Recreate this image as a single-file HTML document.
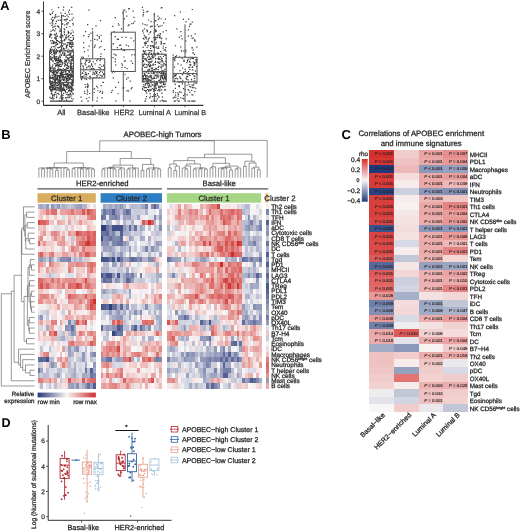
<!DOCTYPE html>
<html><head><meta charset="utf-8"><title>APOBEC figure</title>
<style>html,body{margin:0;padding:0;background:#fff;width:520px;height:532px;overflow:hidden}svg{display:block}</style>
</head><body><svg width="520" height="532" viewBox="0 0 520 532" font-family="Liberation Sans, Arial, sans-serif" text-rendering="geometricPrecision"><text x="0.3" y="9.6" font-size="12.8" font-weight="bold" fill="#000">A</text><path d="M52.52 79.23h1.2M50.64 58.74h1.2M57.68 67.95h1.2M61.08 94.71h1.2M59.31 98.09h1.2M51.08 92.75h1.2M68.74 74.43h1.2M54.26 88.93h1.2M71.65 60.62h1.2M58.42 64.65h1.2M50.02 14.71h1.2M55.85 38.43h1.2M51.73 87.93h1.2M68.49 79.96h1.2M62.86 86.14h1.2M57.84 59.7h1.2M50.41 67h1.2M53.84 94.44h1.2M59.16 56.37h1.2M62.95 79.69h1.2M56.09 73.06h1.2M65.68 45.74h1.2M62.69 83.04h1.2M69.9 68.81h1.2M55.81 52.45h1.2M51.73 13.39h1.2M67.07 74.73h1.2M60.64 87.55h1.2M64.94 97.81h1.2M62.65 49.14h1.2M56.43 36.5h1.2M63.16 55.18h1.2M59.85 64.43h1.2M71.57 40.54h1.2M64.84 72.06h1.2M65.74 94.26h1.2M72.73 59.04h1.2M55.73 42.6h1.2M64.95 76.27h1.2M59.98 101.2h1.2M51.71 86.76h1.2M67.34 94.55h1.2M54.84 88.66h1.2M69.81 76.03h1.2M59.68 91.05h1.2M70.1 66.86h1.2M69.64 42.9h1.2M58.87 81.39h1.2M70.12 77.56h1.2M52.52 19.78h1.2M54.47 86.36h1.2M60.54 83.57h1.2M55.21 63.69h1.2M58.95 101.2h1.2M62.49 77.06h1.2M65.47 20.9h1.2M63.72 69.58h1.2M50.2 56.71h1.2M67.62 33.75h1.2M68.05 36.61h1.2M58.48 75.96h1.2M64.12 89.92h1.2M50.52 94h1.2M52.8 84.77h1.2M50.16 78.45h1.2M52.53 101.2h1.2M57.63 90.02h1.2M69.88 101.2h1.2M52.47 61.69h1.2M57.24 82.64h1.2M51.85 77.3h1.2M72.73 39.52h1.2M60.51 72.45h1.2M51.35 90.79h1.2M55.25 78.33h1.2M52.77 41.81h1.2M71.72 101.2h1.2M52.42 68.56h1.2M49.55 67.37h1.2M72.38 68.57h1.2M65.61 37.88h1.2M57.7 82.22h1.2M67.43 86.81h1.2M67.6 68.21h1.2M54.25 78.95h1.2M72.54 43.79h1.2M68.25 39.1h1.2M66.66 43.01h1.2M61.32 83.89h1.2M49.6 77.71h1.2M55.61 101.2h1.2M65.52 82.31h1.2M59.63 20.08h1.2M72.61 24.78h1.2M57.65 20.44h1.2M54.34 84.2h1.2M53.8 85.36h1.2M70.51 60.89h1.2M60.41 40.49h1.2M68.09 58.57h1.2M64.75 90.84h1.2M67.68 31.34h1.2M60.37 50.78h1.2M67.84 86.25h1.2M68.12 78.81h1.2M58.4 16.27h1.2M71.62 75.53h1.2M52.98 52.82h1.2M52.53 88.77h1.2M68.26 32.53h1.2M68.74 87.83h1.2M64.67 13.35h1.2M62.07 77.96h1.2M49.24 88.58h1.2M64.49 16.52h1.2M71.31 68.7h1.2M69.82 73.98h1.2M53.97 42.12h1.2M55.93 82.66h1.2M62.97 83.21h1.2M58.96 82.3h1.2M70.74 88.57h1.2M59.9 77.8h1.2M70.6 64.15h1.2M70.93 74.61h1.2M61.66 70.69h1.2M49.35 68.94h1.2M53.29 73.68h1.2M68.08 101.2h1.2M60.26 86.55h1.2M62.26 52.79h1.2M61.34 79.13h1.2M67.72 66.38h1.2M62.35 89.8h1.2M55.55 82.82h1.2M61.09 48.26h1.2M67.14 65.88h1.2M59.54 30.69h1.2M61.03 61.81h1.2M65.53 69.85h1.2M61.7 73.1h1.2M71.5 71.87h1.2M69.94 54.87h1.2M55.13 23.53h1.2M71.54 66.06h1.2M52.19 40.54h1.2M59.51 89.04h1.2M54.68 92.3h1.2M64.97 92.21h1.2M70.43 46.93h1.2M66.09 87.43h1.2M52.33 57.99h1.2M72.12 35.66h1.2M71.76 84.24h1.2M60.59 75.68h1.2M68.88 10.12h1.2M59.26 87.09h1.2M57.04 69.58h1.2M56.54 85.41h1.2M49.37 53.03h1.2M59.47 66.5h1.2M56.86 101.2h1.2M61.19 60.9h1.2M72.54 93.67h1.2M72.22 46.43h1.2M55.27 89.86h1.2M67.6 97.74h1.2M52.01 81.77h1.2M70.77 74.53h1.2M55.11 42.94h1.2M70.96 87.68h1.2M65.71 65.17h1.2M50.28 90.61h1.2M59.11 55.75h1.2M71.42 92.33h1.2M68.14 60.06h1.2M69.45 90.89h1.2M69.61 93.28h1.2M57.04 73.03h1.2M71.14 66.57h1.2M52 81.9h1.2M54.62 68.67h1.2M52.77 89.63h1.2M53.74 95.96h1.2M56.22 79.79h1.2M55.86 49.72h1.2M53.17 70.82h1.2M49.34 78.12h1.2M49.27 82.73h1.2M62.13 52.16h1.2M60.29 85.71h1.2M51.45 25.35h1.2M59.27 42.94h1.2M68.93 71.06h1.2M61.06 75.92h1.2M72.48 55.79h1.2M68.87 78.33h1.2M64.16 54.27h1.2M57.24 75.37h1.2M52.02 95.3h1.2M66.68 92.61h1.2M52.82 82.48h1.2M69.09 90.86h1.2M64.99 37.06h1.2M54.71 81.23h1.2M59.93 80.7h1.2M59.6 87.28h1.2M71.98 82.12h1.2M62.03 15.94h1.2M72.08 83.02h1.2M57.46 79.91h1.2M58.06 101.2h1.2M60.97 72.03h1.2M61.01 85.15h1.2M55.24 101.2h1.2M58.49 90.6h1.2M49.44 97.4h1.2M54.49 80.16h1.2M61.6 63.97h1.2M64.68 50.74h1.2M70 53.52h1.2M56.73 76.1h1.2M52.49 11.85h1.2M64.34 52.87h1.2M68.95 97.05h1.2M63.96 34.62h1.2M68.39 52.09h1.2M61.47 88.17h1.2M68.94 70.47h1.2M68.73 44.57h1.2M70.33 64.09h1.2M65.54 56.18h1.2M49.65 83.73h1.2M57.56 88.47h1.2M68.96 89.85h1.2M63.97 66.14h1.2M65.24 60.71h1.2M48.98 71.34h1.2M66.86 45.36h1.2M61.74 70.59h1.2M50.49 58.07h1.2M54.95 51.86h1.2M55.27 91.99h1.2M53.83 52.46h1.2M72.32 51.61h1.2M58.08 71.11h1.2M65.31 71.83h1.2M63.71 48.87h1.2M50.76 59.39h1.2M54.99 87.77h1.2M56.21 51.34h1.2M49.2 65.4h1.2M55.35 94.27h1.2M65.51 57.05h1.2M55.88 56.75h1.2M60.05 69.5h1.2M51.74 72.43h1.2M53.68 34.42h1.2M71.37 14.08h1.2M59.92 101.2h1.2M72.13 42.83h1.2M55.35 73.24h1.2M71.59 84.72h1.2M62.86 84.67h1.2M61.48 88.05h1.2M52.08 20.99h1.2M61.11 42.8h1.2M65.78 35.2h1.2M70.44 83.66h1.2M49.5 71.49h1.2M60.7 101.2h1.2M56.15 73.17h1.2M57.16 88.1h1.2M69.07 79.6h1.2M66.92 101.2h1.2M51.78 40.64h1.2M66.01 27.34h1.2M55.86 33.32h1.2M58.33 76.92h1.2M63.04 7.11h1.2M59.17 77.47h1.2M50.06 81.55h1.2M68.93 90.01h1.2M71.35 81.05h1.2M55.28 82.78h1.2M53.46 69.95h1.2M71.85 76.87h1.2M68.39 35.49h1.2M70.82 60.34h1.2M62.08 23.89h1.2M50.09 53.24h1.2M59.72 52.21h1.2M64.37 50.5h1.2M50.08 81.02h1.2M51.96 27.24h1.2M57.15 72.15h1.2M66.64 80.47h1.2M55.14 14.7h1.2M56.12 58.33h1.2M58.36 66.23h1.2M52.78 86.8h1.2M70.64 84.81h1.2M54.18 70.96h1.2M72.82 32.19h1.2M52.25 73.21h1.2M51.08 85.57h1.2M51.09 78.36h1.2M55.1 83.28h1.2M70.19 65.25h1.2M58.81 50.83h1.2M61.48 74.93h1.2M57.02 76.7h1.2M55.56 94.04h1.2M51.92 17.38h1.2M64.01 70.55h1.2M54.08 37.93h1.2M54.86 81.75h1.2M59.6 75.61h1.2M69.27 20.7h1.2M49.42 36.79h1.2M65.93 99.99h1.2M60.26 34.19h1.2M48.9 63.84h1.2M71.14 76h1.2M69.43 42.18h1.2M54.86 16.07h1.2M52.61 89.65h1.2M65.27 69.03h1.2M66.22 23.7h1.2M67.26 59.02h1.2M62.14 72.86h1.2M67.68 97.75h1.2M70.98 83.6h1.2M56.19 59.17h1.2M54.94 88.73h1.2M65.67 59.91h1.2M50.59 89.5h1.2M62.89 68.87h1.2M54.27 76.16h1.2M49.15 62.73h1.2M59.96 80.29h1.2M64.37 19.49h1.2M60.31 35.55h1.2M54.83 83.5h1.2M65.81 19.09h1.2M49.42 80.01h1.2M65.09 70.91h1.2M55.07 74.64h1.2M71.1 57.42h1.2M49.72 83.89h1.2M58.99 78.55h1.2M53.65 56.2h1.2M66.64 45.43h1.2M53.83 70.43h1.2M56.38 16.86h1.2M54.44 42.82h1.2M67.15 84.15h1.2M71.75 80.61h1.2M53.4 71.03h1.2M58.91 84.06h1.2M71.67 57.58h1.2M58.34 87.82h1.2M72.28 84.56h1.2M50.14 88.04h1.2M58.34 94.35h1.2M70.11 33.91h1.2M72.84 52.18h1.2M56.8 26.08h1.2M71.36 85.91h1.2M49.67 51.1h1.2M57.99 57.65h1.2M56.86 76.84h1.2M48.97 86.7h1.2M57.34 81.33h1.2M51.87 20.32h1.2M53.88 18.21h1.2M68.62 77.66h1.2M59.28 42.59h1.2M60.26 96.15h1.2M70.97 76.9h1.2M57.64 85.54h1.2M49.63 34.04h1.2M68.38 75.08h1.2M49.88 48.9h1.2M50.4 98.58h1.2M55.07 28.86h1.2M70.47 51.02h1.2M55.44 78.5h1.2M63.71 19.79h1.2M66.1 82.17h1.2M55.52 79.58h1.2M67.04 101.2h1.2M64.12 29.73h1.2M49.48 23.27h1.2M60.3 83.54h1.2M71.79 20.01h1.2M54.93 76.24h1.2M60.74 74.17h1.2M53.29 26.93h1.2M66.62 44.81h1.2M67.45 42.51h1.2M56.77 62.23h1.2M57.58 79.43h1.2M50.8 47.12h1.2M66.97 85.33h1.2M50.45 82.88h1.2M62.16 99.11h1.2M72.43 79.14h1.2M72.61 35.58h1.2M50.92 82.04h1.2M60.86 90.27h1.2M59.63 54.02h1.2M58.9 83.52h1.2M65.08 61.19h1.2M69.23 50.96h1.2M51.81 57.65h1.2M55.95 40.44h1.2M57.85 65.47h1.2M53.68 51.76h1.2M54.79 82.88h1.2M70.12 87.48h1.2M56.73 64.55h1.2M72.72 75.78h1.2M54.45 70.24h1.2M64.58 44.14h1.2M51.36 9.75h1.2M68.56 72.03h1.2M70.85 40.48h1.2M55.95 97.62h1.2M53.45 89.15h1.2M62.9 15.82h1.2M57.83 26.43h1.2M59.68 37.56h1.2M67.57 82.28h1.2M51.44 22.68h1.2M63.78 63.12h1.2M57.75 84.33h1.2M53.8 88.07h1.2M63.29 82.52h1.2M53.78 58.68h1.2M56.75 101.2h1.2M53.34 56.54h1.2M53.78 79.78h1.2M62.05 45.64h1.2M51.33 93.84h1.2M62.1 75.82h1.2M51.09 59.68h1.2M65.59 86.98h1.2M55.7 75.13h1.2M71.78 80h1.2M62.5 79.78h1.2M58.89 77.64h1.2M72.82 37.78h1.2M53.63 77.32h1.2M53.79 52.56h1.2M70.54 101.2h1.2M68.59 74.46h1.2M70.09 75.3h1.2M52.8 72.69h1.2M62.14 101.2h1.2M70.74 59.56h1.2M63.83 90.63h1.2M61.01 76.99h1.2M55.7 87.85h1.2M71.11 69.13h1.2M60.67 89.66h1.2M72.11 44.55h1.2M51.94 85.33h1.2M72.31 23.32h1.2M50.18 71.65h1.2M58.21 27.39h1.2M63.79 32.68h1.2M52.75 42.3h1.2M54.23 46.72h1.2M69.21 75.38h1.2M53.29 41.77h1.2M58.49 84.31h1.2M58.11 69.39h1.2M54.83 88.97h1.2M70.44 52.81h1.2M62.4 97.49h1.2M49.82 49.95h1.2M51.73 40.74h1.2M62.1 62.85h1.2M56.25 60.65h1.2M62.88 74.64h1.2M64.71 74.37h1.2M59.42 73.36h1.2M63.75 101.2h1.2M54.55 71.33h1.2M67.62 49.25h1.2M53.21 72.81h1.2M51.47 72.1h1.2M59.23 88.7h1.2M59.51 90.5h1.2M49.88 70.01h1.2M50.87 59.9h1.2M67.56 52.12h1.2M50.2 69.91h1.2M57.97 70.51h1.2M52.17 21.44h1.2M72.81 38.59h1.2M68.46 52.24h1.2M72.46 85.51h1.2M71.86 71.21h1.2M52.86 29.83h1.2M71.23 46.42h1.2M57.32 93.46h1.2M52.71 50.1h1.2M55.5 34.09h1.2M52.35 43.32h1.2M70.98 70.65h1.2M55.21 84.79h1.2M56.56 70.34h1.2M53.27 98.2h1.2M71.37 87.1h1.2M70.39 56.43h1.2M67.74 86.73h1.2M61.64 89.36h1.2M57.53 59.91h1.2M62.22 36.78h1.2M70.08 64.41h1.2M72.73 89.87h1.2M58.36 60.43h1.2M55.25 45.37h1.2M62.76 9.91h1.2M67.25 77.49h1.2M53.14 73.58h1.2M50.06 51.31h1.2M54.99 42.84h1.2M72.52 59.67h1.2M64.83 63.95h1.2M48.94 79.76h1.2M52.48 99.15h1.2M59.27 61.53h1.2M70.39 69.81h1.2M54.35 88.53h1.2M49.43 58.56h1.2M57.42 101.2h1.2M57.47 89.78h1.2M62.91 84.01h1.2M53.8 63.69h1.2M60.3 60.9h1.2M71.38 88.39h1.2M52.48 83.06h1.2M64.22 90.3h1.2M67.67 36.97h1.2M55.24 75.5h1.2M64.38 101.2h1.2M57.31 65.83h1.2M59.55 59.16h1.2M66.5 24.74h1.2M70.58 82.82h1.2M61.66 97.01h1.2M54.6 75.31h1.2M67.59 94.64h1.2M62.12 101.2h1.2M52.31 23.84h1.2M63.49 85.22h1.2M64.3 70.27h1.2M53.09 43.57h1.2M56.11 79.92h1.2M70.24 96.27h1.2M66.07 47.04h1.2M69.17 101.2h1.2M60.07 51.19h1.2M59.76 51.46h1.2M51.43 83.93h1.2M49.83 83.62h1.2M66.89 78.67h1.2M69.19 55.2h1.2M55.28 53.87h1.2M59.37 66.52h1.2M61.46 46.42h1.2M64.31 82.02h1.2M54.11 18h1.2M49.27 35.97h1.2M54.57 82.26h1.2M71.57 51.29h1.2M56.74 51.11h1.2M56.79 35.96h1.2M70.68 83.28h1.2M65.53 60.36h1.2M72.4 57.59h1.2M69.05 72.28h1.2M69.48 55h1.2M66.29 73.82h1.2M56.29 65.19h1.2M63.84 84.61h1.2M70.76 91.44h1.2M49.55 87.91h1.2M71.19 89.77h1.2M52.3 78.23h1.2M49.9 101.2h1.2M64.11 55.4h1.2M66.58 55.04h1.2M63.07 93.42h1.2M68.52 77.34h1.2M70.29 42.87h1.2M69.73 93.39h1.2M71.56 30.23h1.2M53.84 89.75h1.2M49.73 89.51h1.2M68.39 39.66h1.2M68.7 60.08h1.2M55.8 60.29h1.2M51.25 90.1h1.2M53.82 49.96h1.2M59.07 79.45h1.2M55.06 101.2h1.2M66.08 81.2h1.2M56.6 77.12h1.2M60.99 18.27h1.2M63.74 39.24h1.2M58.81 100.67h1.2M67.45 73.86h1.2M65.81 78.13h1.2M54.1 67.79h1.2M51.08 38h1.2M52.99 42.84h1.2M53.75 101.2h1.2M72.37 49.41h1.2M60.68 101.2h1.2M68.02 71.23h1.2M60.77 85.96h1.2M68.86 78.11h1.2M71.55 82.25h1.2M54.05 81.14h1.2M60.86 54.85h1.2M64.18 89.61h1.2M67.81 91.03h1.2M67.79 55.03h1.2M57.43 60.58h1.2M58.37 75.53h1.2M50.97 34.79h1.2M49.5 35.02h1.2M55.22 84.9h1.2M60.93 33.41h1.2M70.12 76.58h1.2M59.96 83.55h1.2M67.01 68.3h1.2M64.41 50.46h1.2M56.74 78.05h1.2M69.13 87.39h1.2M66.71 57.84h1.2M59.43 86.69h1.2M62.8 48.13h1.2M59.99 88.82h1.2M54.61 35.4h1.2M56.14 85.61h1.2M69.15 54.55h1.2M52.64 87.42h1.2M56.74 82.87h1.2M52.76 69.05h1.2M53.44 79.03h1.2M66.39 15.09h1.2M72 90.01h1.2M58.12 90.02h1.2M67.98 12.16h1.2M59.34 52.14h1.2M64.21 85.39h1.2M53.85 89.76h1.2M49.71 76.15h1.2M67.88 75.64h1.2M60.91 55.33h1.2M60.02 60.22h1.2M63.39 88.05h1.2M66.68 75.37h1.2M59.22 31.77h1.2M66.88 64.9h1.2M54.39 74.59h1.2M70.02 53.03h1.2M65.7 48.06h1.2M65.21 39.12h1.2M59.79 59.49h1.2M63.98 79.74h1.2M58.97 90.2h1.2M66.02 47.11h1.2M54.9 60.44h1.2M59.82 74.47h1.2M58.72 61.09h1.2M71.22 56.79h1.2M64.61 86.03h1.2M58.23 47.59h1.2M72.29 71.31h1.2M61.94 97.98h1.2M67.66 87.12h1.2M61.36 23.92h1.2M62.69 90.04h1.2M66.12 67.54h1.2M64.24 69.85h1.2M61.42 41.8h1.2M71.65 75.1h1.2M65.32 84.7h1.2M67.2 75.95h1.2M72.53 89h1.2M50.26 77.72h1.2M58.49 81.59h1.2M58.95 101.2h1.2M65.66 74.61h1.2M55.26 77.88h1.2M66.7 84h1.2M61.55 24.07h1.2M68.14 84.27h1.2M53.99 75.98h1.2M67.54 88.66h1.2M64.12 44.01h1.2M62.39 72.3h1.2M72.03 83.93h1.2M64.23 77.83h1.2M68.49 42.96h1.2M55.96 72.35h1.2M51.9 66.96h1.2M57.41 41.25h1.2M55.32 39.32h1.2M54.99 76.73h1.2M53.36 74.35h1.2M66.22 101.2h1.2M54.78 81.26h1.2M60.41 80.28h1.2M64.2 74.24h1.2M57.6 58.07h1.2M69.41 26.77h1.2M68.77 94.86h1.2M67.72 32.3h1.2M68.85 88.12h1.2M49.26 60.16h1.2M71.74 101.2h1.2M54.9 58.33h1.2M52.33 90.02h1.2M67.53 83.55h1.2M52.56 78.15h1.2M67.9 32.71h1.2M70.29 86.77h1.2M67.65 62.14h1.2M70.35 57.33h1.2M69.03 46.46h1.2M65.53 85.33h1.2M66.71 68.36h1.2M70.08 73.75h1.2M55.25 66.41h1.2M52.24 83.52h1.2M50.3 71.16h1.2M52.37 72.39h1.2M60.86 71.24h1.2M69.61 67.66h1.2M69.08 101.2h1.2M62.4 72.35h1.2M69.07 57.58h1.2M58.95 76.79h1.2M50.71 19.09h1.2M64.17 59.85h1.2M63.53 101.2h1.2M71.26 56.2h1.2M72.46 78.91h1.2M60.53 69.97h1.2M49.71 33.98h1.2M63.91 53.35h1.2M69.58 78.52h1.2M60.29 77.21h1.2M67.39 68.78h1.2M59.34 84.67h1.2M62.2 74.53h1.2M55.93 42.05h1.2M58.59 41.94h1.2M55.42 70.52h1.2M72.3 70.31h1.2M67.91 58.44h1.2M56.51 78.89h1.2M62.97 80.4h1.2M67.72 60.03h1.2M66.24 97.67h1.2M61.99 35.34h1.2M56.11 96.07h1.2M53.46 101.2h1.2M63.51 28.53h1.2M67.84 58.17h1.2M63.58 31.33h1.2M63.94 61.48h1.2M63.21 55.09h1.2M54 56.33h1.2M59.89 57.45h1.2M51.33 49.36h1.2M49.79 86.11h1.2M70.84 48h1.2M57.75 58.35h1.2M67.78 42.52h1.2M55.09 65.85h1.2M59.02 80.27h1.2M59.24 79.48h1.2M71.31 59.47h1.2M62.52 95.26h1.2M51.75 97.78h1.2M62.71 43.92h1.2M59.62 29.21h1.2M58.19 101.2h1.2M71.41 63.46h1.2M60.31 13.19h1.2M51.35 75h1.2M53.99 59.25h1.2M49.27 87.56h1.2M65.31 101.2h1.2M72.09 89.03h1.2M69.77 90.68h1.2M49.33 88.68h1.2M54.71 53.25h1.2M53.4 52.12h1.2M67.48 96h1.2M69.43 53.72h1.2M50.92 52.42h1.2M65.92 60.52h1.2M71.28 72.71h1.2M72.04 82.56h1.2M49.17 53.43h1.2M64.52 101.2h1.2M50.81 43.12h1.2M66.41 79.84h1.2M69.56 86.86h1.2M50.33 71.48h1.2M62.7 77.14h1.2M65.15 73.75h1.2M68.04 87.9h1.2M64.38 77.35h1.2M58.93 60.44h1.2M67.77 76.28h1.2M67.73 22.87h1.2M55.92 65.47h1.2M72.27 94.27h1.2M68.76 54.54h1.2M63.44 78.84h1.2M68.85 14.31h1.2M56.31 62.72h1.2M70.21 74.23h1.2M65.34 76.71h1.2M70.41 62.67h1.2M55.7 44.25h1.2M55.21 101.2h1.2M62.98 74.52h1.2M70.2 43.28h1.2M68.9 97.3h1.2M69.71 43.76h1.2M55.47 65.07h1.2M68.27 39.27h1.2M70.83 56.04h1.2M50.94 78.13h1.2M68.04 66.53h1.2M66.9 85.18h1.2M54.52 26.05h1.2M65.16 62.26h1.2M53.86 72.48h1.2M66.93 82.52h1.2M59.93 46.05h1.2M68.26 90.7h1.2M54.49 48.27h1.2M70.43 64.45h1.2M61.42 35.4h1.2M63.04 71.94h1.2M53.52 85.73h1.2M65.73 86.14h1.2M62.45 77.37h1.2M61.31 75.48h1.2M49.97 87.7h1.2M57.88 7.66h1.2M64.09 89.8h1.2M52.65 46.54h1.2M57.18 63.04h1.2M49.39 69.27h1.2M72.67 99.27h1.2M60.57 37.57h1.2M55.18 65.44h1.2M59.12 47.47h1.2M67.31 22.49h1.2M72.02 42.95h1.2M49.81 82.56h1.2M53.24 85.15h1.2M50.12 90.9h1.2M69.8 66.23h1.2M71.63 72.81h1.2M50.44 31.31h1.2M58.44 62.97h1.2M71.92 89.12h1.2M62.45 82.41h1.2M71.85 59.56h1.2M58.33 57.23h1.2M52.73 73.29h1.2M72.7 17.85h1.2M49.83 84.13h1.2M57.35 82.47h1.2M70.61 33.04h1.2M50.03 40.86h1.2M65.93 46.65h1.2M72.55 59.08h1.2M52.38 95.07h1.2M71.45 50.24h1.2M56.07 56.66h1.2M67.09 63.5h1.2M56.67 89.83h1.2M51.88 82.42h1.2M52.95 71.72h1.2M52.34 83.32h1.2M49.2 56.6h1.2M53.58 53.43h1.2M71.16 98.33h1.2M71.32 84.19h1.2M70.23 37.49h1.2M59.63 88.15h1.2M71.19 90.24h1.2M63.98 40.28h1.2M57.05 73.1h1.2M60.36 42.47h1.2M52.33 60.56h1.2M50.26 84.14h1.2M62.18 53.71h1.2M69.8 87.91h1.2M58.78 81.97h1.2M55.41 87.37h1.2M56.93 40.59h1.2M60.68 86.78h1.2M70.58 79.5h1.2M72.39 89.4h1.2M70.38 94.89h1.2M53.97 57.35h1.2M55.77 71.9h1.2M53.74 82.38h1.2M72.68 77.3h1.2M71.1 7.35h1.2M55.85 90.21h1.2M50.28 34.13h1.2M55.94 52.68h1.2M49.28 13.91h1.2M57.08 44.3h1.2M48.95 88.13h1.2M61.54 41.42h1.2M59.35 85.89h1.2M54.14 30.81h1.2M52.21 65.11h1.2M67.39 86.17h1.2M53.62 53.87h1.2M51 91.2h1.2M60.79 62.13h1.2M53.84 81.61h1.2M65.89 61.82h1.2M62.89 43.78h1.2M50.48 85.09h1.2M58.69 52.18h1.2M50.23 53.07h1.2M56.95 43.89h1.2M69.65 40.32h1.2M49.27 71.16h1.2M60.34 31.24h1.2M55.29 36.89h1.2M68.86 85.88h1.2M52.82 77.16h1.2M63.18 76.97h1.2M61.38 101.2h1.2M61.28 73.41h1.2M66.05 89.08h1.2M69.67 43.21h1.2M65.97 79.36h1.2M66.93 76.48h1.2M69.85 94.18h1.2M60.78 20.67h1.2M61.63 69.76h1.2M49.4 67.83h1.2M54.27 17.45h1.2M51.36 86.06h1.2M68.51 82.73h1.2M51.22 101.16h1.2M53.58 54.89h1.2M63.29 101.2h1.2M61.45 64.7h1.2M51.37 54.59h1.2M66.11 37.17h1.2M51.85 96.82h1.2M60.92 71.13h1.2M51.83 81.34h1.2M52.19 75.33h1.2M69.57 63.47h1.2M62.65 87.78h1.2M52.84 51.07h1.2M71.4 42.13h1.2M58.99 76.13h1.2M61.51 40.57h1.2M71.49 75.8h1.2M57.03 47.73h1.2M56.94 83.22h1.2M72.45 73.9h1.2M70.81 44.6h1.2M69.24 43.39h1.2M61.32 95.44h1.2M71.32 19.75h1.2M59.03 82.79h1.2M57.65 60.2h1.2M50.56 68.36h1.2M61.01 74.02h1.2M52.25 101.2h1.2M67.54 16.9h1.2M64.1 24.8h1.2M70.12 44.04h1.2M49.72 35.45h1.2M55.28 59.48h1.2M55.46 56.53h1.2M71.09 67.44h1.2M54.91 61.11h1.2M59.31 69.2h1.2M55.8 21.44h1.2M64.44 80.11h1.2M63.16 89.1h1.2M61.23 20.18h1.2M60.09 81.87h1.2M52.46 68.12h1.2M52.05 88.92h1.2M58.66 80.67h1.2M54.74 80.92h1.2M62.01 90.69h1.2M63.54 40.57h1.2M64.51 65.2h1.2M65.95 85.14h1.2M62.05 72.69h1.2M60.16 61.79h1.2M54.71 79.86h1.2M61.2 84.14h1.2M62.96 76.4h1.2M57.36 101.2h1.2M54.62 38.05h1.2M60.69 66.29h1.2M72.6 81.09h1.2M67.43 80.58h1.2M50.5 87.23h1.2M59.46 36.97h1.2M58.21 94.04h1.2M66.55 73.69h1.2M54.3 89.64h1.2M66.63 19.4h1.2M56.99 87.43h1.2M65.11 77.86h1.2M69.3 61.51h1.2M61.33 42.68h1.2M66.74 51.7h1.2M60.31 49.69h1.2M65.91 46.82h1.2M51.95 30.16h1.2M49 37.03h1.2M62.96 49.01h1.2M72.01 70.93h1.2M58.93 65.06h1.2M69.85 46.96h1.2M58.01 62.23h1.2M59.89 73.1h1.2M55.93 52.96h1.2M93.43 73.31h1.2M87.83 73.53h1.2M100.49 53.87h1.2M90.76 69.49h1.2M87.4 84.89h1.2M93.91 88.85h1.2M82.21 65.95h1.2M87.87 36.61h1.2M100.22 46.57h1.2M85 31.61h1.2M101.95 72.06h1.2M81.24 101.2h1.2M92.04 66.67h1.2M98.66 36.6h1.2M104.06 67.81h1.2M92.51 68.72h1.2M89.45 61.47h1.2M94.37 74.47h1.2M102.85 74.7h1.2M92.71 61.85h1.2M89.09 93.5h1.2M93.57 72.95h1.2M101.22 66.28h1.2M91.78 28.81h1.2M95.09 71.58h1.2M88.34 10.11h1.2M99.68 68.17h1.2M87.73 86.26h1.2M99.92 20.57h1.2M82.75 68.93h1.2M96.66 39.94h1.2M103.87 49.53h1.2M90.2 40.77h1.2M87.06 87.7h1.2M92.22 68.97h1.2M84.48 84.5h1.2M94.58 63.85h1.2M103.95 74.63h1.2M81.12 63.58h1.2M99 72.58h1.2M96.68 76.26h1.2M87.41 101.2h1.2M94.17 46.73h1.2M84.82 62.21h1.2M93.38 69.55h1.2M95.62 77.69h1.2M104.03 68.11h1.2M89.97 66.26h1.2M83.86 91.23h1.2M82.66 57.44h1.2M84.19 93.39h1.2M99.86 68.5h1.2M99.46 64.59h1.2M80.4 97.22h1.2M87.85 56.01h1.2M88.59 60.17h1.2M86.5 86.39h1.2M101.79 93.45h1.2M88.47 65.92h1.2M89.36 71.24h1.2M101.47 97.97h1.2M103.13 65.9h1.2M94.98 71.59h1.2M81.16 78.32h1.2M100.61 35.23h1.2M101.67 75.98h1.2M87.39 50.13h1.2M103.14 65.04h1.2M102.89 69.63h1.2M89.46 78.96h1.2M85.41 60.04h1.2M101.11 76.17h1.2M99.13 70.02h1.2M84.26 78.92h1.2M84.58 74.45h1.2M87.08 24.63h1.2M82.86 66.82h1.2M89.35 68.02h1.2M81.67 72.87h1.2M99.92 91.04h1.2M85.98 74.7h1.2M86.91 84.19h1.2M80.94 79.55h1.2M88.29 62.38h1.2M97.04 87.75h1.2M86.57 94.14h1.2M83.17 47.65h1.2M100.17 71.46h1.2M83.92 51.55h1.2M97.44 74.64h1.2M103.1 73.8h1.2M102.92 82.49h1.2M85.55 69.27h1.2M83.24 71.14h1.2M86.36 60.56h1.2M94.2 39.28h1.2M86.01 74.11h1.2M85.2 64.8h1.2M83.05 42.81h1.2M93.12 68.91h1.2M98.62 77.53h1.2M95.88 73.52h1.2M87.56 66.55h1.2M82.16 73.34h1.2M100.52 85.62h1.2M96.01 75.76h1.2M93.59 92.49h1.2M92.11 74.34h1.2M81.68 76.6h1.2M85.53 76.1h1.2M97.3 90.76h1.2M89.78 77.11h1.2M98.7 38.07h1.2M100.77 41.46h1.2M86.74 90.15h1.2M96.41 101.2h1.2M88.53 62.41h1.2M95.92 72.54h1.2M86.06 60.87h1.2M88.55 46.14h1.2M84.46 63.91h1.2M102 91.86h1.2M97.2 59.36h1.2M81.06 101h1.2M84.85 87.13h1.2M89.24 76.39h1.2M87.56 101.2h1.2M84.41 63.5h1.2M93.78 47.08h1.2M86.21 60.12h1.2M96.52 71.76h1.2M80.12 74.77h1.2M98.74 47.75h1.2M81.13 76.97h1.2M94.68 45.17h1.2M85.97 98.71h1.2M99.09 92.27h1.2M102.05 82.27h1.2M82.17 58.7h1.2M89.55 61.06h1.2M99.99 58.78h1.2M82.26 77.16h1.2M90.28 33.22h1.2M96.7 35.31h1.2M100.02 59.17h1.2M90.97 63.94h1.2M96.86 98.01h1.2M92.39 71.99h1.2M83.16 35.58h1.2M81.15 57.13h1.2M99.44 60.72h1.2M93.21 77.86h1.2M95.4 25.89h1.2M86.09 67.58h1.2M88.69 97.5h1.2M84.93 72.58h1.2M83.38 76.12h1.2M96.19 60.53h1.2M85.9 79.47h1.2M90.78 68.81h1.2M88.54 34.58h1.2M101.33 76.52h1.2M93.62 89.17h1.2M99.67 75.32h1.2M98.35 67.39h1.2M96.1 86.41h1.2M91.17 65.21h1.2M100.05 56.58h1.2M87.04 91.93h1.2M85.05 74.37h1.2M117.44 93.73h1.2M127.54 77.7h1.2M113.41 54.21h1.2M121.95 65h1.2M114.73 61.64h1.2M110.96 92.38h1.2M128.71 8.71h1.2M127.91 90.96h1.2M124.23 10.05h1.2M122.43 88.05h1.2M115.26 55.42h1.2M110.9 46.69h1.2M126.17 16.05h1.2M133.15 40.82h1.2M116.73 39.1h1.2M114.03 71.97h1.2M129.29 101.2h1.2M117.81 23.74h1.2M126.01 79.03h1.2M132.94 23.15h1.2M129.53 81.06h1.2M128.52 24.62h1.2M115.13 64.81h1.2M118.38 25.11h1.2M123.93 61.15h1.2M130.65 61.09h1.2M111.69 72.74h1.2M125.78 45.04h1.2M127.63 25.65h1.2M133.38 17.43h1.2M122.69 50.17h1.2M117.89 82.34h1.2M112.63 44.05h1.2M114.63 36.65h1.2M133.98 54.63h1.2M111.66 90.29h1.2M115.28 54.96h1.2M110.77 34.22h1.2M131.23 23.62h1.2M120.91 28.8h1.2M126.58 68.6h1.2M120.81 48.66h1.2M121.23 63.76h1.2M130.53 38.16h1.2M114.65 17.55h1.2M121.34 67.51h1.2M119.05 45.28h1.2M112.74 77.9h1.2M121.75 65.07h1.2M132.51 11.05h1.2M134.08 21.25h1.2M125.58 11.99h1.2M112.14 26.47h1.2M125.32 37.45h1.2M124.41 67.39h1.2M122.24 12.85h1.2M117.88 39.46h1.2M131.94 63.35h1.2M115.23 101.2h1.2M121.44 37.29h1.2M126.55 90.82h1.2M124.64 60.85h1.2M123.42 56.98h1.2M120.21 45.18h1.2M115.03 87.41h1.2M123.85 18.89h1.2M131.39 87.64h1.2M112.98 71.2h1.2M116.74 47.54h1.2M124 50.61h1.2M124.44 74.25h1.2M123.02 87.56h1.2M112.63 43.55h1.2M112.46 57.7h1.2M131.42 54.95h1.2M127.85 46.17h1.2M113.45 31.69h1.2M128.02 8.88h1.2M130.63 88.84h1.2M114.81 59.11h1.2M155.21 20.94h1.2M144.98 50.84h1.2M143.08 50.68h1.2M150.64 82.81h1.2M155.96 101.2h1.2M148.9 84.15h1.2M151.92 57.09h1.2M156.61 35.64h1.2M155.21 37.85h1.2M162.6 31.78h1.2M159.59 86.69h1.2M160.03 78.13h1.2M161.52 58.93h1.2M150.65 89.23h1.2M164.45 55.05h1.2M142.74 56.11h1.2M144.09 64.18h1.2M160.97 67.93h1.2M163.91 89.78h1.2M147.81 59.29h1.2M152.42 85.27h1.2M155.65 42.39h1.2M142.2 89.75h1.2M160.92 89.93h1.2M155 85.72h1.2M158.19 80.35h1.2M145.16 76.42h1.2M154.62 37.41h1.2M161.1 58.31h1.2M142.03 23.9h1.2M145.32 78.08h1.2M162.65 71.15h1.2M142.55 47.43h1.2M161.34 85.88h1.2M151.12 59h1.2M145.5 72.32h1.2M151.14 41.46h1.2M156.36 37.73h1.2M149.6 93.55h1.2M163.16 83.97h1.2M142.75 65.17h1.2M150.36 86.59h1.2M155.55 72.67h1.2M150.19 76.12h1.2M155.6 101.2h1.2M142.19 78.46h1.2M165.37 73.03h1.2M145.2 98.88h1.2M148.24 59.58h1.2M153.7 81.07h1.2M155.36 81.55h1.2M164.67 69.35h1.2M142.52 10.22h1.2M160.2 67.13h1.2M160.28 37.82h1.2M156.93 62.17h1.2M148.46 77.2h1.2M162.65 48.12h1.2M158.05 26.56h1.2M160.02 79.74h1.2M153.91 54.89h1.2M150.11 62.03h1.2M151.44 67.8h1.2M149.79 96.25h1.2M165.42 78.91h1.2M150.51 72.08h1.2M147.34 82.45h1.2M144.95 77.79h1.2M162.6 101.2h1.2M152.39 73.3h1.2M148.96 66.57h1.2M143.29 86.64h1.2M149.1 79.85h1.2M154.93 55.77h1.2M149.87 26.87h1.2M155.7 31.13h1.2M145.99 92.82h1.2M165.4 65.77h1.2M160.29 77.45h1.2M162.54 74.37h1.2M153.33 94.97h1.2M148.32 34.24h1.2M142.25 81.75h1.2M148.13 86.88h1.2M146.94 57.29h1.2M146.51 75.61h1.2M162.44 64.24h1.2M146.42 61.15h1.2M164.82 55.28h1.2M143.6 64.37h1.2M162.71 46.23h1.2M144.98 78.14h1.2M154.59 85.55h1.2M157.06 37.41h1.2M146.79 30.69h1.2M159.68 78.76h1.2M151.43 61.09h1.2M149.81 59.03h1.2M151.64 96.77h1.2M156.73 98.87h1.2M153.56 78.42h1.2M147.87 64.58h1.2M142.03 72.86h1.2M155.24 30.06h1.2M143.04 12.31h1.2M159.08 63.48h1.2M143.94 78.66h1.2M145.12 87.35h1.2M143.86 51.88h1.2M151.86 45.62h1.2M155.82 68.63h1.2M157.48 67.51h1.2M149.64 64.33h1.2M147.89 54.78h1.2M160.02 56.81h1.2M149.12 50.7h1.2M165.16 51.15h1.2M148.38 73.3h1.2M164.28 69.68h1.2M141.92 88.72h1.2M157.43 72.32h1.2M150.4 50.94h1.2M147.18 11.41h1.2M143.86 53.29h1.2M144.92 101.2h1.2M153.74 96.3h1.2M146.06 67.5h1.2M150.47 26.27h1.2M145.96 87.74h1.2M163.81 55.01h1.2M142.4 87.02h1.2M147.52 50.42h1.2M153.67 14.65h1.2M149.96 61.96h1.2M152.74 47.42h1.2M163.38 78.89h1.2M159.3 90.07h1.2M157.19 95.37h1.2M162.44 75.51h1.2M155.24 96.33h1.2M163.76 75.17h1.2M156.75 24.9h1.2M147.75 83.53h1.2M152.11 81.54h1.2M146.58 83.12h1.2M157.13 52.95h1.2M165.56 79.98h1.2M155.37 83.95h1.2M162.41 87.32h1.2M148.11 38.23h1.2M161.45 53.97h1.2M149.66 80.67h1.2M163.08 71.9h1.2M158.09 87.05h1.2M152.57 64.6h1.2M162.89 65.86h1.2M162.91 84.34h1.2M160.42 77.31h1.2M146.08 39.02h1.2M165.58 38.94h1.2M142.29 80.02h1.2M165.08 89.86h1.2M163.58 101.2h1.2M159.36 87.65h1.2M145.75 90.65h1.2M143.87 58.77h1.2M163.74 78.21h1.2M162.87 56.48h1.2M142.49 15.79h1.2M160.71 82.94h1.2M142.61 58.32h1.2M147.26 70.95h1.2M144.22 74.28h1.2M165.48 101.2h1.2M162.79 79.2h1.2M153.4 89.36h1.2M151.98 88.5h1.2M158.15 86.07h1.2M159.42 87.82h1.2M144.4 71.23h1.2M153.61 77.6h1.2M150.09 31.62h1.2M164.92 84.04h1.2M159.25 36.38h1.2M145.95 81.08h1.2M143.35 81.44h1.2M153.91 99.76h1.2M155.06 75.24h1.2M141.95 77.21h1.2M157.37 58.41h1.2M154.87 68.27h1.2M165.28 58.26h1.2M158.93 37.59h1.2M149.34 75.63h1.2M165.05 74.77h1.2M150.95 76.15h1.2M145.13 75.16h1.2M141.83 7.44h1.2M163.93 63.9h1.2M156.36 81.87h1.2M147.48 76.59h1.2M144.49 84.98h1.2M160.52 41.74h1.2M142.89 32.98h1.2M149.48 57.99h1.2M154.87 61.27h1.2M165.02 79.24h1.2M159.61 101.2h1.2M153.94 40.34h1.2M165.57 64.96h1.2M156.81 82.95h1.2M150.79 54.63h1.2M151.14 56.76h1.2M156.41 69.48h1.2M149.43 59.15h1.2M154.73 62.46h1.2M156.4 83.58h1.2M163.51 81.43h1.2M159.02 72.43h1.2M153.14 69.77h1.2M145.11 83.69h1.2M154.39 29.53h1.2M154.36 69.64h1.2M147.43 45.71h1.2M161.43 86.44h1.2M157.07 72.99h1.2M163.16 43.82h1.2M142.74 38.43h1.2M161.67 76.4h1.2M144.65 45.12h1.2M147.74 87.48h1.2M150.26 90.35h1.2M154.21 47.06h1.2M143.81 73.31h1.2M165.63 75.79h1.2M152.48 57.94h1.2M160.86 72.21h1.2M145.3 53h1.2M150.51 58.95h1.2M147.4 69.86h1.2M149.86 76.86h1.2M142.13 76.41h1.2M155.39 84.84h1.2M145.98 96.72h1.2M148.29 56.35h1.2M147.5 78.88h1.2M143.89 42.93h1.2M162.31 61.96h1.2M151.86 84.79h1.2M156.53 48.52h1.2M142.75 76.82h1.2M150.51 73.76h1.2M148.79 56.74h1.2M157.26 75.25h1.2M150.16 46.04h1.2M155.59 76.23h1.2M146.3 30.19h1.2M158.79 17.96h1.2M157.67 76.79h1.2M143.4 78.64h1.2M150.81 53.37h1.2M153.62 69.51h1.2M159.87 33.95h1.2M155.93 101.2h1.2M152.79 72.89h1.2M151.66 42.2h1.2M163.07 72.42h1.2M153.49 73.87h1.2M161.49 70.47h1.2M159.47 59.62h1.2M142.67 75.52h1.2M154.99 58.97h1.2M160.18 51.6h1.2M147 89.49h1.2M161.32 93.33h1.2M143.82 90.42h1.2M155.25 53.73h1.2M158.04 97.2h1.2M153.29 56.84h1.2M158.28 97.24h1.2M155.71 74.82h1.2M161.3 7.56h1.2M145.19 37.88h1.2M154.14 78.43h1.2M165.43 101.2h1.2M148 81.01h1.2M147.82 79.35h1.2M155.04 39.62h1.2M151.79 70.52h1.2M149.01 97.87h1.2M160.95 38.56h1.2M147.87 39.92h1.2M142.95 84.77h1.2M150.67 68.75h1.2M153.44 72.82h1.2M150.48 65.54h1.2M146.51 47.3h1.2M155.05 31.53h1.2M149.24 97.87h1.2M151.51 69.01h1.2M149.47 66.83h1.2M160.81 81.06h1.2M158.75 80.28h1.2M155.91 47.16h1.2M164.14 73.24h1.2M162.77 73.66h1.2M152.11 96.72h1.2M142.88 61.75h1.2M143.43 39.12h1.2M146.02 64.69h1.2M155.17 30.82h1.2M153.66 47.4h1.2M157.9 59.38h1.2M146.76 80.14h1.2M145.2 42.37h1.2M146.67 31.74h1.2M143.99 90.46h1.2M164.52 49.6h1.2M157.51 74.96h1.2M163.44 81.75h1.2M145.42 58.56h1.2M158.4 96.91h1.2M161.77 100.41h1.2M147.28 80.19h1.2M149.35 65.66h1.2M145.4 67.13h1.2M149.49 32.53h1.2M145.35 41.97h1.2M165.22 47.58h1.2M142.49 75.96h1.2M157.08 76.46h1.2M154.8 83.57h1.2M152.85 90.87h1.2M152.02 55.66h1.2M144.44 59.04h1.2M144.63 43.68h1.2M165.61 30.58h1.2M154.33 26.35h1.2M150.05 80.31h1.2M153.62 54.13h1.2M143.93 28.87h1.2M162.44 71.93h1.2M154.68 64.59h1.2M145.05 91.35h1.2M163.13 81.16h1.2M147.15 41.42h1.2M142.48 30.24h1.2M164.92 64.52h1.2M164.37 78h1.2M142.9 60.57h1.2M152.49 78.48h1.2M159.52 82.22h1.2M160.61 86.08h1.2M143.37 79.99h1.2M144 67.23h1.2M160.61 67.75h1.2M152.77 64.74h1.2M154.02 101.2h1.2M157.22 90.67h1.2M155.57 88.71h1.2M150.69 77.63h1.2M145.63 60.12h1.2M164.3 86.59h1.2M161.92 78.55h1.2M153.23 37.67h1.2M143.96 87.75h1.2M144.51 36.92h1.2M154.56 71.44h1.2M152.93 89.52h1.2M154.55 86.91h1.2M150.51 70.81h1.2M151.39 85.02h1.2M144.75 84.69h1.2M162.62 82.64h1.2M163.07 71.15h1.2M164.34 101.2h1.2M160.69 71.78h1.2M158.24 66.46h1.2M159.7 83.24h1.2M148.04 87.49h1.2M151.14 101.2h1.2M148.71 70.04h1.2M143.72 35.39h1.2M147.31 65.9h1.2M160.52 64.76h1.2M143.19 56.86h1.2M156.08 82.31h1.2M142.69 14.37h1.2M158.3 63.19h1.2M149.91 45.53h1.2M152.78 46.08h1.2M141.96 31.23h1.2M151.59 26.12h1.2M143.81 75.29h1.2M159.31 82.37h1.2M145.33 59.04h1.2M145.07 78h1.2M146.97 84.99h1.2M165.12 78.57h1.2M160.7 7.92h1.2M153.64 72.15h1.2M163.49 50.26h1.2M156.97 53.98h1.2M156.7 84.94h1.2M160.58 41.38h1.2M158.92 90.94h1.2M145.59 77.79h1.2M157.85 19.44h1.2M144.94 54.48h1.2M164.19 43.69h1.2M159.58 33.48h1.2M160.95 43.15h1.2M152.15 65.09h1.2M160.53 44.13h1.2M148.88 38.02h1.2M154.46 20.7h1.2M144.48 24.64h1.2M160.6 18.73h1.2M161.82 81.99h1.2M146.45 83.08h1.2M147.38 73.09h1.2M163.49 71.59h1.2M158.75 58.6h1.2M160.51 75.94h1.2M158.09 48.34h1.2M161.52 25.75h1.2M143.79 75.33h1.2M161.77 60.85h1.2M155.98 78.2h1.2M160.73 42.64h1.2M153.44 101.2h1.2M144.35 101.2h1.2M151.75 45.83h1.2M152.68 64.11h1.2M146.83 78.38h1.2M161.97 77.59h1.2M148.71 63.12h1.2M148.2 91.43h1.2M152.31 57.51h1.2M161.07 60.26h1.2M158.09 89.35h1.2M161.45 100.52h1.2M148.22 85.78h1.2M150.4 21.55h1.2M163.06 83.53h1.2M163.15 63.73h1.2M153.69 75.84h1.2M153.86 22.06h1.2M146.25 11.85h1.2M145.59 43.4h1.2M141.71 69.41h1.2M164.38 86.27h1.2M161.13 73.24h1.2M150.16 82.04h1.2M154.96 90.46h1.2M154.03 39.17h1.2M163.99 76.6h1.2M157.69 34.95h1.2M156.68 93.54h1.2M164.69 73.69h1.2M157.57 77.24h1.2M150.72 62.25h1.2M157.94 69.76h1.2M153.65 33.16h1.2M165.13 77.16h1.2M161.74 96.85h1.2M155.08 58.72h1.2M159.73 73.53h1.2M159.19 35.31h1.2M142.54 54.19h1.2M144.99 78.83h1.2M163.09 22.79h1.2M155.8 88.01h1.2M142.82 66.02h1.2M159.64 75.93h1.2M148.44 61.6h1.2M148.69 52.51h1.2M151.8 68.25h1.2M157.27 16.19h1.2M157.94 46.84h1.2M164.81 76.44h1.2M158.28 56.93h1.2M145.58 80.89h1.2M161.52 66.13h1.2M150.03 48.34h1.2M154.08 88.27h1.2M145.59 37.15h1.2M145.8 54.97h1.2M142.98 79.4h1.2M150.89 80.02h1.2M164.79 19.13h1.2M149.13 85.61h1.2M146.44 25.22h1.2M152.22 79.01h1.2M147.95 90.04h1.2M150.95 75.86h1.2M148.1 20.01h1.2M163.51 84.66h1.2M161.79 73.42h1.2M160.39 61.9h1.2M145.35 79.28h1.2M152.99 53.23h1.2M157.79 67.26h1.2M148.31 53.82h1.2M163.72 77.2h1.2M148.62 69.27h1.2M147.93 62.37h1.2M142.69 51.32h1.2M155.3 43.93h1.2M164.26 77.6h1.2M147.54 81.4h1.2M154.87 94.6h1.2M157.97 53.68h1.2M161.09 75.04h1.2M149.07 89.88h1.2M164.92 61.37h1.2M158.31 62.12h1.2M151.17 50.89h1.2M159.52 26.11h1.2M151.12 78.11h1.2M180.79 50.76h1.2M193.32 87.72h1.2M184.91 71.46h1.2M194.04 62.55h1.2M180.53 92.3h1.2M182.32 98.24h1.2M192.85 73.39h1.2M186.27 62.65h1.2M186.17 76.82h1.2M192.68 81.26h1.2M192.52 52.79h1.2M188.52 90.75h1.2M184.41 56.84h1.2M193.97 39.84h1.2M192.1 57.78h1.2M193.49 63.88h1.2M189.3 92.5h1.2M187.1 60.32h1.2M174.02 81.22h1.2M192.18 66.83h1.2M177.51 81.29h1.2M174.65 84.37h1.2M195.8 62.12h1.2M181.03 51.18h1.2M174.13 60.6h1.2M180.2 46.88h1.2M187.5 101.2h1.2M179 91.84h1.2M183.1 98.84h1.2M191.78 69.97h1.2M192.26 101.2h1.2M177.79 94.32h1.2M180.56 65.14h1.2M186.04 79.3h1.2M191.44 84.9h1.2M192.55 85.68h1.2M185.29 50.4h1.2M191.07 101.2h1.2M184.51 101.2h1.2M173.91 76.13h1.2M189.79 65.1h1.2M182 68.02h1.2M186.53 72.74h1.2M193.22 84.16h1.2M191.7 9.49h1.2M180.31 31.71h1.2M174.11 15.59h1.2M175.61 74.28h1.2M188.78 75.1h1.2M183.31 60.02h1.2M176.96 78.94h1.2M179.18 76.85h1.2M190.06 86.97h1.2M182.93 72.47h1.2M189.29 86.67h1.2M178.77 86.75h1.2M189.23 69.62h1.2M190.34 24.16h1.2M194.48 33.95h1.2M189.67 59.1h1.2M177.34 98.52h1.2M193.13 101.2h1.2M187.52 59.14h1.2M180.93 81.6h1.2M187.57 89.66h1.2M179.74 12.22h1.2M176.6 100.25h1.2M193.98 78.48h1.2M183.32 50.9h1.2M174.96 95.06h1.2M191.06 90.52h1.2M196.17 74.51h1.2M191.47 38.26h1.2M192.13 74.34h1.2M175.01 92.76h1.2M184.59 69.42h1.2M178.45 85.65h1.2M194.21 101.2h1.2M195.09 59.9h1.2M182.88 19.28h1.2M181.62 58.46h1.2M192.59 50.03h1.2M172.71 92.28h1.2M186.45 85.23h1.2M172.62 77.67h1.2M191.27 47.86h1.2M173.44 74.77h1.2M185.22 40.94h1.2M180.16 97.79h1.2M193.65 65.45h1.2M187.75 74.05h1.2M178.24 85.96h1.2M181.58 38.96h1.2M186.59 94.89h1.2M177.2 92.94h1.2M186.45 75.02h1.2M189.37 64.69h1.2M174.02 75.59h1.2M173.69 58.98h1.2M182.01 74.53h1.2M189.53 62.32h1.2M187.99 82.97h1.2M183.72 61.08h1.2M194.22 91.58h1.2M173.91 67.11h1.2M196.08 83.08h1.2M181.82 83.94h1.2M192.17 52.84h1.2M190.2 64.85h1.2M174.65 101.2h1.2M191.67 22.13h1.2M173.57 101.2h1.2M194.74 82.91h1.2M188.53 84.75h1.2M187.73 36.07h1.2M178.71 37.37h1.2M172.84 90.56h1.2M174.89 56.49h1.2M189.44 24.07h1.2M191.77 87.61h1.2M184.69 89.73h1.2M191.29 94.74h1.2M194.39 40.86h1.2M192.83 101.2h1.2M192.11 69.9h1.2M187.28 73.36h1.2M191.59 67.4h1.2M173.7 97.21h1.2M179.38 70.58h1.2M172.58 77.05h1.2M172.98 57.65h1.2M191.88 47.94h1.2M175.33 74.96h1.2M177.37 63.8h1.2M175.05 75.95h1.2M185.51 21.93h1.2M174.66 78.57h1.2M192.79 58.61h1.2M174.83 45.74h1.2M179.67 78.05h1.2M175.95 55.86h1.2M195.89 66.63h1.2M172.57 55.11h1.2M175.13 97.44h1.2M186.77 61.05h1.2M183.33 72.22h1.2M187.06 76.69h1.2M194.39 63.9h1.2M191.52 58.45h1.2M192.49 38.13h1.2M173.13 59.48h1.2M192.8 61.81h1.2M193.48 75.89h1.2M195.03 88.24h1.2M189.36 75.52h1.2M179.61 81.98h1.2M180.19 78.71h1.2M183.03 95.71h1.2M188.1 19.07h1.2M190.7 35.85h1.2M196.26 47.09h1.2M178.98 57.01h1.2M182.3 82.1h1.2M177.94 101.2h1.2M194.5 41.26h1.2M190.89 79.38h1.2M193.76 54.38h1.2M185.17 52.07h1.2M192.21 94.82h1.2M187.45 79.9h1.2M185.29 78.07h1.2M176.27 28.92h1.2M188 71.52h1.2M194.91 71.04h1.2M194.33 76.69h1.2M195.62 61.23h1.2M177.5 96.16h1.2M194.16 80.8h1.2M178.64 101.2h1.2M196.15 59.54h1.2M182.91 88.55h1.2M188.98 61.42h1.2M190.48 57.58h1.2M178.57 82.21h1.2M188.99 101.2h1.2M178.63 85.66h1.2M187.84 29.79h1.2M188.15 67.62h1.2M189.08 67.18h1.2M173.93 80.23h1.2M172.75 98.15h1.2M175.81 78.26h1.2M184.25 94.12h1.2M188.9 26.4h1.2M190.87 81.27h1.2M174.8 88.41h1.2M182.21 80.26h1.2M183.08 61.24h1.2M174.68 58.73h1.2M180.62 35.84h1.2" stroke="#1a1a1a" stroke-width="1.2" stroke-opacity="0.85"/><line x1="61.5" y1="14.6" x2="61.5" y2="50.8" stroke="#555" stroke-width="1"/><line x1="61.5" y1="82.6" x2="61.5" y2="101.2" stroke="#555" stroke-width="1"/><rect x="49.5" y="50.8" width="24" height="31.8" fill="none" stroke="#555" stroke-width="1"/><line x1="49.5" y1="70.5" x2="73.5" y2="70.5" stroke="#555" stroke-width="1"/><line x1="92.7" y1="30.8" x2="92.7" y2="58.8" stroke="#555" stroke-width="1"/><line x1="92.7" y1="78" x2="92.7" y2="101.2" stroke="#555" stroke-width="1"/><rect x="80.7" y="58.8" width="24" height="19.2" fill="none" stroke="#555" stroke-width="1"/><line x1="80.7" y1="69.8" x2="104.7" y2="69.8" stroke="#555" stroke-width="1"/><line x1="123.3" y1="9.5" x2="123.3" y2="32.2" stroke="#555" stroke-width="1"/><line x1="123.3" y1="71.5" x2="123.3" y2="101.2" stroke="#555" stroke-width="1"/><rect x="111.3" y="32.2" width="24" height="39.3" fill="none" stroke="#555" stroke-width="1"/><line x1="111.3" y1="49.7" x2="135.3" y2="49.7" stroke="#555" stroke-width="1"/><line x1="154.3" y1="12.7" x2="154.3" y2="54.2" stroke="#555" stroke-width="1"/><line x1="154.3" y1="81.9" x2="154.3" y2="101.2" stroke="#555" stroke-width="1"/><rect x="142.3" y="54.2" width="24" height="27.7" fill="none" stroke="#555" stroke-width="1"/><line x1="142.3" y1="71.5" x2="166.3" y2="71.5" stroke="#555" stroke-width="1"/><line x1="185" y1="24.3" x2="185" y2="57.3" stroke="#555" stroke-width="1"/><line x1="185" y1="81.9" x2="185" y2="101.2" stroke="#555" stroke-width="1"/><rect x="173" y="57.3" width="24" height="24.6" fill="none" stroke="#555" stroke-width="1"/><line x1="173" y1="73.6" x2="197" y2="73.6" stroke="#555" stroke-width="1"/><line x1="43.5" y1="1.5" x2="43.5" y2="105.5" stroke="#333" stroke-width="1"/><line x1="43.5" y1="105.4" x2="203.5" y2="105.4" stroke="#333" stroke-width="1.2"/><line x1="41.3" y1="101.2" x2="43.5" y2="101.2" stroke="#333" stroke-width="0.8"/><text x="40.2" y="103.5" font-size="6.6" text-anchor="end" fill="#333" stroke="#333" stroke-width="0.25">0</text><line x1="41.3" y1="78.7" x2="43.5" y2="78.7" stroke="#333" stroke-width="0.8"/><text x="40.2" y="81" font-size="6.6" text-anchor="end" fill="#333" stroke="#333" stroke-width="0.25">1</text><line x1="41.3" y1="56.2" x2="43.5" y2="56.2" stroke="#333" stroke-width="0.8"/><text x="40.2" y="58.5" font-size="6.6" text-anchor="end" fill="#333" stroke="#333" stroke-width="0.25">2</text><line x1="41.3" y1="33.7" x2="43.5" y2="33.7" stroke="#333" stroke-width="0.8"/><text x="40.2" y="36" font-size="6.6" text-anchor="end" fill="#333" stroke="#333" stroke-width="0.25">3</text><line x1="41.3" y1="11.2" x2="43.5" y2="11.2" stroke="#333" stroke-width="0.8"/><text x="40.2" y="13.5" font-size="6.6" text-anchor="end" fill="#333" stroke="#333" stroke-width="0.25">4</text><line x1="61.5" y1="105" x2="61.5" y2="107.2" stroke="#333" stroke-width="0.8"/><line x1="92.7" y1="105" x2="92.7" y2="107.2" stroke="#333" stroke-width="0.8"/><line x1="123.3" y1="105" x2="123.3" y2="107.2" stroke="#333" stroke-width="0.8"/><line x1="154.3" y1="105" x2="154.3" y2="107.2" stroke="#333" stroke-width="0.8"/><line x1="185" y1="105" x2="185" y2="107.2" stroke="#333" stroke-width="0.8"/><text x="61.3" y="115.1" font-size="7.5" text-anchor="middle" fill="#333" stroke="#333" stroke-width="0.25">All</text><text x="93.3" y="115.1" font-size="7.5" text-anchor="middle" fill="#333" stroke="#333" stroke-width="0.25">Basal-like</text><text x="124" y="115.1" font-size="7.5" text-anchor="middle" fill="#333" stroke="#333" stroke-width="0.25">HER2</text><text x="154.7" y="115.1" font-size="7.4" text-anchor="middle" fill="#333" stroke="#333" stroke-width="0.25">Luminal A</text><text x="190.2" y="115.1" font-size="7.1" text-anchor="middle" fill="#333" stroke="#333" stroke-width="0.25">Luminal B</text><text x="29.8" y="54.2" font-size="7.15" text-anchor="middle" fill="#333" stroke="#333" stroke-width="0.25" transform="rotate(-90 29.8 54.2)">APOBEC Enrichment score</text><text x="1.2" y="138.9" font-size="13" font-weight="bold" fill="#000">B</text><text x="162.5" y="137.4" font-size="7.8" text-anchor="middle" fill="#222" stroke="#222" stroke-width="0.25">APOBEC-high Tumors</text><g shape-rendering="crispEdges"><rect x="37.5" y="204.2" width="2.83" height="5.32" fill="#abb0c9"/><rect x="40.28" y="204.2" width="2.83" height="5.32" fill="#a1a7c2"/><rect x="43.05" y="204.2" width="2.83" height="5.32" fill="#b2b6cd"/><rect x="45.83" y="204.2" width="2.83" height="5.32" fill="#949bbb"/><rect x="48.6" y="204.2" width="2.83" height="5.32" fill="#dedfe7"/><rect x="51.38" y="204.2" width="2.83" height="5.32" fill="#9097b8"/><rect x="54.16" y="204.2" width="2.83" height="5.32" fill="#b0b5cc"/><rect x="56.93" y="204.2" width="2.83" height="5.32" fill="#9299b9"/><rect x="59.71" y="204.2" width="2.83" height="5.32" fill="#bcbfd2"/><rect x="62.49" y="204.2" width="2.83" height="5.32" fill="#a9aec7"/><rect x="65.26" y="204.2" width="2.83" height="5.32" fill="#b7bacf"/><rect x="68.04" y="204.2" width="2.83" height="5.32" fill="#c7c9d9"/><rect x="70.81" y="204.2" width="2.83" height="5.32" fill="#bbbed2"/><rect x="73.59" y="204.2" width="2.83" height="5.32" fill="#aeb3ca"/><rect x="76.37" y="204.2" width="2.83" height="5.32" fill="#9da3c0"/><rect x="79.14" y="204.2" width="2.83" height="5.32" fill="#979ebc"/><rect x="81.92" y="204.2" width="2.83" height="5.32" fill="#b0b5cc"/><rect x="84.7" y="204.2" width="2.83" height="5.32" fill="#b3b7cd"/><rect x="87.47" y="204.2" width="2.83" height="5.32" fill="#f4dada"/><rect x="90.25" y="204.2" width="2.83" height="5.32" fill="#f7f5f6"/><rect x="93.02" y="204.2" width="2.83" height="5.32" fill="#e3e3ea"/><rect x="37.5" y="209.47" width="2.83" height="5.32" fill="#f4dbdb"/><rect x="40.28" y="209.47" width="2.83" height="5.32" fill="#ecb9b8"/><rect x="43.05" y="209.47" width="2.83" height="5.32" fill="#eab0ae"/><rect x="45.83" y="209.47" width="2.83" height="5.32" fill="#e07f7d"/><rect x="48.6" y="209.47" width="2.83" height="5.32" fill="#e7a19f"/><rect x="51.38" y="209.47" width="2.83" height="5.32" fill="#dd716e"/><rect x="54.16" y="209.47" width="2.83" height="5.32" fill="#dc6d6a"/><rect x="56.93" y="209.47" width="2.83" height="5.32" fill="#f6e5e5"/><rect x="59.71" y="209.47" width="2.83" height="5.32" fill="#e7a09e"/><rect x="62.49" y="209.47" width="2.83" height="5.32" fill="#e7a2a1"/><rect x="65.26" y="209.47" width="2.83" height="5.32" fill="#e69c9a"/><rect x="68.04" y="209.47" width="2.83" height="5.32" fill="#e49290"/><rect x="70.81" y="209.47" width="2.83" height="5.32" fill="#de7572"/><rect x="73.59" y="209.47" width="2.83" height="5.32" fill="#e7a19f"/><rect x="76.37" y="209.47" width="2.83" height="5.32" fill="#e49492"/><rect x="79.14" y="209.47" width="2.83" height="5.32" fill="#e4918f"/><rect x="81.92" y="209.47" width="2.83" height="5.32" fill="#d85b58"/><rect x="84.7" y="209.47" width="2.83" height="5.32" fill="#e59997"/><rect x="87.47" y="209.47" width="2.83" height="5.32" fill="#d75653"/><rect x="90.25" y="209.47" width="2.83" height="5.32" fill="#dd716f"/><rect x="93.02" y="209.47" width="2.83" height="5.32" fill="#e28987"/><rect x="37.5" y="214.74" width="2.83" height="5.32" fill="#f2d2d1"/><rect x="40.28" y="214.74" width="2.83" height="5.32" fill="#efc5c4"/><rect x="43.05" y="214.74" width="2.83" height="5.32" fill="#f8efef"/><rect x="45.83" y="214.74" width="2.83" height="5.32" fill="#efc6c5"/><rect x="48.6" y="214.74" width="2.83" height="5.32" fill="#f6e5e5"/><rect x="51.38" y="214.74" width="2.83" height="5.32" fill="#f7eaea"/><rect x="54.16" y="214.74" width="2.83" height="5.32" fill="#f0c8c8"/><rect x="56.93" y="214.74" width="2.83" height="5.32" fill="#f7ebeb"/><rect x="59.71" y="214.74" width="2.83" height="5.32" fill="#f0eff2"/><rect x="62.49" y="214.74" width="2.83" height="5.32" fill="#dcdde6"/><rect x="65.26" y="214.74" width="2.83" height="5.32" fill="#f5e3e2"/><rect x="68.04" y="214.74" width="2.83" height="5.32" fill="#edbebc"/><rect x="70.81" y="214.74" width="2.83" height="5.32" fill="#f2d3d2"/><rect x="73.59" y="214.74" width="2.83" height="5.32" fill="#eebfbe"/><rect x="76.37" y="214.74" width="2.83" height="5.32" fill="#eae9ee"/><rect x="79.14" y="214.74" width="2.83" height="5.32" fill="#f1cdcd"/><rect x="81.92" y="214.74" width="2.83" height="5.32" fill="#f1cdcc"/><rect x="84.7" y="214.74" width="2.83" height="5.32" fill="#f2d1d0"/><rect x="87.47" y="214.74" width="2.83" height="5.32" fill="#e4908e"/><rect x="90.25" y="214.74" width="2.83" height="5.32" fill="#df7b79"/><rect x="93.02" y="214.74" width="2.83" height="5.32" fill="#df7a77"/><rect x="37.5" y="220.01" width="2.83" height="5.32" fill="#d44845"/><rect x="40.28" y="220.01" width="2.83" height="5.32" fill="#d9615e"/><rect x="43.05" y="220.01" width="2.83" height="5.32" fill="#da615e"/><rect x="45.83" y="220.01" width="2.83" height="5.32" fill="#e07f7d"/><rect x="48.6" y="220.01" width="2.83" height="5.32" fill="#f0c9c8"/><rect x="51.38" y="220.01" width="2.83" height="5.32" fill="#eec0bf"/><rect x="54.16" y="220.01" width="2.83" height="5.32" fill="#f9f3f3"/><rect x="56.93" y="220.01" width="2.83" height="5.32" fill="#e9a7a6"/><rect x="59.71" y="220.01" width="2.83" height="5.32" fill="#ebb1b0"/><rect x="62.49" y="220.01" width="2.83" height="5.32" fill="#edbcbb"/><rect x="65.26" y="220.01" width="2.83" height="5.32" fill="#f5e2e2"/><rect x="68.04" y="220.01" width="2.83" height="5.32" fill="#e8a4a2"/><rect x="70.81" y="220.01" width="2.83" height="5.32" fill="#dfe0e8"/><rect x="73.59" y="220.01" width="2.83" height="5.32" fill="#f1d0cf"/><rect x="76.37" y="220.01" width="2.83" height="5.32" fill="#efc6c5"/><rect x="79.14" y="220.01" width="2.83" height="5.32" fill="#e59896"/><rect x="81.92" y="220.01" width="2.83" height="5.32" fill="#f0c8c7"/><rect x="84.7" y="220.01" width="2.83" height="5.32" fill="#edbab8"/><rect x="87.47" y="220.01" width="2.83" height="5.32" fill="#f2d1d0"/><rect x="90.25" y="220.01" width="2.83" height="5.32" fill="#f3d6d5"/><rect x="93.02" y="220.01" width="2.83" height="5.32" fill="#f9f3f3"/><rect x="37.5" y="225.28" width="2.83" height="5.32" fill="#efc5c4"/><rect x="40.28" y="225.28" width="2.83" height="5.32" fill="#f1cdcd"/><rect x="43.05" y="225.28" width="2.83" height="5.32" fill="#edbbba"/><rect x="45.83" y="225.28" width="2.83" height="5.32" fill="#f7e9e9"/><rect x="48.6" y="225.28" width="2.83" height="5.32" fill="#f9f7f7"/><rect x="51.38" y="225.28" width="2.83" height="5.32" fill="#eeedf1"/><rect x="54.16" y="225.28" width="2.83" height="5.32" fill="#e0e0e8"/><rect x="56.93" y="225.28" width="2.83" height="5.32" fill="#e3e3ea"/><rect x="59.71" y="225.28" width="2.83" height="5.32" fill="#e8e7ed"/><rect x="62.49" y="225.28" width="2.83" height="5.32" fill="#f7ebeb"/><rect x="65.26" y="225.28" width="2.83" height="5.32" fill="#d1d3df"/><rect x="68.04" y="225.28" width="2.83" height="5.32" fill="#f5e2e2"/><rect x="70.81" y="225.28" width="2.83" height="5.32" fill="#f0cbca"/><rect x="73.59" y="225.28" width="2.83" height="5.32" fill="#f9f1f1"/><rect x="76.37" y="225.28" width="2.83" height="5.32" fill="#f5e2e1"/><rect x="79.14" y="225.28" width="2.83" height="5.32" fill="#f5e0df"/><rect x="81.92" y="225.28" width="2.83" height="5.32" fill="#f9f7f8"/><rect x="84.7" y="225.28" width="2.83" height="5.32" fill="#f0eff2"/><rect x="87.47" y="225.28" width="2.83" height="5.32" fill="#ecb7b6"/><rect x="90.25" y="225.28" width="2.83" height="5.32" fill="#f2d4d3"/><rect x="93.02" y="225.28" width="2.83" height="5.32" fill="#f4dcdb"/><rect x="37.5" y="230.55" width="2.83" height="5.32" fill="#f5e1e0"/><rect x="40.28" y="230.55" width="2.83" height="5.32" fill="#ecb7b6"/><rect x="43.05" y="230.55" width="2.83" height="5.32" fill="#e59795"/><rect x="45.83" y="230.55" width="2.83" height="5.32" fill="#f4dedd"/><rect x="48.6" y="230.55" width="2.83" height="5.32" fill="#f0cccb"/><rect x="51.38" y="230.55" width="2.83" height="5.32" fill="#e38f8d"/><rect x="54.16" y="230.55" width="2.83" height="5.32" fill="#e18583"/><rect x="56.93" y="230.55" width="2.83" height="5.32" fill="#e7a09e"/><rect x="59.71" y="230.55" width="2.83" height="5.32" fill="#f5e0e0"/><rect x="62.49" y="230.55" width="2.83" height="5.32" fill="#edbdbc"/><rect x="65.26" y="230.55" width="2.83" height="5.32" fill="#f6e6e6"/><rect x="68.04" y="230.55" width="2.83" height="5.32" fill="#e59795"/><rect x="70.81" y="230.55" width="2.83" height="5.32" fill="#ebb2b0"/><rect x="73.59" y="230.55" width="2.83" height="5.32" fill="#e7a09f"/><rect x="76.37" y="230.55" width="2.83" height="5.32" fill="#d54b47"/><rect x="79.14" y="230.55" width="2.83" height="5.32" fill="#db6966"/><rect x="81.92" y="230.55" width="2.83" height="5.32" fill="#df7b78"/><rect x="84.7" y="230.55" width="2.83" height="5.32" fill="#dd726f"/><rect x="87.47" y="230.55" width="2.83" height="5.32" fill="#d9615e"/><rect x="90.25" y="230.55" width="2.83" height="5.32" fill="#df7976"/><rect x="93.02" y="230.55" width="2.83" height="5.32" fill="#da6360"/><rect x="37.5" y="235.82" width="2.83" height="5.32" fill="#e9a9a7"/><rect x="40.28" y="235.82" width="2.83" height="5.32" fill="#e38b89"/><rect x="43.05" y="235.82" width="2.83" height="5.32" fill="#f8f7f7"/><rect x="45.83" y="235.82" width="2.83" height="5.32" fill="#f5dfdf"/><rect x="48.6" y="235.82" width="2.83" height="5.32" fill="#f3f1f4"/><rect x="51.38" y="235.82" width="2.83" height="5.32" fill="#eebfbe"/><rect x="54.16" y="235.82" width="2.83" height="5.32" fill="#e38f8d"/><rect x="56.93" y="235.82" width="2.83" height="5.32" fill="#ecb5b4"/><rect x="59.71" y="235.82" width="2.83" height="5.32" fill="#ecb7b6"/><rect x="62.49" y="235.82" width="2.83" height="5.32" fill="#e59896"/><rect x="65.26" y="235.82" width="2.83" height="5.32" fill="#edecf0"/><rect x="68.04" y="235.82" width="2.83" height="5.32" fill="#f2d5d4"/><rect x="70.81" y="235.82" width="2.83" height="5.32" fill="#c3c6d7"/><rect x="73.59" y="235.82" width="2.83" height="5.32" fill="#f0caca"/><rect x="76.37" y="235.82" width="2.83" height="5.32" fill="#e59795"/><rect x="79.14" y="235.82" width="2.83" height="5.32" fill="#e59795"/><rect x="81.92" y="235.82" width="2.83" height="5.32" fill="#e07d7b"/><rect x="84.7" y="235.82" width="2.83" height="5.32" fill="#e69a98"/><rect x="87.47" y="235.82" width="2.83" height="5.32" fill="#d6524e"/><rect x="90.25" y="235.82" width="2.83" height="5.32" fill="#dd7371"/><rect x="93.02" y="235.82" width="2.83" height="5.32" fill="#db6865"/><rect x="37.5" y="241.09" width="2.83" height="5.32" fill="#da6361"/><rect x="40.28" y="241.09" width="2.83" height="5.32" fill="#eebebd"/><rect x="43.05" y="241.09" width="2.83" height="5.32" fill="#e59492"/><rect x="45.83" y="241.09" width="2.83" height="5.32" fill="#f0cac9"/><rect x="48.6" y="241.09" width="2.83" height="5.32" fill="#f0c8c7"/><rect x="51.38" y="241.09" width="2.83" height="5.32" fill="#f1d0d0"/><rect x="54.16" y="241.09" width="2.83" height="5.32" fill="#f7eae9"/><rect x="56.93" y="241.09" width="2.83" height="5.32" fill="#e9a7a5"/><rect x="59.71" y="241.09" width="2.83" height="5.32" fill="#e49492"/><rect x="62.49" y="241.09" width="2.83" height="5.32" fill="#e69b99"/><rect x="65.26" y="241.09" width="2.83" height="5.32" fill="#efc5c4"/><rect x="68.04" y="241.09" width="2.83" height="5.32" fill="#f4dbda"/><rect x="70.81" y="241.09" width="2.83" height="5.32" fill="#ecb8b7"/><rect x="73.59" y="241.09" width="2.83" height="5.32" fill="#ecebef"/><rect x="76.37" y="241.09" width="2.83" height="5.32" fill="#e4908e"/><rect x="79.14" y="241.09" width="2.83" height="5.32" fill="#dc6f6c"/><rect x="81.92" y="241.09" width="2.83" height="5.32" fill="#dc6c6a"/><rect x="84.7" y="241.09" width="2.83" height="5.32" fill="#d34542"/><rect x="87.47" y="241.09" width="2.83" height="5.32" fill="#d03430"/><rect x="90.25" y="241.09" width="2.83" height="5.32" fill="#d95f5c"/><rect x="93.02" y="241.09" width="2.83" height="5.32" fill="#d85c59"/><rect x="37.5" y="246.36" width="2.83" height="5.32" fill="#f1eff2"/><rect x="40.28" y="246.36" width="2.83" height="5.32" fill="#f5dfdf"/><rect x="43.05" y="246.36" width="2.83" height="5.32" fill="#f2d1d1"/><rect x="45.83" y="246.36" width="2.83" height="5.32" fill="#f5e0e0"/><rect x="48.6" y="246.36" width="2.83" height="5.32" fill="#f5e2e1"/><rect x="51.38" y="246.36" width="2.83" height="5.32" fill="#f2d1d0"/><rect x="54.16" y="246.36" width="2.83" height="5.32" fill="#f1f0f3"/><rect x="56.93" y="246.36" width="2.83" height="5.32" fill="#f7ebea"/><rect x="59.71" y="246.36" width="2.83" height="5.32" fill="#e3e3ea"/><rect x="62.49" y="246.36" width="2.83" height="5.32" fill="#ecb7b5"/><rect x="65.26" y="246.36" width="2.83" height="5.32" fill="#f9f7f7"/><rect x="68.04" y="246.36" width="2.83" height="5.32" fill="#efc6c5"/><rect x="70.81" y="246.36" width="2.83" height="5.32" fill="#df7b78"/><rect x="73.59" y="246.36" width="2.83" height="5.32" fill="#e59897"/><rect x="76.37" y="246.36" width="2.83" height="5.32" fill="#e69e9c"/><rect x="79.14" y="246.36" width="2.83" height="5.32" fill="#efc6c5"/><rect x="81.92" y="246.36" width="2.83" height="5.32" fill="#df7a78"/><rect x="84.7" y="246.36" width="2.83" height="5.32" fill="#e8a5a4"/><rect x="87.47" y="246.36" width="2.83" height="5.32" fill="#e7a2a0"/><rect x="90.25" y="246.36" width="2.83" height="5.32" fill="#e8a3a1"/><rect x="93.02" y="246.36" width="2.83" height="5.32" fill="#eaadab"/><rect x="37.5" y="251.63" width="2.83" height="5.32" fill="#e18481"/><rect x="40.28" y="251.63" width="2.83" height="5.32" fill="#d9605d"/><rect x="43.05" y="251.63" width="2.83" height="5.32" fill="#e9a9a7"/><rect x="45.83" y="251.63" width="2.83" height="5.32" fill="#edbdbc"/><rect x="48.6" y="251.63" width="2.83" height="5.32" fill="#e28a88"/><rect x="51.38" y="251.63" width="2.83" height="5.32" fill="#df7c79"/><rect x="54.16" y="251.63" width="2.83" height="5.32" fill="#f0c9c8"/><rect x="56.93" y="251.63" width="2.83" height="5.32" fill="#efc6c5"/><rect x="59.71" y="251.63" width="2.83" height="5.32" fill="#f1cfce"/><rect x="62.49" y="251.63" width="2.83" height="5.32" fill="#e7a09e"/><rect x="65.26" y="251.63" width="2.83" height="5.32" fill="#e7a1a0"/><rect x="68.04" y="251.63" width="2.83" height="5.32" fill="#edbdbb"/><rect x="70.81" y="251.63" width="2.83" height="5.32" fill="#f0c8c8"/><rect x="73.59" y="251.63" width="2.83" height="5.32" fill="#e49290"/><rect x="76.37" y="251.63" width="2.83" height="5.32" fill="#f1d0cf"/><rect x="79.14" y="251.63" width="2.83" height="5.32" fill="#e07f7c"/><rect x="81.92" y="251.63" width="2.83" height="5.32" fill="#e59795"/><rect x="84.7" y="251.63" width="2.83" height="5.32" fill="#d75855"/><rect x="87.47" y="251.63" width="2.83" height="5.32" fill="#d9605d"/><rect x="90.25" y="251.63" width="2.83" height="5.32" fill="#e38f8d"/><rect x="93.02" y="251.63" width="2.83" height="5.32" fill="#e18684"/><rect x="37.5" y="256.9" width="2.83" height="5.32" fill="#9fa5c1"/><rect x="40.28" y="256.9" width="2.83" height="5.32" fill="#9199b9"/><rect x="43.05" y="256.9" width="2.83" height="5.32" fill="#aaafc8"/><rect x="45.83" y="256.9" width="2.83" height="5.32" fill="#c5c8d8"/><rect x="48.6" y="256.9" width="2.83" height="5.32" fill="#848cb1"/><rect x="51.38" y="256.9" width="2.83" height="5.32" fill="#abb0c8"/><rect x="54.16" y="256.9" width="2.83" height="5.32" fill="#dfe0e8"/><rect x="56.93" y="256.9" width="2.83" height="5.32" fill="#b4b8ce"/><rect x="59.71" y="256.9" width="2.83" height="5.32" fill="#858db1"/><rect x="62.49" y="256.9" width="2.83" height="5.32" fill="#858db1"/><rect x="65.26" y="256.9" width="2.83" height="5.32" fill="#838cb1"/><rect x="68.04" y="256.9" width="2.83" height="5.32" fill="#7780a9"/><rect x="70.81" y="256.9" width="2.83" height="5.32" fill="#cbcddb"/><rect x="73.59" y="256.9" width="2.83" height="5.32" fill="#aaafc8"/><rect x="76.37" y="256.9" width="2.83" height="5.32" fill="#c6c8d9"/><rect x="79.14" y="256.9" width="2.83" height="5.32" fill="#afb4cb"/><rect x="81.92" y="256.9" width="2.83" height="5.32" fill="#cfd1de"/><rect x="84.7" y="256.9" width="2.83" height="5.32" fill="#cccedc"/><rect x="87.47" y="256.9" width="2.83" height="5.32" fill="#efc4c3"/><rect x="90.25" y="256.9" width="2.83" height="5.32" fill="#ecebf0"/><rect x="93.02" y="256.9" width="2.83" height="5.32" fill="#f9f5f4"/><rect x="37.5" y="262.17" width="2.83" height="5.32" fill="#e4908e"/><rect x="40.28" y="262.17" width="2.83" height="5.32" fill="#e69c9b"/><rect x="43.05" y="262.17" width="2.83" height="5.32" fill="#ecb6b5"/><rect x="45.83" y="262.17" width="2.83" height="5.32" fill="#f9f2f2"/><rect x="48.6" y="262.17" width="2.83" height="5.32" fill="#df7c7a"/><rect x="51.38" y="262.17" width="2.83" height="5.32" fill="#e59492"/><rect x="54.16" y="262.17" width="2.83" height="5.32" fill="#ebb3b2"/><rect x="56.93" y="262.17" width="2.83" height="5.32" fill="#edbdbc"/><rect x="59.71" y="262.17" width="2.83" height="5.32" fill="#f3d8d7"/><rect x="62.49" y="262.17" width="2.83" height="5.32" fill="#f3d6d5"/><rect x="65.26" y="262.17" width="2.83" height="5.32" fill="#f6e7e7"/><rect x="68.04" y="262.17" width="2.83" height="5.32" fill="#e59795"/><rect x="70.81" y="262.17" width="2.83" height="5.32" fill="#e59795"/><rect x="73.59" y="262.17" width="2.83" height="5.32" fill="#e7a19f"/><rect x="76.37" y="262.17" width="2.83" height="5.32" fill="#e18582"/><rect x="79.14" y="262.17" width="2.83" height="5.32" fill="#e38c8a"/><rect x="81.92" y="262.17" width="2.83" height="5.32" fill="#e59997"/><rect x="84.7" y="262.17" width="2.83" height="5.32" fill="#ecb7b5"/><rect x="87.47" y="262.17" width="2.83" height="5.32" fill="#e0807e"/><rect x="90.25" y="262.17" width="2.83" height="5.32" fill="#dc6e6c"/><rect x="93.02" y="262.17" width="2.83" height="5.32" fill="#e07f7d"/><rect x="37.5" y="267.44" width="2.83" height="5.32" fill="#e79f9e"/><rect x="40.28" y="267.44" width="2.83" height="5.32" fill="#f2d3d2"/><rect x="43.05" y="267.44" width="2.83" height="5.32" fill="#f5e2e2"/><rect x="45.83" y="267.44" width="2.83" height="5.32" fill="#e79f9e"/><rect x="48.6" y="267.44" width="2.83" height="5.32" fill="#f1cccb"/><rect x="51.38" y="267.44" width="2.83" height="5.32" fill="#ebb3b2"/><rect x="54.16" y="267.44" width="2.83" height="5.32" fill="#eec1bf"/><rect x="56.93" y="267.44" width="2.83" height="5.32" fill="#f1cfce"/><rect x="59.71" y="267.44" width="2.83" height="5.32" fill="#f3d7d7"/><rect x="62.49" y="267.44" width="2.83" height="5.32" fill="#f5dfdf"/><rect x="65.26" y="267.44" width="2.83" height="5.32" fill="#edecf0"/><rect x="68.04" y="267.44" width="2.83" height="5.32" fill="#e0827f"/><rect x="70.81" y="267.44" width="2.83" height="5.32" fill="#ebb5b3"/><rect x="73.59" y="267.44" width="2.83" height="5.32" fill="#f9f5f5"/><rect x="76.37" y="267.44" width="2.83" height="5.32" fill="#f0cccb"/><rect x="79.14" y="267.44" width="2.83" height="5.32" fill="#f2d2d2"/><rect x="81.92" y="267.44" width="2.83" height="5.32" fill="#efc7c6"/><rect x="84.7" y="267.44" width="2.83" height="5.32" fill="#f5f3f5"/><rect x="87.47" y="267.44" width="2.83" height="5.32" fill="#e59593"/><rect x="90.25" y="267.44" width="2.83" height="5.32" fill="#de7573"/><rect x="93.02" y="267.44" width="2.83" height="5.32" fill="#eaaeac"/><rect x="37.5" y="272.71" width="2.83" height="5.32" fill="#f3d7d7"/><rect x="40.28" y="272.71" width="2.83" height="5.32" fill="#f4dcdb"/><rect x="43.05" y="272.71" width="2.83" height="5.32" fill="#dfdfe7"/><rect x="45.83" y="272.71" width="2.83" height="5.32" fill="#f0c9c8"/><rect x="48.6" y="272.71" width="2.83" height="5.32" fill="#b2b7cd"/><rect x="51.38" y="272.71" width="2.83" height="5.32" fill="#d4d5e1"/><rect x="54.16" y="272.71" width="2.83" height="5.32" fill="#dbdbe5"/><rect x="56.93" y="272.71" width="2.83" height="5.32" fill="#f2d2d2"/><rect x="59.71" y="272.71" width="2.83" height="5.32" fill="#f9f4f4"/><rect x="62.49" y="272.71" width="2.83" height="5.32" fill="#f6f5f6"/><rect x="65.26" y="272.71" width="2.83" height="5.32" fill="#e2e2e9"/><rect x="68.04" y="272.71" width="2.83" height="5.32" fill="#dedee7"/><rect x="70.81" y="272.71" width="2.83" height="5.32" fill="#dcdde6"/><rect x="73.59" y="272.71" width="2.83" height="5.32" fill="#f1f0f3"/><rect x="76.37" y="272.71" width="2.83" height="5.32" fill="#edbab9"/><rect x="79.14" y="272.71" width="2.83" height="5.32" fill="#f1cdcd"/><rect x="81.92" y="272.71" width="2.83" height="5.32" fill="#f5e3e3"/><rect x="84.7" y="272.71" width="2.83" height="5.32" fill="#f7e8e8"/><rect x="87.47" y="272.71" width="2.83" height="5.32" fill="#e9a9a8"/><rect x="90.25" y="272.71" width="2.83" height="5.32" fill="#f2d3d3"/><rect x="93.02" y="272.71" width="2.83" height="5.32" fill="#f4dad9"/><rect x="37.5" y="277.98" width="2.83" height="5.32" fill="#db6664"/><rect x="40.28" y="277.98" width="2.83" height="5.32" fill="#dc6d6a"/><rect x="43.05" y="277.98" width="2.83" height="5.32" fill="#e38b89"/><rect x="45.83" y="277.98" width="2.83" height="5.32" fill="#e79f9e"/><rect x="48.6" y="277.98" width="2.83" height="5.32" fill="#e8a5a3"/><rect x="51.38" y="277.98" width="2.83" height="5.32" fill="#dd726f"/><rect x="54.16" y="277.98" width="2.83" height="5.32" fill="#e7a09e"/><rect x="56.93" y="277.98" width="2.83" height="5.32" fill="#e07f7d"/><rect x="59.71" y="277.98" width="2.83" height="5.32" fill="#ebb4b2"/><rect x="62.49" y="277.98" width="2.83" height="5.32" fill="#e69997"/><rect x="65.26" y="277.98" width="2.83" height="5.32" fill="#e4908e"/><rect x="68.04" y="277.98" width="2.83" height="5.32" fill="#e38e8c"/><rect x="70.81" y="277.98" width="2.83" height="5.32" fill="#e28b89"/><rect x="73.59" y="277.98" width="2.83" height="5.32" fill="#e28784"/><rect x="76.37" y="277.98" width="2.83" height="5.32" fill="#e9a9a8"/><rect x="79.14" y="277.98" width="2.83" height="5.32" fill="#e9a9a7"/><rect x="81.92" y="277.98" width="2.83" height="5.32" fill="#e38c8a"/><rect x="84.7" y="277.98" width="2.83" height="5.32" fill="#d6524f"/><rect x="87.47" y="277.98" width="2.83" height="5.32" fill="#e59694"/><rect x="90.25" y="277.98" width="2.83" height="5.32" fill="#eaaeac"/><rect x="93.02" y="277.98" width="2.83" height="5.32" fill="#e8a6a4"/><rect x="37.5" y="283.25" width="2.83" height="5.32" fill="#dd7270"/><rect x="40.28" y="283.25" width="2.83" height="5.32" fill="#d6504d"/><rect x="43.05" y="283.25" width="2.83" height="5.32" fill="#e18482"/><rect x="45.83" y="283.25" width="2.83" height="5.32" fill="#da6360"/><rect x="48.6" y="283.25" width="2.83" height="5.32" fill="#e38c8a"/><rect x="51.38" y="283.25" width="2.83" height="5.32" fill="#e69d9b"/><rect x="54.16" y="283.25" width="2.83" height="5.32" fill="#eaaead"/><rect x="56.93" y="283.25" width="2.83" height="5.32" fill="#e38c8a"/><rect x="59.71" y="283.25" width="2.83" height="5.32" fill="#e69d9c"/><rect x="62.49" y="283.25" width="2.83" height="5.32" fill="#de7875"/><rect x="65.26" y="283.25" width="2.83" height="5.32" fill="#edbcbb"/><rect x="68.04" y="283.25" width="2.83" height="5.32" fill="#db6663"/><rect x="70.81" y="283.25" width="2.83" height="5.32" fill="#dd716e"/><rect x="73.59" y="283.25" width="2.83" height="5.32" fill="#de7674"/><rect x="76.37" y="283.25" width="2.83" height="5.32" fill="#d44743"/><rect x="79.14" y="283.25" width="2.83" height="5.32" fill="#da615e"/><rect x="81.92" y="283.25" width="2.83" height="5.32" fill="#e8a6a5"/><rect x="84.7" y="283.25" width="2.83" height="5.32" fill="#dd726f"/><rect x="87.47" y="283.25" width="2.83" height="5.32" fill="#dd706d"/><rect x="90.25" y="283.25" width="2.83" height="5.32" fill="#e49290"/><rect x="93.02" y="283.25" width="2.83" height="5.32" fill="#e79f9e"/><rect x="37.5" y="288.52" width="2.83" height="5.32" fill="#eec2c1"/><rect x="40.28" y="288.52" width="2.83" height="5.32" fill="#eec0bf"/><rect x="43.05" y="288.52" width="2.83" height="5.32" fill="#f4dcdb"/><rect x="45.83" y="288.52" width="2.83" height="5.32" fill="#f3d6d6"/><rect x="48.6" y="288.52" width="2.83" height="5.32" fill="#f9f3f3"/><rect x="51.38" y="288.52" width="2.83" height="5.32" fill="#f9f5f4"/><rect x="54.16" y="288.52" width="2.83" height="5.32" fill="#f6e5e5"/><rect x="56.93" y="288.52" width="2.83" height="5.32" fill="#f1cecd"/><rect x="59.71" y="288.52" width="2.83" height="5.32" fill="#d4d5e1"/><rect x="62.49" y="288.52" width="2.83" height="5.32" fill="#faf8f8"/><rect x="65.26" y="288.52" width="2.83" height="5.32" fill="#edbebc"/><rect x="68.04" y="288.52" width="2.83" height="5.32" fill="#efc6c5"/><rect x="70.81" y="288.52" width="2.83" height="5.32" fill="#f0cbca"/><rect x="73.59" y="288.52" width="2.83" height="5.32" fill="#ecb6b5"/><rect x="76.37" y="288.52" width="2.83" height="5.32" fill="#faf7f7"/><rect x="79.14" y="288.52" width="2.83" height="5.32" fill="#f4f3f5"/><rect x="81.92" y="288.52" width="2.83" height="5.32" fill="#e7e7ec"/><rect x="84.7" y="288.52" width="2.83" height="5.32" fill="#edecf0"/><rect x="87.47" y="288.52" width="2.83" height="5.32" fill="#edbebc"/><rect x="90.25" y="288.52" width="2.83" height="5.32" fill="#eaacaa"/><rect x="93.02" y="288.52" width="2.83" height="5.32" fill="#f2d1d1"/><rect x="37.5" y="293.79" width="2.83" height="5.32" fill="#e8a6a5"/><rect x="40.28" y="293.79" width="2.83" height="5.32" fill="#e18684"/><rect x="43.05" y="293.79" width="2.83" height="5.32" fill="#e0807d"/><rect x="45.83" y="293.79" width="2.83" height="5.32" fill="#e28a88"/><rect x="48.6" y="293.79" width="2.83" height="5.32" fill="#eec1c0"/><rect x="51.38" y="293.79" width="2.83" height="5.32" fill="#e59896"/><rect x="54.16" y="293.79" width="2.83" height="5.32" fill="#f2d3d3"/><rect x="56.93" y="293.79" width="2.83" height="5.32" fill="#f4dcdc"/><rect x="59.71" y="293.79" width="2.83" height="5.32" fill="#f5f3f5"/><rect x="62.49" y="293.79" width="2.83" height="5.32" fill="#faf7f7"/><rect x="65.26" y="293.79" width="2.83" height="5.32" fill="#ecb7b5"/><rect x="68.04" y="293.79" width="2.83" height="5.32" fill="#d9605d"/><rect x="70.81" y="293.79" width="2.83" height="5.32" fill="#df7977"/><rect x="73.59" y="293.79" width="2.83" height="5.32" fill="#e0807d"/><rect x="76.37" y="293.79" width="2.83" height="5.32" fill="#e38d8b"/><rect x="79.14" y="293.79" width="2.83" height="5.32" fill="#e8a3a2"/><rect x="81.92" y="293.79" width="2.83" height="5.32" fill="#e49492"/><rect x="84.7" y="293.79" width="2.83" height="5.32" fill="#d85956"/><rect x="87.47" y="293.79" width="2.83" height="5.32" fill="#e59896"/><rect x="90.25" y="293.79" width="2.83" height="5.32" fill="#e4918f"/><rect x="93.02" y="293.79" width="2.83" height="5.32" fill="#df7976"/><rect x="37.5" y="299.06" width="2.83" height="5.32" fill="#e38c8a"/><rect x="40.28" y="299.06" width="2.83" height="5.32" fill="#e38e8b"/><rect x="43.05" y="299.06" width="2.83" height="5.32" fill="#efc3c2"/><rect x="45.83" y="299.06" width="2.83" height="5.32" fill="#e9aaa9"/><rect x="48.6" y="299.06" width="2.83" height="5.32" fill="#e8a4a2"/><rect x="51.38" y="299.06" width="2.83" height="5.32" fill="#eec1c0"/><rect x="54.16" y="299.06" width="2.83" height="5.32" fill="#e69a98"/><rect x="56.93" y="299.06" width="2.83" height="5.32" fill="#f6f4f5"/><rect x="59.71" y="299.06" width="2.83" height="5.32" fill="#f2d2d2"/><rect x="62.49" y="299.06" width="2.83" height="5.32" fill="#f5e1e0"/><rect x="65.26" y="299.06" width="2.83" height="5.32" fill="#edecf0"/><rect x="68.04" y="299.06" width="2.83" height="5.32" fill="#e3908e"/><rect x="70.81" y="299.06" width="2.83" height="5.32" fill="#e69d9b"/><rect x="73.59" y="299.06" width="2.83" height="5.32" fill="#e8a5a3"/><rect x="76.37" y="299.06" width="2.83" height="5.32" fill="#e9aba9"/><rect x="79.14" y="299.06" width="2.83" height="5.32" fill="#df7d7a"/><rect x="81.92" y="299.06" width="2.83" height="5.32" fill="#e9a9a7"/><rect x="84.7" y="299.06" width="2.83" height="5.32" fill="#f1cfce"/><rect x="87.47" y="299.06" width="2.83" height="5.32" fill="#e28a88"/><rect x="90.25" y="299.06" width="2.83" height="5.32" fill="#d85b58"/><rect x="93.02" y="299.06" width="2.83" height="5.32" fill="#d0332f"/><rect x="37.5" y="304.33" width="2.83" height="5.32" fill="#efeef1"/><rect x="40.28" y="304.33" width="2.83" height="5.32" fill="#f8eeee"/><rect x="43.05" y="304.33" width="2.83" height="5.32" fill="#f8eded"/><rect x="45.83" y="304.33" width="2.83" height="5.32" fill="#e4e4eb"/><rect x="48.6" y="304.33" width="2.83" height="5.32" fill="#f1cdcd"/><rect x="51.38" y="304.33" width="2.83" height="5.32" fill="#f4dbda"/><rect x="54.16" y="304.33" width="2.83" height="5.32" fill="#f2d1d0"/><rect x="56.93" y="304.33" width="2.83" height="5.32" fill="#e7a19f"/><rect x="59.71" y="304.33" width="2.83" height="5.32" fill="#f7eceb"/><rect x="62.49" y="304.33" width="2.83" height="5.32" fill="#f1cccb"/><rect x="65.26" y="304.33" width="2.83" height="5.32" fill="#f0cbca"/><rect x="68.04" y="304.33" width="2.83" height="5.32" fill="#f3d8d7"/><rect x="70.81" y="304.33" width="2.83" height="5.32" fill="#f3d7d6"/><rect x="73.59" y="304.33" width="2.83" height="5.32" fill="#e59795"/><rect x="76.37" y="304.33" width="2.83" height="5.32" fill="#e8a6a4"/><rect x="79.14" y="304.33" width="2.83" height="5.32" fill="#ecb7b5"/><rect x="81.92" y="304.33" width="2.83" height="5.32" fill="#f4dbdb"/><rect x="84.7" y="304.33" width="2.83" height="5.32" fill="#e7a19f"/><rect x="87.47" y="304.33" width="2.83" height="5.32" fill="#e18280"/><rect x="90.25" y="304.33" width="2.83" height="5.32" fill="#d6514d"/><rect x="93.02" y="304.33" width="2.83" height="5.32" fill="#db6663"/><rect x="37.5" y="309.6" width="2.83" height="5.32" fill="#e9e8ee"/><rect x="40.28" y="309.6" width="2.83" height="5.32" fill="#d9dae4"/><rect x="43.05" y="309.6" width="2.83" height="5.32" fill="#d3d4e0"/><rect x="45.83" y="309.6" width="2.83" height="5.32" fill="#c0c3d5"/><rect x="48.6" y="309.6" width="2.83" height="5.32" fill="#f6e5e4"/><rect x="51.38" y="309.6" width="2.83" height="5.32" fill="#f6e7e6"/><rect x="54.16" y="309.6" width="2.83" height="5.32" fill="#f4dada"/><rect x="56.93" y="309.6" width="2.83" height="5.32" fill="#faf6f6"/><rect x="59.71" y="309.6" width="2.83" height="5.32" fill="#e4e4eb"/><rect x="62.49" y="309.6" width="2.83" height="5.32" fill="#cbcddc"/><rect x="65.26" y="309.6" width="2.83" height="5.32" fill="#f3f2f4"/><rect x="68.04" y="309.6" width="2.83" height="5.32" fill="#e7a19f"/><rect x="70.81" y="309.6" width="2.83" height="5.32" fill="#f7e8e8"/><rect x="73.59" y="309.6" width="2.83" height="5.32" fill="#efc3c2"/><rect x="76.37" y="309.6" width="2.83" height="5.32" fill="#f6e8e7"/><rect x="79.14" y="309.6" width="2.83" height="5.32" fill="#f7e8e8"/><rect x="81.92" y="309.6" width="2.83" height="5.32" fill="#f7e9e9"/><rect x="84.7" y="309.6" width="2.83" height="5.32" fill="#f7f6f6"/><rect x="87.47" y="309.6" width="2.83" height="5.32" fill="#f4dcdc"/><rect x="90.25" y="309.6" width="2.83" height="5.32" fill="#e9a7a6"/><rect x="93.02" y="309.6" width="2.83" height="5.32" fill="#e8a6a4"/><rect x="37.5" y="314.87" width="2.83" height="5.32" fill="#b1b5cc"/><rect x="40.28" y="314.87" width="2.83" height="5.32" fill="#8f96b8"/><rect x="43.05" y="314.87" width="2.83" height="5.32" fill="#e8e8ed"/><rect x="45.83" y="314.87" width="2.83" height="5.32" fill="#c7c9d9"/><rect x="48.6" y="314.87" width="2.83" height="5.32" fill="#f9f3f3"/><rect x="51.38" y="314.87" width="2.83" height="5.32" fill="#dfdfe8"/><rect x="54.16" y="314.87" width="2.83" height="5.32" fill="#f3d9d8"/><rect x="56.93" y="314.87" width="2.83" height="5.32" fill="#f8efef"/><rect x="59.71" y="314.87" width="2.83" height="5.32" fill="#f4f3f4"/><rect x="62.49" y="314.87" width="2.83" height="5.32" fill="#f2d3d2"/><rect x="65.26" y="314.87" width="2.83" height="5.32" fill="#e8a5a4"/><rect x="68.04" y="314.87" width="2.83" height="5.32" fill="#eaaeac"/><rect x="70.81" y="314.87" width="2.83" height="5.32" fill="#ecb6b5"/><rect x="73.59" y="314.87" width="2.83" height="5.32" fill="#f6e6e5"/><rect x="76.37" y="314.87" width="2.83" height="5.32" fill="#ebb1b0"/><rect x="79.14" y="314.87" width="2.83" height="5.32" fill="#efc6c5"/><rect x="81.92" y="314.87" width="2.83" height="5.32" fill="#e8a3a1"/><rect x="84.7" y="314.87" width="2.83" height="5.32" fill="#ebb4b2"/><rect x="87.47" y="314.87" width="2.83" height="5.32" fill="#ebb2b0"/><rect x="90.25" y="314.87" width="2.83" height="5.32" fill="#e7a09e"/><rect x="93.02" y="314.87" width="2.83" height="5.32" fill="#efc6c5"/><rect x="37.5" y="320.14" width="2.83" height="5.32" fill="#ecb8b6"/><rect x="40.28" y="320.14" width="2.83" height="5.32" fill="#e8a2a1"/><rect x="43.05" y="320.14" width="2.83" height="5.32" fill="#f4dad9"/><rect x="45.83" y="320.14" width="2.83" height="5.32" fill="#eebfbe"/><rect x="48.6" y="320.14" width="2.83" height="5.32" fill="#f1cecd"/><rect x="51.38" y="320.14" width="2.83" height="5.32" fill="#e0807e"/><rect x="54.16" y="320.14" width="2.83" height="5.32" fill="#e18280"/><rect x="56.93" y="320.14" width="2.83" height="5.32" fill="#faf8f8"/><rect x="59.71" y="320.14" width="2.83" height="5.32" fill="#e8a6a4"/><rect x="62.49" y="320.14" width="2.83" height="5.32" fill="#f3d6d5"/><rect x="65.26" y="320.14" width="2.83" height="5.32" fill="#e5e5eb"/><rect x="68.04" y="320.14" width="2.83" height="5.32" fill="#7f87ae"/><rect x="70.81" y="320.14" width="2.83" height="5.32" fill="#c2c5d6"/><rect x="73.59" y="320.14" width="2.83" height="5.32" fill="#9fa5c1"/><rect x="76.37" y="320.14" width="2.83" height="5.32" fill="#d6534f"/><rect x="79.14" y="320.14" width="2.83" height="5.32" fill="#e7a1a0"/><rect x="81.92" y="320.14" width="2.83" height="5.32" fill="#de7674"/><rect x="84.7" y="320.14" width="2.83" height="5.32" fill="#d75653"/><rect x="87.47" y="320.14" width="2.83" height="5.32" fill="#faf8f8"/><rect x="90.25" y="320.14" width="2.83" height="5.32" fill="#f1cfcf"/><rect x="93.02" y="320.14" width="2.83" height="5.32" fill="#f8eeee"/><rect x="37.5" y="325.41" width="2.83" height="5.32" fill="#d6d7e2"/><rect x="40.28" y="325.41" width="2.83" height="5.32" fill="#d5d7e2"/><rect x="43.05" y="325.41" width="2.83" height="5.32" fill="#f6e4e3"/><rect x="45.83" y="325.41" width="2.83" height="5.32" fill="#a6acc6"/><rect x="48.6" y="325.41" width="2.83" height="5.32" fill="#ebb3b2"/><rect x="51.38" y="325.41" width="2.83" height="5.32" fill="#e8a3a1"/><rect x="54.16" y="325.41" width="2.83" height="5.32" fill="#f7eceb"/><rect x="56.93" y="325.41" width="2.83" height="5.32" fill="#e3e3ea"/><rect x="59.71" y="325.41" width="2.83" height="5.32" fill="#f1cdcc"/><rect x="62.49" y="325.41" width="2.83" height="5.32" fill="#f9f2f2"/><rect x="65.26" y="325.41" width="2.83" height="5.32" fill="#878fb3"/><rect x="68.04" y="325.41" width="2.83" height="5.32" fill="#9198b9"/><rect x="70.81" y="325.41" width="2.83" height="5.32" fill="#65709e"/><rect x="73.59" y="325.41" width="2.83" height="5.32" fill="#a1a7c3"/><rect x="76.37" y="325.41" width="2.83" height="5.32" fill="#f5e0df"/><rect x="79.14" y="325.41" width="2.83" height="5.32" fill="#f4dbda"/><rect x="81.92" y="325.41" width="2.83" height="5.32" fill="#f5e3e3"/><rect x="84.7" y="325.41" width="2.83" height="5.32" fill="#eec1c0"/><rect x="87.47" y="325.41" width="2.83" height="5.32" fill="#f1f0f3"/><rect x="90.25" y="325.41" width="2.83" height="5.32" fill="#e4e4eb"/><rect x="93.02" y="325.41" width="2.83" height="5.32" fill="#f8f6f7"/><rect x="37.5" y="330.68" width="2.83" height="5.32" fill="#efc3c2"/><rect x="40.28" y="330.68" width="2.83" height="5.32" fill="#f7e9e8"/><rect x="43.05" y="330.68" width="2.83" height="5.32" fill="#eaaead"/><rect x="45.83" y="330.68" width="2.83" height="5.32" fill="#f1f0f3"/><rect x="48.6" y="330.68" width="2.83" height="5.32" fill="#dd716f"/><rect x="51.38" y="330.68" width="2.83" height="5.32" fill="#e28987"/><rect x="54.16" y="330.68" width="2.83" height="5.32" fill="#d64f4c"/><rect x="56.93" y="330.68" width="2.83" height="5.32" fill="#d2d4e0"/><rect x="59.71" y="330.68" width="2.83" height="5.32" fill="#d1d3e0"/><rect x="62.49" y="330.68" width="2.83" height="5.32" fill="#bdc0d3"/><rect x="65.26" y="330.68" width="2.83" height="5.32" fill="#f2d1d1"/><rect x="68.04" y="330.68" width="2.83" height="5.32" fill="#babed2"/><rect x="70.81" y="330.68" width="2.83" height="5.32" fill="#878fb3"/><rect x="73.59" y="330.68" width="2.83" height="5.32" fill="#9ea4c0"/><rect x="76.37" y="330.68" width="2.83" height="5.32" fill="#efc3c2"/><rect x="79.14" y="330.68" width="2.83" height="5.32" fill="#df7977"/><rect x="81.92" y="330.68" width="2.83" height="5.32" fill="#e69a98"/><rect x="84.7" y="330.68" width="2.83" height="5.32" fill="#f5e3e3"/><rect x="87.47" y="330.68" width="2.83" height="5.32" fill="#e59694"/><rect x="90.25" y="330.68" width="2.83" height="5.32" fill="#e0817f"/><rect x="93.02" y="330.68" width="2.83" height="5.32" fill="#e69c9a"/><rect x="37.5" y="335.95" width="2.83" height="5.32" fill="#f0cbca"/><rect x="40.28" y="335.95" width="2.83" height="5.32" fill="#f4dddc"/><rect x="43.05" y="335.95" width="2.83" height="5.32" fill="#f2d3d2"/><rect x="45.83" y="335.95" width="2.83" height="5.32" fill="#f2d3d2"/><rect x="48.6" y="335.95" width="2.83" height="5.32" fill="#f1d0cf"/><rect x="51.38" y="335.95" width="2.83" height="5.32" fill="#ebb0af"/><rect x="54.16" y="335.95" width="2.83" height="5.32" fill="#ecb6b5"/><rect x="56.93" y="335.95" width="2.83" height="5.32" fill="#c5c8d8"/><rect x="59.71" y="335.95" width="2.83" height="5.32" fill="#b2b6cd"/><rect x="62.49" y="335.95" width="2.83" height="5.32" fill="#a8adc7"/><rect x="65.26" y="335.95" width="2.83" height="5.32" fill="#ced0dd"/><rect x="68.04" y="335.95" width="2.83" height="5.32" fill="#f0cbca"/><rect x="70.81" y="335.95" width="2.83" height="5.32" fill="#c6c9d9"/><rect x="73.59" y="335.95" width="2.83" height="5.32" fill="#f9f4f3"/><rect x="76.37" y="335.95" width="2.83" height="5.32" fill="#ebb1b0"/><rect x="79.14" y="335.95" width="2.83" height="5.32" fill="#eebebd"/><rect x="81.92" y="335.95" width="2.83" height="5.32" fill="#f8efee"/><rect x="84.7" y="335.95" width="2.83" height="5.32" fill="#ebb1b0"/><rect x="87.47" y="335.95" width="2.83" height="5.32" fill="#f3d8d8"/><rect x="90.25" y="335.95" width="2.83" height="5.32" fill="#f2d2d2"/><rect x="93.02" y="335.95" width="2.83" height="5.32" fill="#e0817f"/><rect x="37.5" y="341.22" width="2.83" height="5.32" fill="#f8f1f0"/><rect x="40.28" y="341.22" width="2.83" height="5.32" fill="#f7eaea"/><rect x="43.05" y="341.22" width="2.83" height="5.32" fill="#dddee7"/><rect x="45.83" y="341.22" width="2.83" height="5.32" fill="#f0eff2"/><rect x="48.6" y="341.22" width="2.83" height="5.32" fill="#f7e8e8"/><rect x="51.38" y="341.22" width="2.83" height="5.32" fill="#f0c9c8"/><rect x="54.16" y="341.22" width="2.83" height="5.32" fill="#f6f5f6"/><rect x="56.93" y="341.22" width="2.83" height="5.32" fill="#f3d8d8"/><rect x="59.71" y="341.22" width="2.83" height="5.32" fill="#efeef2"/><rect x="62.49" y="341.22" width="2.83" height="5.32" fill="#e8e7ed"/><rect x="65.26" y="341.22" width="2.83" height="5.32" fill="#e7e7ed"/><rect x="68.04" y="341.22" width="2.83" height="5.32" fill="#e18684"/><rect x="70.81" y="341.22" width="2.83" height="5.32" fill="#dc6f6c"/><rect x="73.59" y="341.22" width="2.83" height="5.32" fill="#e9a8a7"/><rect x="76.37" y="341.22" width="2.83" height="5.32" fill="#e79f9d"/><rect x="79.14" y="341.22" width="2.83" height="5.32" fill="#e79f9e"/><rect x="81.92" y="341.22" width="2.83" height="5.32" fill="#e9a7a6"/><rect x="84.7" y="341.22" width="2.83" height="5.32" fill="#efc6c5"/><rect x="87.47" y="341.22" width="2.83" height="5.32" fill="#e7a09e"/><rect x="90.25" y="341.22" width="2.83" height="5.32" fill="#d95f5c"/><rect x="93.02" y="341.22" width="2.83" height="5.32" fill="#e0807d"/><rect x="37.5" y="346.49" width="2.83" height="5.32" fill="#f9f2f2"/><rect x="40.28" y="346.49" width="2.83" height="5.32" fill="#c1c4d6"/><rect x="43.05" y="346.49" width="2.83" height="5.32" fill="#f2f0f3"/><rect x="45.83" y="346.49" width="2.83" height="5.32" fill="#f9f1f1"/><rect x="48.6" y="346.49" width="2.83" height="5.32" fill="#bfc2d4"/><rect x="51.38" y="346.49" width="2.83" height="5.32" fill="#e4e4eb"/><rect x="54.16" y="346.49" width="2.83" height="5.32" fill="#f6e5e4"/><rect x="56.93" y="346.49" width="2.83" height="5.32" fill="#f4dddc"/><rect x="59.71" y="346.49" width="2.83" height="5.32" fill="#faf8f8"/><rect x="62.49" y="346.49" width="2.83" height="5.32" fill="#e69d9b"/><rect x="65.26" y="346.49" width="2.83" height="5.32" fill="#ced0dd"/><rect x="68.04" y="346.49" width="2.83" height="5.32" fill="#969dbc"/><rect x="70.81" y="346.49" width="2.83" height="5.32" fill="#bec1d4"/><rect x="73.59" y="346.49" width="2.83" height="5.32" fill="#a0a6c2"/><rect x="76.37" y="346.49" width="2.83" height="5.32" fill="#8c93b6"/><rect x="79.14" y="346.49" width="2.83" height="5.32" fill="#d9dae4"/><rect x="81.92" y="346.49" width="2.83" height="5.32" fill="#eae9ee"/><rect x="84.7" y="346.49" width="2.83" height="5.32" fill="#b9bdd1"/><rect x="87.47" y="346.49" width="2.83" height="5.32" fill="#f3f1f4"/><rect x="90.25" y="346.49" width="2.83" height="5.32" fill="#d6d7e2"/><rect x="93.02" y="346.49" width="2.83" height="5.32" fill="#eaeaef"/><rect x="37.5" y="351.76" width="2.83" height="5.32" fill="#f7e8e8"/><rect x="40.28" y="351.76" width="2.83" height="5.32" fill="#edbbba"/><rect x="43.05" y="351.76" width="2.83" height="5.32" fill="#e38b89"/><rect x="45.83" y="351.76" width="2.83" height="5.32" fill="#e07f7c"/><rect x="48.6" y="351.76" width="2.83" height="5.32" fill="#f6e5e5"/><rect x="51.38" y="351.76" width="2.83" height="5.32" fill="#e5e5ec"/><rect x="54.16" y="351.76" width="2.83" height="5.32" fill="#ebeaef"/><rect x="56.93" y="351.76" width="2.83" height="5.32" fill="#faf6f6"/><rect x="59.71" y="351.76" width="2.83" height="5.32" fill="#efc3c2"/><rect x="62.49" y="351.76" width="2.83" height="5.32" fill="#faf8f8"/><rect x="65.26" y="351.76" width="2.83" height="5.32" fill="#f5e0df"/><rect x="68.04" y="351.76" width="2.83" height="5.32" fill="#9da3c0"/><rect x="70.81" y="351.76" width="2.83" height="5.32" fill="#aeb2ca"/><rect x="73.59" y="351.76" width="2.83" height="5.32" fill="#f5e2e1"/><rect x="76.37" y="351.76" width="2.83" height="5.32" fill="#d3d4e0"/><rect x="79.14" y="351.76" width="2.83" height="5.32" fill="#d7d8e3"/><rect x="81.92" y="351.76" width="2.83" height="5.32" fill="#8f96b7"/><rect x="84.7" y="351.76" width="2.83" height="5.32" fill="#d0d1df"/><rect x="87.47" y="351.76" width="2.83" height="5.32" fill="#f8eded"/><rect x="90.25" y="351.76" width="2.83" height="5.32" fill="#99a0be"/><rect x="93.02" y="351.76" width="2.83" height="5.32" fill="#7f88ae"/><rect x="37.5" y="357.03" width="2.83" height="5.32" fill="#65709e"/><rect x="40.28" y="357.03" width="2.83" height="5.32" fill="#5a6698"/><rect x="43.05" y="357.03" width="2.83" height="5.32" fill="#636f9d"/><rect x="45.83" y="357.03" width="2.83" height="5.32" fill="#44528a"/><rect x="48.6" y="357.03" width="2.83" height="5.32" fill="#b2b6cd"/><rect x="51.38" y="357.03" width="2.83" height="5.32" fill="#b6bacf"/><rect x="54.16" y="357.03" width="2.83" height="5.32" fill="#eeedf1"/><rect x="56.93" y="357.03" width="2.83" height="5.32" fill="#e9a8a6"/><rect x="59.71" y="357.03" width="2.83" height="5.32" fill="#e38e8c"/><rect x="62.49" y="357.03" width="2.83" height="5.32" fill="#efc7c6"/><rect x="65.26" y="357.03" width="2.83" height="5.32" fill="#e59593"/><rect x="68.04" y="357.03" width="2.83" height="5.32" fill="#c3c6d7"/><rect x="70.81" y="357.03" width="2.83" height="5.32" fill="#d3d5e1"/><rect x="73.59" y="357.03" width="2.83" height="5.32" fill="#edecf0"/><rect x="76.37" y="357.03" width="2.83" height="5.32" fill="#c8cada"/><rect x="79.14" y="357.03" width="2.83" height="5.32" fill="#bcbfd3"/><rect x="81.92" y="357.03" width="2.83" height="5.32" fill="#949bbb"/><rect x="84.7" y="357.03" width="2.83" height="5.32" fill="#c8cbda"/><rect x="87.47" y="357.03" width="2.83" height="5.32" fill="#e8e8ed"/><rect x="90.25" y="357.03" width="2.83" height="5.32" fill="#bec1d4"/><rect x="93.02" y="357.03" width="2.83" height="5.32" fill="#cfd1de"/><rect x="37.5" y="362.3" width="2.83" height="5.32" fill="#c5c7d8"/><rect x="40.28" y="362.3" width="2.83" height="5.32" fill="#d2d3e0"/><rect x="43.05" y="362.3" width="2.83" height="5.32" fill="#f7ecec"/><rect x="45.83" y="362.3" width="2.83" height="5.32" fill="#f2d1d0"/><rect x="48.6" y="362.3" width="2.83" height="5.32" fill="#b3b7cd"/><rect x="51.38" y="362.3" width="2.83" height="5.32" fill="#8a91b4"/><rect x="54.16" y="362.3" width="2.83" height="5.32" fill="#b1b5cc"/><rect x="56.93" y="362.3" width="2.83" height="5.32" fill="#f7eae9"/><rect x="59.71" y="362.3" width="2.83" height="5.32" fill="#efc3c2"/><rect x="62.49" y="362.3" width="2.83" height="5.32" fill="#e0817f"/><rect x="65.26" y="362.3" width="2.83" height="5.32" fill="#ebb2b0"/><rect x="68.04" y="362.3" width="2.83" height="5.32" fill="#b8bbd0"/><rect x="70.81" y="362.3" width="2.83" height="5.32" fill="#dcdce6"/><rect x="73.59" y="362.3" width="2.83" height="5.32" fill="#b1b5cc"/><rect x="76.37" y="362.3" width="2.83" height="5.32" fill="#dbdce5"/><rect x="79.14" y="362.3" width="2.83" height="5.32" fill="#d7d8e3"/><rect x="81.92" y="362.3" width="2.83" height="5.32" fill="#dedfe7"/><rect x="84.7" y="362.3" width="2.83" height="5.32" fill="#a4aac4"/><rect x="87.47" y="362.3" width="2.83" height="5.32" fill="#f1eff2"/><rect x="90.25" y="362.3" width="2.83" height="5.32" fill="#f6f4f5"/><rect x="93.02" y="362.3" width="2.83" height="5.32" fill="#969dbc"/><rect x="37.5" y="367.57" width="2.83" height="5.32" fill="#6a75a1"/><rect x="40.28" y="367.57" width="2.83" height="5.32" fill="#a1a7c2"/><rect x="43.05" y="367.57" width="2.83" height="5.32" fill="#e9e9ee"/><rect x="45.83" y="367.57" width="2.83" height="5.32" fill="#bdc0d3"/><rect x="48.6" y="367.57" width="2.83" height="5.32" fill="#dbdce5"/><rect x="51.38" y="367.57" width="2.83" height="5.32" fill="#d7d8e3"/><rect x="54.16" y="367.57" width="2.83" height="5.32" fill="#e1e2e9"/><rect x="56.93" y="367.57" width="2.83" height="5.32" fill="#bdc1d4"/><rect x="59.71" y="367.57" width="2.83" height="5.32" fill="#bfc2d5"/><rect x="62.49" y="367.57" width="2.83" height="5.32" fill="#dcdde6"/><rect x="65.26" y="367.57" width="2.83" height="5.32" fill="#e3e3ea"/><rect x="68.04" y="367.57" width="2.83" height="5.32" fill="#c3c6d7"/><rect x="70.81" y="367.57" width="2.83" height="5.32" fill="#bcc0d3"/><rect x="73.59" y="367.57" width="2.83" height="5.32" fill="#a3a9c4"/><rect x="76.37" y="367.57" width="2.83" height="5.32" fill="#dedee7"/><rect x="79.14" y="367.57" width="2.83" height="5.32" fill="#cbcddb"/><rect x="81.92" y="367.57" width="2.83" height="5.32" fill="#dcdde6"/><rect x="84.7" y="367.57" width="2.83" height="5.32" fill="#6f79a4"/><rect x="87.47" y="367.57" width="2.83" height="5.32" fill="#bcbfd3"/><rect x="90.25" y="367.57" width="2.83" height="5.32" fill="#536094"/><rect x="93.02" y="367.57" width="2.83" height="5.32" fill="#a4a9c4"/><rect x="37.5" y="372.84" width="2.83" height="5.32" fill="#b2b7cd"/><rect x="40.28" y="372.84" width="2.83" height="5.32" fill="#caccdb"/><rect x="43.05" y="372.84" width="2.83" height="5.32" fill="#b8bcd0"/><rect x="45.83" y="372.84" width="2.83" height="5.32" fill="#bdc0d3"/><rect x="48.6" y="372.84" width="2.83" height="5.32" fill="#d7d8e3"/><rect x="51.38" y="372.84" width="2.83" height="5.32" fill="#dbdce6"/><rect x="54.16" y="372.84" width="2.83" height="5.32" fill="#b9bcd1"/><rect x="56.93" y="372.84" width="2.83" height="5.32" fill="#989fbd"/><rect x="59.71" y="372.84" width="2.83" height="5.32" fill="#ced0dd"/><rect x="62.49" y="372.84" width="2.83" height="5.32" fill="#f6f4f6"/><rect x="65.26" y="372.84" width="2.83" height="5.32" fill="#cccedc"/><rect x="68.04" y="372.84" width="2.83" height="5.32" fill="#c9ccdb"/><rect x="70.81" y="372.84" width="2.83" height="5.32" fill="#b1b5cc"/><rect x="73.59" y="372.84" width="2.83" height="5.32" fill="#9fa5c2"/><rect x="76.37" y="372.84" width="2.83" height="5.32" fill="#cbcddc"/><rect x="79.14" y="372.84" width="2.83" height="5.32" fill="#dadbe5"/><rect x="81.92" y="372.84" width="2.83" height="5.32" fill="#a4aac5"/><rect x="84.7" y="372.84" width="2.83" height="5.32" fill="#a6abc5"/><rect x="87.47" y="372.84" width="2.83" height="5.32" fill="#b0b5cc"/><rect x="90.25" y="372.84" width="2.83" height="5.32" fill="#6b75a2"/><rect x="93.02" y="372.84" width="2.83" height="5.32" fill="#7882aa"/><rect x="37.5" y="378.11" width="2.83" height="5.32" fill="#df7a78"/><rect x="40.28" y="378.11" width="2.83" height="5.32" fill="#e0817f"/><rect x="43.05" y="378.11" width="2.83" height="5.32" fill="#e9abaa"/><rect x="45.83" y="378.11" width="2.83" height="5.32" fill="#ebb4b2"/><rect x="48.6" y="378.11" width="2.83" height="5.32" fill="#e28785"/><rect x="51.38" y="378.11" width="2.83" height="5.32" fill="#edbdbb"/><rect x="54.16" y="378.11" width="2.83" height="5.32" fill="#e7a19f"/><rect x="56.93" y="378.11" width="2.83" height="5.32" fill="#f7ebea"/><rect x="59.71" y="378.11" width="2.83" height="5.32" fill="#c3c6d7"/><rect x="62.49" y="378.11" width="2.83" height="5.32" fill="#f2d2d1"/><rect x="65.26" y="378.11" width="2.83" height="5.32" fill="#f1cccc"/><rect x="68.04" y="378.11" width="2.83" height="5.32" fill="#d95d5a"/><rect x="70.81" y="378.11" width="2.83" height="5.32" fill="#e9a9a8"/><rect x="73.59" y="378.11" width="2.83" height="5.32" fill="#e8a4a3"/><rect x="76.37" y="378.11" width="2.83" height="5.32" fill="#ecb5b4"/><rect x="79.14" y="378.11" width="2.83" height="5.32" fill="#efc4c3"/><rect x="81.92" y="378.11" width="2.83" height="5.32" fill="#d95e5b"/><rect x="84.7" y="378.11" width="2.83" height="5.32" fill="#edbab9"/><rect x="87.47" y="378.11" width="2.83" height="5.32" fill="#df7d7a"/><rect x="90.25" y="378.11" width="2.83" height="5.32" fill="#dc6d6a"/><rect x="93.02" y="378.11" width="2.83" height="5.32" fill="#da6663"/><rect x="37.5" y="383.38" width="2.83" height="5.32" fill="#f7ebea"/><rect x="40.28" y="383.38" width="2.83" height="5.32" fill="#babdd1"/><rect x="43.05" y="383.38" width="2.83" height="5.32" fill="#f6f4f6"/><rect x="45.83" y="383.38" width="2.83" height="5.32" fill="#e0e0e8"/><rect x="48.6" y="383.38" width="2.83" height="5.32" fill="#c2c4d6"/><rect x="51.38" y="383.38" width="2.83" height="5.32" fill="#eae9ee"/><rect x="54.16" y="383.38" width="2.83" height="5.32" fill="#babed2"/><rect x="56.93" y="383.38" width="2.83" height="5.32" fill="#f2d1d0"/><rect x="59.71" y="383.38" width="2.83" height="5.32" fill="#d9dae4"/><rect x="62.49" y="383.38" width="2.83" height="5.32" fill="#f6e4e3"/><rect x="65.26" y="383.38" width="2.83" height="5.32" fill="#f4dbda"/><rect x="68.04" y="383.38" width="2.83" height="5.32" fill="#9fa5c1"/><rect x="70.81" y="383.38" width="2.83" height="5.32" fill="#969dbc"/><rect x="73.59" y="383.38" width="2.83" height="5.32" fill="#b6bacf"/><rect x="76.37" y="383.38" width="2.83" height="5.32" fill="#878fb3"/><rect x="79.14" y="383.38" width="2.83" height="5.32" fill="#c3c6d7"/><rect x="81.92" y="383.38" width="2.83" height="5.32" fill="#adb2ca"/><rect x="84.7" y="383.38" width="2.83" height="5.32" fill="#9097b8"/><rect x="87.47" y="383.38" width="2.83" height="5.32" fill="#6974a1"/><rect x="90.25" y="383.38" width="2.83" height="5.32" fill="#959cbb"/><rect x="93.02" y="383.38" width="2.83" height="5.32" fill="#525f93"/><rect x="100.6" y="204.2" width="2.84" height="5.32" fill="#f0eff2"/><rect x="103.39" y="204.2" width="2.84" height="5.32" fill="#a4aac4"/><rect x="106.18" y="204.2" width="2.84" height="5.32" fill="#b6bacf"/><rect x="108.97" y="204.2" width="2.84" height="5.32" fill="#a0a6c2"/><rect x="111.76" y="204.2" width="2.84" height="5.32" fill="#b0b5cc"/><rect x="114.55" y="204.2" width="2.84" height="5.32" fill="#989ebd"/><rect x="117.35" y="204.2" width="2.84" height="5.32" fill="#a6acc6"/><rect x="120.14" y="204.2" width="2.84" height="5.32" fill="#929aba"/><rect x="122.93" y="204.2" width="2.84" height="5.32" fill="#b5b9ce"/><rect x="125.72" y="204.2" width="2.84" height="5.32" fill="#e6e6ec"/><rect x="128.51" y="204.2" width="2.84" height="5.32" fill="#c6c9d9"/><rect x="131.3" y="204.2" width="2.84" height="5.32" fill="#b5b9ce"/><rect x="134.09" y="204.2" width="2.84" height="5.32" fill="#b9bdd1"/><rect x="136.88" y="204.2" width="2.84" height="5.32" fill="#bec1d4"/><rect x="139.67" y="204.2" width="2.84" height="5.32" fill="#b0b5cc"/><rect x="142.46" y="204.2" width="2.84" height="5.32" fill="#a2a8c3"/><rect x="145.25" y="204.2" width="2.84" height="5.32" fill="#7780a9"/><rect x="148.05" y="204.2" width="2.84" height="5.32" fill="#e7e7ed"/><rect x="150.84" y="204.2" width="2.84" height="5.32" fill="#8088ae"/><rect x="153.63" y="204.2" width="2.84" height="5.32" fill="#5b6798"/><rect x="156.42" y="204.2" width="2.84" height="5.32" fill="#878fb3"/><rect x="159.21" y="204.2" width="2.84" height="5.32" fill="#d9dae4"/><rect x="100.6" y="209.47" width="2.84" height="5.32" fill="#a4a9c4"/><rect x="103.39" y="209.47" width="2.84" height="5.32" fill="#6c76a2"/><rect x="106.18" y="209.47" width="2.84" height="5.32" fill="#878fb3"/><rect x="108.97" y="209.47" width="2.84" height="5.32" fill="#7e87ad"/><rect x="111.76" y="209.47" width="2.84" height="5.32" fill="#566295"/><rect x="114.55" y="209.47" width="2.84" height="5.32" fill="#8991b4"/><rect x="117.35" y="209.47" width="2.84" height="5.32" fill="#9ca2bf"/><rect x="120.14" y="209.47" width="2.84" height="5.32" fill="#b7bbd0"/><rect x="122.93" y="209.47" width="2.84" height="5.32" fill="#838bb0"/><rect x="125.72" y="209.47" width="2.84" height="5.32" fill="#626d9d"/><rect x="128.51" y="209.47" width="2.84" height="5.32" fill="#7781a9"/><rect x="131.3" y="209.47" width="2.84" height="5.32" fill="#d1d2df"/><rect x="134.09" y="209.47" width="2.84" height="5.32" fill="#c9cbda"/><rect x="136.88" y="209.47" width="2.84" height="5.32" fill="#cbcddc"/><rect x="139.67" y="209.47" width="2.84" height="5.32" fill="#cbcddc"/><rect x="142.46" y="209.47" width="2.84" height="5.32" fill="#d0d1df"/><rect x="145.25" y="209.47" width="2.84" height="5.32" fill="#b1b5cc"/><rect x="148.05" y="209.47" width="2.84" height="5.32" fill="#e9e9ee"/><rect x="150.84" y="209.47" width="2.84" height="5.32" fill="#e7e7ed"/><rect x="153.63" y="209.47" width="2.84" height="5.32" fill="#e3e3ea"/><rect x="156.42" y="209.47" width="2.84" height="5.32" fill="#f7f5f6"/><rect x="159.21" y="209.47" width="2.84" height="5.32" fill="#abb0c8"/><rect x="100.6" y="214.74" width="2.84" height="5.32" fill="#5f6b9b"/><rect x="103.39" y="214.74" width="2.84" height="5.32" fill="#717ba5"/><rect x="106.18" y="214.74" width="2.84" height="5.32" fill="#eae9ee"/><rect x="108.97" y="214.74" width="2.84" height="5.32" fill="#8b93b5"/><rect x="111.76" y="214.74" width="2.84" height="5.32" fill="#8089af"/><rect x="114.55" y="214.74" width="2.84" height="5.32" fill="#747da7"/><rect x="117.35" y="214.74" width="2.84" height="5.32" fill="#8b92b5"/><rect x="120.14" y="214.74" width="2.84" height="5.32" fill="#d7d8e3"/><rect x="122.93" y="214.74" width="2.84" height="5.32" fill="#989ebd"/><rect x="125.72" y="214.74" width="2.84" height="5.32" fill="#a2a8c3"/><rect x="128.51" y="214.74" width="2.84" height="5.32" fill="#959cbb"/><rect x="131.3" y="214.74" width="2.84" height="5.32" fill="#c4c7d7"/><rect x="134.09" y="214.74" width="2.84" height="5.32" fill="#cccedc"/><rect x="136.88" y="214.74" width="2.84" height="5.32" fill="#9ea4c1"/><rect x="139.67" y="214.74" width="2.84" height="5.32" fill="#e5e5eb"/><rect x="142.46" y="214.74" width="2.84" height="5.32" fill="#f7e9e9"/><rect x="145.25" y="214.74" width="2.84" height="5.32" fill="#f3f2f4"/><rect x="148.05" y="214.74" width="2.84" height="5.32" fill="#e2e2ea"/><rect x="150.84" y="214.74" width="2.84" height="5.32" fill="#dedfe7"/><rect x="153.63" y="214.74" width="2.84" height="5.32" fill="#7f88ae"/><rect x="156.42" y="214.74" width="2.84" height="5.32" fill="#c6c9d9"/><rect x="159.21" y="214.74" width="2.84" height="5.32" fill="#949bba"/><rect x="100.6" y="220.01" width="2.84" height="5.32" fill="#b7bbd0"/><rect x="103.39" y="220.01" width="2.84" height="5.32" fill="#e5e5ec"/><rect x="106.18" y="220.01" width="2.84" height="5.32" fill="#aaafc8"/><rect x="108.97" y="220.01" width="2.84" height="5.32" fill="#b6bacf"/><rect x="111.76" y="220.01" width="2.84" height="5.32" fill="#f6f4f5"/><rect x="114.55" y="220.01" width="2.84" height="5.32" fill="#f4dedd"/><rect x="117.35" y="220.01" width="2.84" height="5.32" fill="#c6c8d9"/><rect x="120.14" y="220.01" width="2.84" height="5.32" fill="#f9f5f5"/><rect x="122.93" y="220.01" width="2.84" height="5.32" fill="#b2b7cd"/><rect x="125.72" y="220.01" width="2.84" height="5.32" fill="#d2d4e0"/><rect x="128.51" y="220.01" width="2.84" height="5.32" fill="#d5d7e2"/><rect x="131.3" y="220.01" width="2.84" height="5.32" fill="#aeb2ca"/><rect x="134.09" y="220.01" width="2.84" height="5.32" fill="#f0eff2"/><rect x="136.88" y="220.01" width="2.84" height="5.32" fill="#f7eae9"/><rect x="139.67" y="220.01" width="2.84" height="5.32" fill="#d2d4e0"/><rect x="142.46" y="220.01" width="2.84" height="5.32" fill="#d75754"/><rect x="145.25" y="220.01" width="2.84" height="5.32" fill="#e18381"/><rect x="148.05" y="220.01" width="2.84" height="5.32" fill="#ce2c28"/><rect x="150.84" y="220.01" width="2.84" height="5.32" fill="#d95d5a"/><rect x="153.63" y="220.01" width="2.84" height="5.32" fill="#b4b8ce"/><rect x="156.42" y="220.01" width="2.84" height="5.32" fill="#f3f1f4"/><rect x="159.21" y="220.01" width="2.84" height="5.32" fill="#aeb3ca"/><rect x="100.6" y="225.28" width="2.84" height="5.32" fill="#2c3c7c"/><rect x="103.39" y="225.28" width="2.84" height="5.32" fill="#2c3c7c"/><rect x="106.18" y="225.28" width="2.84" height="5.32" fill="#6b76a2"/><rect x="108.97" y="225.28" width="2.84" height="5.32" fill="#858db2"/><rect x="111.76" y="225.28" width="2.84" height="5.32" fill="#425089"/><rect x="114.55" y="225.28" width="2.84" height="5.32" fill="#414f89"/><rect x="117.35" y="225.28" width="2.84" height="5.32" fill="#43518a"/><rect x="120.14" y="225.28" width="2.84" height="5.32" fill="#44528a"/><rect x="122.93" y="225.28" width="2.84" height="5.32" fill="#9097b8"/><rect x="125.72" y="225.28" width="2.84" height="5.32" fill="#abb0c9"/><rect x="128.51" y="225.28" width="2.84" height="5.32" fill="#5f6b9b"/><rect x="131.3" y="225.28" width="2.84" height="5.32" fill="#abb0c8"/><rect x="134.09" y="225.28" width="2.84" height="5.32" fill="#66719f"/><rect x="136.88" y="225.28" width="2.84" height="5.32" fill="#cccedd"/><rect x="139.67" y="225.28" width="2.84" height="5.32" fill="#9ba1bf"/><rect x="142.46" y="225.28" width="2.84" height="5.32" fill="#b1b5cc"/><rect x="145.25" y="225.28" width="2.84" height="5.32" fill="#f6f4f5"/><rect x="148.05" y="225.28" width="2.84" height="5.32" fill="#c3c6d7"/><rect x="150.84" y="225.28" width="2.84" height="5.32" fill="#f1f0f2"/><rect x="153.63" y="225.28" width="2.84" height="5.32" fill="#bec2d4"/><rect x="156.42" y="225.28" width="2.84" height="5.32" fill="#d0d2df"/><rect x="159.21" y="225.28" width="2.84" height="5.32" fill="#858db1"/><rect x="100.6" y="230.55" width="2.84" height="5.32" fill="#616d9c"/><rect x="103.39" y="230.55" width="2.84" height="5.32" fill="#6b75a2"/><rect x="106.18" y="230.55" width="2.84" height="5.32" fill="#5a6697"/><rect x="108.97" y="230.55" width="2.84" height="5.32" fill="#8f96b7"/><rect x="111.76" y="230.55" width="2.84" height="5.32" fill="#7d86ad"/><rect x="114.55" y="230.55" width="2.84" height="5.32" fill="#b2b6cd"/><rect x="117.35" y="230.55" width="2.84" height="5.32" fill="#bdc0d3"/><rect x="120.14" y="230.55" width="2.84" height="5.32" fill="#576396"/><rect x="122.93" y="230.55" width="2.84" height="5.32" fill="#a9aec7"/><rect x="125.72" y="230.55" width="2.84" height="5.32" fill="#abb0c8"/><rect x="128.51" y="230.55" width="2.84" height="5.32" fill="#b6bacf"/><rect x="131.3" y="230.55" width="2.84" height="5.32" fill="#d3d4e0"/><rect x="134.09" y="230.55" width="2.84" height="5.32" fill="#c1c4d6"/><rect x="136.88" y="230.55" width="2.84" height="5.32" fill="#c9cbda"/><rect x="139.67" y="230.55" width="2.84" height="5.32" fill="#b8bcd0"/><rect x="142.46" y="230.55" width="2.84" height="5.32" fill="#e3e3ea"/><rect x="145.25" y="230.55" width="2.84" height="5.32" fill="#f4f3f5"/><rect x="148.05" y="230.55" width="2.84" height="5.32" fill="#f9f6f6"/><rect x="150.84" y="230.55" width="2.84" height="5.32" fill="#cdcfdd"/><rect x="153.63" y="230.55" width="2.84" height="5.32" fill="#cdcfdd"/><rect x="156.42" y="230.55" width="2.84" height="5.32" fill="#b9bdd1"/><rect x="159.21" y="230.55" width="2.84" height="5.32" fill="#cbcddc"/><rect x="100.6" y="235.82" width="2.84" height="5.32" fill="#3d4c86"/><rect x="103.39" y="235.82" width="2.84" height="5.32" fill="#878fb3"/><rect x="106.18" y="235.82" width="2.84" height="5.32" fill="#7f87ae"/><rect x="108.97" y="235.82" width="2.84" height="5.32" fill="#66719f"/><rect x="111.76" y="235.82" width="2.84" height="5.32" fill="#7e87ad"/><rect x="114.55" y="235.82" width="2.84" height="5.32" fill="#858db2"/><rect x="117.35" y="235.82" width="2.84" height="5.32" fill="#7e87ae"/><rect x="120.14" y="235.82" width="2.84" height="5.32" fill="#636e9d"/><rect x="122.93" y="235.82" width="2.84" height="5.32" fill="#efeef1"/><rect x="125.72" y="235.82" width="2.84" height="5.32" fill="#f1d1d0"/><rect x="128.51" y="235.82" width="2.84" height="5.32" fill="#969dbc"/><rect x="131.3" y="235.82" width="2.84" height="5.32" fill="#adb1c9"/><rect x="134.09" y="235.82" width="2.84" height="5.32" fill="#e3e3ea"/><rect x="136.88" y="235.82" width="2.84" height="5.32" fill="#e4e3ea"/><rect x="139.67" y="235.82" width="2.84" height="5.32" fill="#a0a6c2"/><rect x="142.46" y="235.82" width="2.84" height="5.32" fill="#aaafc8"/><rect x="145.25" y="235.82" width="2.84" height="5.32" fill="#f6f4f6"/><rect x="148.05" y="235.82" width="2.84" height="5.32" fill="#a8adc7"/><rect x="150.84" y="235.82" width="2.84" height="5.32" fill="#f5e1e0"/><rect x="153.63" y="235.82" width="2.84" height="5.32" fill="#cccedc"/><rect x="156.42" y="235.82" width="2.84" height="5.32" fill="#dedee7"/><rect x="159.21" y="235.82" width="2.84" height="5.32" fill="#dbdce5"/><rect x="100.6" y="241.09" width="2.84" height="5.32" fill="#828ab0"/><rect x="103.39" y="241.09" width="2.84" height="5.32" fill="#8f96b7"/><rect x="106.18" y="241.09" width="2.84" height="5.32" fill="#8a92b4"/><rect x="108.97" y="241.09" width="2.84" height="5.32" fill="#b9bdd1"/><rect x="111.76" y="241.09" width="2.84" height="5.32" fill="#7c85ac"/><rect x="114.55" y="241.09" width="2.84" height="5.32" fill="#7d86ad"/><rect x="117.35" y="241.09" width="2.84" height="5.32" fill="#6e78a4"/><rect x="120.14" y="241.09" width="2.84" height="5.32" fill="#6b75a2"/><rect x="122.93" y="241.09" width="2.84" height="5.32" fill="#9198b9"/><rect x="125.72" y="241.09" width="2.84" height="5.32" fill="#a8adc7"/><rect x="128.51" y="241.09" width="2.84" height="5.32" fill="#e0e1e9"/><rect x="131.3" y="241.09" width="2.84" height="5.32" fill="#e9e8ee"/><rect x="134.09" y="241.09" width="2.84" height="5.32" fill="#ced0dd"/><rect x="136.88" y="241.09" width="2.84" height="5.32" fill="#faf8f8"/><rect x="139.67" y="241.09" width="2.84" height="5.32" fill="#e6e6ec"/><rect x="142.46" y="241.09" width="2.84" height="5.32" fill="#ecebef"/><rect x="145.25" y="241.09" width="2.84" height="5.32" fill="#e0e1e9"/><rect x="148.05" y="241.09" width="2.84" height="5.32" fill="#c3c6d7"/><rect x="150.84" y="241.09" width="2.84" height="5.32" fill="#edecf0"/><rect x="153.63" y="241.09" width="2.84" height="5.32" fill="#bdc0d3"/><rect x="156.42" y="241.09" width="2.84" height="5.32" fill="#969cbc"/><rect x="159.21" y="241.09" width="2.84" height="5.32" fill="#9fa5c1"/><rect x="100.6" y="246.36" width="2.84" height="5.32" fill="#cfd1de"/><rect x="103.39" y="246.36" width="2.84" height="5.32" fill="#9aa0be"/><rect x="106.18" y="246.36" width="2.84" height="5.32" fill="#a2a8c3"/><rect x="108.97" y="246.36" width="2.84" height="5.32" fill="#99a0be"/><rect x="111.76" y="246.36" width="2.84" height="5.32" fill="#aeb2ca"/><rect x="114.55" y="246.36" width="2.84" height="5.32" fill="#cacddb"/><rect x="117.35" y="246.36" width="2.84" height="5.32" fill="#dedee7"/><rect x="120.14" y="246.36" width="2.84" height="5.32" fill="#b3b7cd"/><rect x="122.93" y="246.36" width="2.84" height="5.32" fill="#b7bbd0"/><rect x="125.72" y="246.36" width="2.84" height="5.32" fill="#c7cad9"/><rect x="128.51" y="246.36" width="2.84" height="5.32" fill="#999fbd"/><rect x="131.3" y="246.36" width="2.84" height="5.32" fill="#e0e1e9"/><rect x="134.09" y="246.36" width="2.84" height="5.32" fill="#c4c7d8"/><rect x="136.88" y="246.36" width="2.84" height="5.32" fill="#eeedf1"/><rect x="139.67" y="246.36" width="2.84" height="5.32" fill="#d0d1df"/><rect x="142.46" y="246.36" width="2.84" height="5.32" fill="#b6bacf"/><rect x="145.25" y="246.36" width="2.84" height="5.32" fill="#7b84ac"/><rect x="148.05" y="246.36" width="2.84" height="5.32" fill="#c7cad9"/><rect x="150.84" y="246.36" width="2.84" height="5.32" fill="#8991b4"/><rect x="153.63" y="246.36" width="2.84" height="5.32" fill="#adb1c9"/><rect x="156.42" y="246.36" width="2.84" height="5.32" fill="#abb0c8"/><rect x="159.21" y="246.36" width="2.84" height="5.32" fill="#dbdce5"/><rect x="100.6" y="251.63" width="2.84" height="5.32" fill="#8d95b6"/><rect x="103.39" y="251.63" width="2.84" height="5.32" fill="#dfe0e8"/><rect x="106.18" y="251.63" width="2.84" height="5.32" fill="#cfd1de"/><rect x="108.97" y="251.63" width="2.84" height="5.32" fill="#b8bbd0"/><rect x="111.76" y="251.63" width="2.84" height="5.32" fill="#9ba1bf"/><rect x="114.55" y="251.63" width="2.84" height="5.32" fill="#c6c8d9"/><rect x="117.35" y="251.63" width="2.84" height="5.32" fill="#b0b5cb"/><rect x="120.14" y="251.63" width="2.84" height="5.32" fill="#8f96b7"/><rect x="122.93" y="251.63" width="2.84" height="5.32" fill="#c9ccdb"/><rect x="125.72" y="251.63" width="2.84" height="5.32" fill="#f9f2f2"/><rect x="128.51" y="251.63" width="2.84" height="5.32" fill="#acb0c9"/><rect x="131.3" y="251.63" width="2.84" height="5.32" fill="#f4f3f4"/><rect x="134.09" y="251.63" width="2.84" height="5.32" fill="#f8efef"/><rect x="136.88" y="251.63" width="2.84" height="5.32" fill="#bdc1d4"/><rect x="139.67" y="251.63" width="2.84" height="5.32" fill="#d1d2df"/><rect x="142.46" y="251.63" width="2.84" height="5.32" fill="#e3e3ea"/><rect x="145.25" y="251.63" width="2.84" height="5.32" fill="#eae9ee"/><rect x="148.05" y="251.63" width="2.84" height="5.32" fill="#b8bbd0"/><rect x="150.84" y="251.63" width="2.84" height="5.32" fill="#e2e2e9"/><rect x="153.63" y="251.63" width="2.84" height="5.32" fill="#cdcfdd"/><rect x="156.42" y="251.63" width="2.84" height="5.32" fill="#eeedf1"/><rect x="159.21" y="251.63" width="2.84" height="5.32" fill="#9fa5c1"/><rect x="100.6" y="256.9" width="2.84" height="5.32" fill="#44528a"/><rect x="103.39" y="256.9" width="2.84" height="5.32" fill="#46538b"/><rect x="106.18" y="256.9" width="2.84" height="5.32" fill="#4b598f"/><rect x="108.97" y="256.9" width="2.84" height="5.32" fill="#6c76a2"/><rect x="111.76" y="256.9" width="2.84" height="5.32" fill="#425089"/><rect x="114.55" y="256.9" width="2.84" height="5.32" fill="#aaafc8"/><rect x="117.35" y="256.9" width="2.84" height="5.32" fill="#3f4e88"/><rect x="120.14" y="256.9" width="2.84" height="5.32" fill="#6f79a4"/><rect x="122.93" y="256.9" width="2.84" height="5.32" fill="#9ea4c1"/><rect x="125.72" y="256.9" width="2.84" height="5.32" fill="#9ca2c0"/><rect x="128.51" y="256.9" width="2.84" height="5.32" fill="#7881aa"/><rect x="131.3" y="256.9" width="2.84" height="5.32" fill="#5a6698"/><rect x="134.09" y="256.9" width="2.84" height="5.32" fill="#6c77a3"/><rect x="136.88" y="256.9" width="2.84" height="5.32" fill="#8991b4"/><rect x="139.67" y="256.9" width="2.84" height="5.32" fill="#7881aa"/><rect x="142.46" y="256.9" width="2.84" height="5.32" fill="#afb4cb"/><rect x="145.25" y="256.9" width="2.84" height="5.32" fill="#afb4cb"/><rect x="148.05" y="256.9" width="2.84" height="5.32" fill="#828ab0"/><rect x="150.84" y="256.9" width="2.84" height="5.32" fill="#8089af"/><rect x="153.63" y="256.9" width="2.84" height="5.32" fill="#e38f8d"/><rect x="156.42" y="256.9" width="2.84" height="5.32" fill="#f0cac9"/><rect x="159.21" y="256.9" width="2.84" height="5.32" fill="#f7ebeb"/><rect x="100.6" y="262.17" width="2.84" height="5.32" fill="#f7e8e8"/><rect x="103.39" y="262.17" width="2.84" height="5.32" fill="#b7bbd0"/><rect x="106.18" y="262.17" width="2.84" height="5.32" fill="#b4b8ce"/><rect x="108.97" y="262.17" width="2.84" height="5.32" fill="#efeef1"/><rect x="111.76" y="262.17" width="2.84" height="5.32" fill="#99a0be"/><rect x="114.55" y="262.17" width="2.84" height="5.32" fill="#a1a7c3"/><rect x="117.35" y="262.17" width="2.84" height="5.32" fill="#dddde6"/><rect x="120.14" y="262.17" width="2.84" height="5.32" fill="#a3a8c4"/><rect x="122.93" y="262.17" width="2.84" height="5.32" fill="#eec0bf"/><rect x="125.72" y="262.17" width="2.84" height="5.32" fill="#e8e8ed"/><rect x="128.51" y="262.17" width="2.84" height="5.32" fill="#edbab9"/><rect x="131.3" y="262.17" width="2.84" height="5.32" fill="#f4f2f4"/><rect x="134.09" y="262.17" width="2.84" height="5.32" fill="#f1f0f3"/><rect x="136.88" y="262.17" width="2.84" height="5.32" fill="#dcdde6"/><rect x="139.67" y="262.17" width="2.84" height="5.32" fill="#e9e8ee"/><rect x="142.46" y="262.17" width="2.84" height="5.32" fill="#f5f3f5"/><rect x="145.25" y="262.17" width="2.84" height="5.32" fill="#f8efee"/><rect x="148.05" y="262.17" width="2.84" height="5.32" fill="#f3d6d6"/><rect x="150.84" y="262.17" width="2.84" height="5.32" fill="#dddee7"/><rect x="153.63" y="262.17" width="2.84" height="5.32" fill="#c9cbdb"/><rect x="156.42" y="262.17" width="2.84" height="5.32" fill="#a5aac5"/><rect x="159.21" y="262.17" width="2.84" height="5.32" fill="#f4dede"/><rect x="100.6" y="267.44" width="2.84" height="5.32" fill="#b0b4cb"/><rect x="103.39" y="267.44" width="2.84" height="5.32" fill="#b1b6cc"/><rect x="106.18" y="267.44" width="2.84" height="5.32" fill="#b0b5cc"/><rect x="108.97" y="267.44" width="2.84" height="5.32" fill="#d1d3df"/><rect x="111.76" y="267.44" width="2.84" height="5.32" fill="#d0d2df"/><rect x="114.55" y="267.44" width="2.84" height="5.32" fill="#e1e1e9"/><rect x="117.35" y="267.44" width="2.84" height="5.32" fill="#c1c4d6"/><rect x="120.14" y="267.44" width="2.84" height="5.32" fill="#c3c6d7"/><rect x="122.93" y="267.44" width="2.84" height="5.32" fill="#d9dae4"/><rect x="125.72" y="267.44" width="2.84" height="5.32" fill="#a2a7c3"/><rect x="128.51" y="267.44" width="2.84" height="5.32" fill="#f9f5f5"/><rect x="131.3" y="267.44" width="2.84" height="5.32" fill="#c9ccdb"/><rect x="134.09" y="267.44" width="2.84" height="5.32" fill="#dbdce6"/><rect x="136.88" y="267.44" width="2.84" height="5.32" fill="#f6e3e3"/><rect x="139.67" y="267.44" width="2.84" height="5.32" fill="#faf6f6"/><rect x="142.46" y="267.44" width="2.84" height="5.32" fill="#f7e9e9"/><rect x="145.25" y="267.44" width="2.84" height="5.32" fill="#f1cecd"/><rect x="148.05" y="267.44" width="2.84" height="5.32" fill="#f0c9c8"/><rect x="150.84" y="267.44" width="2.84" height="5.32" fill="#f3d8d7"/><rect x="153.63" y="267.44" width="2.84" height="5.32" fill="#f5e0e0"/><rect x="156.42" y="267.44" width="2.84" height="5.32" fill="#e69b99"/><rect x="159.21" y="267.44" width="2.84" height="5.32" fill="#f9f4f4"/><rect x="100.6" y="272.71" width="2.84" height="5.32" fill="#48568d"/><rect x="103.39" y="272.71" width="2.84" height="5.32" fill="#6a74a1"/><rect x="106.18" y="272.71" width="2.84" height="5.32" fill="#44528b"/><rect x="108.97" y="272.71" width="2.84" height="5.32" fill="#47558c"/><rect x="111.76" y="272.71" width="2.84" height="5.32" fill="#8890b3"/><rect x="114.55" y="272.71" width="2.84" height="5.32" fill="#bdc0d3"/><rect x="117.35" y="272.71" width="2.84" height="5.32" fill="#47548c"/><rect x="120.14" y="272.71" width="2.84" height="5.32" fill="#babed2"/><rect x="122.93" y="272.71" width="2.84" height="5.32" fill="#9fa5c1"/><rect x="125.72" y="272.71" width="2.84" height="5.32" fill="#7c85ac"/><rect x="128.51" y="272.71" width="2.84" height="5.32" fill="#9097b8"/><rect x="131.3" y="272.71" width="2.84" height="5.32" fill="#757fa8"/><rect x="134.09" y="272.71" width="2.84" height="5.32" fill="#b5b9cf"/><rect x="136.88" y="272.71" width="2.84" height="5.32" fill="#f2f0f3"/><rect x="139.67" y="272.71" width="2.84" height="5.32" fill="#7780a9"/><rect x="142.46" y="272.71" width="2.84" height="5.32" fill="#f7ecec"/><rect x="145.25" y="272.71" width="2.84" height="5.32" fill="#d9dae4"/><rect x="148.05" y="272.71" width="2.84" height="5.32" fill="#d1d2df"/><rect x="150.84" y="272.71" width="2.84" height="5.32" fill="#cccedc"/><rect x="153.63" y="272.71" width="2.84" height="5.32" fill="#cbcddc"/><rect x="156.42" y="272.71" width="2.84" height="5.32" fill="#aaafc8"/><rect x="159.21" y="272.71" width="2.84" height="5.32" fill="#a7acc6"/><rect x="100.6" y="277.98" width="2.84" height="5.32" fill="#939aba"/><rect x="103.39" y="277.98" width="2.84" height="5.32" fill="#5f6b9b"/><rect x="106.18" y="277.98" width="2.84" height="5.32" fill="#717ba5"/><rect x="108.97" y="277.98" width="2.84" height="5.32" fill="#6974a1"/><rect x="111.76" y="277.98" width="2.84" height="5.32" fill="#c1c4d5"/><rect x="114.55" y="277.98" width="2.84" height="5.32" fill="#838bb0"/><rect x="117.35" y="277.98" width="2.84" height="5.32" fill="#959bbb"/><rect x="120.14" y="277.98" width="2.84" height="5.32" fill="#c5c8d8"/><rect x="122.93" y="277.98" width="2.84" height="5.32" fill="#9da3c0"/><rect x="125.72" y="277.98" width="2.84" height="5.32" fill="#5b6798"/><rect x="128.51" y="277.98" width="2.84" height="5.32" fill="#6d77a3"/><rect x="131.3" y="277.98" width="2.84" height="5.32" fill="#9ba1bf"/><rect x="134.09" y="277.98" width="2.84" height="5.32" fill="#d0d2df"/><rect x="136.88" y="277.98" width="2.84" height="5.32" fill="#c7c9d9"/><rect x="139.67" y="277.98" width="2.84" height="5.32" fill="#bdc1d3"/><rect x="142.46" y="277.98" width="2.84" height="5.32" fill="#c7c9d9"/><rect x="145.25" y="277.98" width="2.84" height="5.32" fill="#e6e5ec"/><rect x="148.05" y="277.98" width="2.84" height="5.32" fill="#dcdde6"/><rect x="150.84" y="277.98" width="2.84" height="5.32" fill="#c4c7d8"/><rect x="153.63" y="277.98" width="2.84" height="5.32" fill="#d1d2df"/><rect x="156.42" y="277.98" width="2.84" height="5.32" fill="#b2b6cd"/><rect x="159.21" y="277.98" width="2.84" height="5.32" fill="#e4e4eb"/><rect x="100.6" y="283.25" width="2.84" height="5.32" fill="#f1d0d0"/><rect x="103.39" y="283.25" width="2.84" height="5.32" fill="#f9f7f8"/><rect x="106.18" y="283.25" width="2.84" height="5.32" fill="#f2d2d1"/><rect x="108.97" y="283.25" width="2.84" height="5.32" fill="#f5e2e1"/><rect x="111.76" y="283.25" width="2.84" height="5.32" fill="#f6e5e4"/><rect x="114.55" y="283.25" width="2.84" height="5.32" fill="#f7ebeb"/><rect x="117.35" y="283.25" width="2.84" height="5.32" fill="#f0eff2"/><rect x="120.14" y="283.25" width="2.84" height="5.32" fill="#f9f2f2"/><rect x="122.93" y="283.25" width="2.84" height="5.32" fill="#edbab9"/><rect x="125.72" y="283.25" width="2.84" height="5.32" fill="#e7a09e"/><rect x="128.51" y="283.25" width="2.84" height="5.32" fill="#f3d8d8"/><rect x="131.3" y="283.25" width="2.84" height="5.32" fill="#f2d5d4"/><rect x="134.09" y="283.25" width="2.84" height="5.32" fill="#f1cfce"/><rect x="136.88" y="283.25" width="2.84" height="5.32" fill="#eec2c0"/><rect x="139.67" y="283.25" width="2.84" height="5.32" fill="#f0cccb"/><rect x="142.46" y="283.25" width="2.84" height="5.32" fill="#eebebd"/><rect x="145.25" y="283.25" width="2.84" height="5.32" fill="#f1cccb"/><rect x="148.05" y="283.25" width="2.84" height="5.32" fill="#f7f5f6"/><rect x="150.84" y="283.25" width="2.84" height="5.32" fill="#f3d7d7"/><rect x="153.63" y="283.25" width="2.84" height="5.32" fill="#efeef2"/><rect x="156.42" y="283.25" width="2.84" height="5.32" fill="#eec0bf"/><rect x="159.21" y="283.25" width="2.84" height="5.32" fill="#edbab9"/><rect x="100.6" y="288.52" width="2.84" height="5.32" fill="#afb4cb"/><rect x="103.39" y="288.52" width="2.84" height="5.32" fill="#949bbb"/><rect x="106.18" y="288.52" width="2.84" height="5.32" fill="#b7bbd0"/><rect x="108.97" y="288.52" width="2.84" height="5.32" fill="#c6c9d9"/><rect x="111.76" y="288.52" width="2.84" height="5.32" fill="#adb1c9"/><rect x="114.55" y="288.52" width="2.84" height="5.32" fill="#b6bacf"/><rect x="117.35" y="288.52" width="2.84" height="5.32" fill="#cfd0de"/><rect x="120.14" y="288.52" width="2.84" height="5.32" fill="#d6d7e2"/><rect x="122.93" y="288.52" width="2.84" height="5.32" fill="#c1c4d5"/><rect x="125.72" y="288.52" width="2.84" height="5.32" fill="#d6d7e2"/><rect x="128.51" y="288.52" width="2.84" height="5.32" fill="#989ebd"/><rect x="131.3" y="288.52" width="2.84" height="5.32" fill="#f3f2f4"/><rect x="134.09" y="288.52" width="2.84" height="5.32" fill="#f9f3f3"/><rect x="136.88" y="288.52" width="2.84" height="5.32" fill="#f9f5f5"/><rect x="139.67" y="288.52" width="2.84" height="5.32" fill="#e8e8ed"/><rect x="142.46" y="288.52" width="2.84" height="5.32" fill="#f3f1f4"/><rect x="145.25" y="288.52" width="2.84" height="5.32" fill="#f7ecec"/><rect x="148.05" y="288.52" width="2.84" height="5.32" fill="#f8f6f7"/><rect x="150.84" y="288.52" width="2.84" height="5.32" fill="#c9cbda"/><rect x="153.63" y="288.52" width="2.84" height="5.32" fill="#f7ecec"/><rect x="156.42" y="288.52" width="2.84" height="5.32" fill="#f4dbda"/><rect x="159.21" y="288.52" width="2.84" height="5.32" fill="#f7e9e9"/><rect x="100.6" y="293.79" width="2.84" height="5.32" fill="#bec1d4"/><rect x="103.39" y="293.79" width="2.84" height="5.32" fill="#d4d5e1"/><rect x="106.18" y="293.79" width="2.84" height="5.32" fill="#d0d1de"/><rect x="108.97" y="293.79" width="2.84" height="5.32" fill="#dddee7"/><rect x="111.76" y="293.79" width="2.84" height="5.32" fill="#edbcbb"/><rect x="114.55" y="293.79" width="2.84" height="5.32" fill="#ecb6b4"/><rect x="117.35" y="293.79" width="2.84" height="5.32" fill="#e69c9b"/><rect x="120.14" y="293.79" width="2.84" height="5.32" fill="#ecb7b5"/><rect x="122.93" y="293.79" width="2.84" height="5.32" fill="#f5e1e1"/><rect x="125.72" y="293.79" width="2.84" height="5.32" fill="#dfdfe7"/><rect x="128.51" y="293.79" width="2.84" height="5.32" fill="#a9aec7"/><rect x="131.3" y="293.79" width="2.84" height="5.32" fill="#eeedf1"/><rect x="134.09" y="293.79" width="2.84" height="5.32" fill="#f6e3e3"/><rect x="136.88" y="293.79" width="2.84" height="5.32" fill="#f0eef2"/><rect x="139.67" y="293.79" width="2.84" height="5.32" fill="#e7e6ec"/><rect x="142.46" y="293.79" width="2.84" height="5.32" fill="#f9f5f5"/><rect x="145.25" y="293.79" width="2.84" height="5.32" fill="#ebb4b3"/><rect x="148.05" y="293.79" width="2.84" height="5.32" fill="#f5dfdf"/><rect x="150.84" y="293.79" width="2.84" height="5.32" fill="#f0c8c7"/><rect x="153.63" y="293.79" width="2.84" height="5.32" fill="#e8a2a1"/><rect x="156.42" y="293.79" width="2.84" height="5.32" fill="#ebb5b3"/><rect x="159.21" y="293.79" width="2.84" height="5.32" fill="#e0807e"/><rect x="100.6" y="299.06" width="2.84" height="5.32" fill="#f6e8e7"/><rect x="103.39" y="299.06" width="2.84" height="5.32" fill="#efc6c5"/><rect x="106.18" y="299.06" width="2.84" height="5.32" fill="#f1cece"/><rect x="108.97" y="299.06" width="2.84" height="5.32" fill="#faf8f8"/><rect x="111.76" y="299.06" width="2.84" height="5.32" fill="#ecb9b8"/><rect x="114.55" y="299.06" width="2.84" height="5.32" fill="#f1cccb"/><rect x="117.35" y="299.06" width="2.84" height="5.32" fill="#f4dada"/><rect x="120.14" y="299.06" width="2.84" height="5.32" fill="#ebb2b0"/><rect x="122.93" y="299.06" width="2.84" height="5.32" fill="#f9f1f1"/><rect x="125.72" y="299.06" width="2.84" height="5.32" fill="#e8a6a4"/><rect x="128.51" y="299.06" width="2.84" height="5.32" fill="#f8f0f0"/><rect x="131.3" y="299.06" width="2.84" height="5.32" fill="#f9f4f4"/><rect x="134.09" y="299.06" width="2.84" height="5.32" fill="#f5e1e0"/><rect x="136.88" y="299.06" width="2.84" height="5.32" fill="#f9f3f3"/><rect x="139.67" y="299.06" width="2.84" height="5.32" fill="#f5e2e2"/><rect x="142.46" y="299.06" width="2.84" height="5.32" fill="#ecb9b8"/><rect x="145.25" y="299.06" width="2.84" height="5.32" fill="#f2d2d1"/><rect x="148.05" y="299.06" width="2.84" height="5.32" fill="#f8f0f0"/><rect x="150.84" y="299.06" width="2.84" height="5.32" fill="#f1cecd"/><rect x="153.63" y="299.06" width="2.84" height="5.32" fill="#e38c8a"/><rect x="156.42" y="299.06" width="2.84" height="5.32" fill="#eaadac"/><rect x="159.21" y="299.06" width="2.84" height="5.32" fill="#ecb6b5"/><rect x="100.6" y="304.33" width="2.84" height="5.32" fill="#47548c"/><rect x="103.39" y="304.33" width="2.84" height="5.32" fill="#515e92"/><rect x="106.18" y="304.33" width="2.84" height="5.32" fill="#5e6a9a"/><rect x="108.97" y="304.33" width="2.84" height="5.32" fill="#2c3c7c"/><rect x="111.76" y="304.33" width="2.84" height="5.32" fill="#66719f"/><rect x="114.55" y="304.33" width="2.84" height="5.32" fill="#636e9d"/><rect x="117.35" y="304.33" width="2.84" height="5.32" fill="#a5abc5"/><rect x="120.14" y="304.33" width="2.84" height="5.32" fill="#5e699a"/><rect x="122.93" y="304.33" width="2.84" height="5.32" fill="#b7bbd0"/><rect x="125.72" y="304.33" width="2.84" height="5.32" fill="#858db1"/><rect x="128.51" y="304.33" width="2.84" height="5.32" fill="#e7e7ed"/><rect x="131.3" y="304.33" width="2.84" height="5.32" fill="#babdd1"/><rect x="134.09" y="304.33" width="2.84" height="5.32" fill="#bdc1d3"/><rect x="136.88" y="304.33" width="2.84" height="5.32" fill="#e6e6ec"/><rect x="139.67" y="304.33" width="2.84" height="5.32" fill="#d7d8e3"/><rect x="142.46" y="304.33" width="2.84" height="5.32" fill="#c5c7d8"/><rect x="145.25" y="304.33" width="2.84" height="5.32" fill="#878fb3"/><rect x="148.05" y="304.33" width="2.84" height="5.32" fill="#cbcddc"/><rect x="150.84" y="304.33" width="2.84" height="5.32" fill="#dcdce6"/><rect x="153.63" y="304.33" width="2.84" height="5.32" fill="#b9bdd1"/><rect x="156.42" y="304.33" width="2.84" height="5.32" fill="#adb2ca"/><rect x="159.21" y="304.33" width="2.84" height="5.32" fill="#9aa1be"/><rect x="100.6" y="309.6" width="2.84" height="5.32" fill="#dcdce6"/><rect x="103.39" y="309.6" width="2.84" height="5.32" fill="#c5c8d8"/><rect x="106.18" y="309.6" width="2.84" height="5.32" fill="#bcc0d3"/><rect x="108.97" y="309.6" width="2.84" height="5.32" fill="#969dbc"/><rect x="111.76" y="309.6" width="2.84" height="5.32" fill="#c5c8d8"/><rect x="114.55" y="309.6" width="2.84" height="5.32" fill="#aeb3ca"/><rect x="117.35" y="309.6" width="2.84" height="5.32" fill="#9299ba"/><rect x="120.14" y="309.6" width="2.84" height="5.32" fill="#c1c4d5"/><rect x="122.93" y="309.6" width="2.84" height="5.32" fill="#a9aec7"/><rect x="125.72" y="309.6" width="2.84" height="5.32" fill="#e2e2e9"/><rect x="128.51" y="309.6" width="2.84" height="5.32" fill="#a8adc6"/><rect x="131.3" y="309.6" width="2.84" height="5.32" fill="#bfc2d4"/><rect x="134.09" y="309.6" width="2.84" height="5.32" fill="#8a92b5"/><rect x="136.88" y="309.6" width="2.84" height="5.32" fill="#b9bcd1"/><rect x="139.67" y="309.6" width="2.84" height="5.32" fill="#868eb2"/><rect x="142.46" y="309.6" width="2.84" height="5.32" fill="#e7e7ed"/><rect x="145.25" y="309.6" width="2.84" height="5.32" fill="#f9f4f4"/><rect x="148.05" y="309.6" width="2.84" height="5.32" fill="#bfc2d5"/><rect x="150.84" y="309.6" width="2.84" height="5.32" fill="#dedfe7"/><rect x="153.63" y="309.6" width="2.84" height="5.32" fill="#adb1c9"/><rect x="156.42" y="309.6" width="2.84" height="5.32" fill="#e1e1e9"/><rect x="159.21" y="309.6" width="2.84" height="5.32" fill="#b4b8ce"/><rect x="100.6" y="314.87" width="2.84" height="5.32" fill="#d0d1de"/><rect x="103.39" y="314.87" width="2.84" height="5.32" fill="#d5d6e2"/><rect x="106.18" y="314.87" width="2.84" height="5.32" fill="#f9f3f3"/><rect x="108.97" y="314.87" width="2.84" height="5.32" fill="#bbbed2"/><rect x="111.76" y="314.87" width="2.84" height="5.32" fill="#a7acc6"/><rect x="114.55" y="314.87" width="2.84" height="5.32" fill="#9da4c0"/><rect x="117.35" y="314.87" width="2.84" height="5.32" fill="#979dbc"/><rect x="120.14" y="314.87" width="2.84" height="5.32" fill="#8f97b8"/><rect x="122.93" y="314.87" width="2.84" height="5.32" fill="#cccedc"/><rect x="125.72" y="314.87" width="2.84" height="5.32" fill="#d7d8e3"/><rect x="128.51" y="314.87" width="2.84" height="5.32" fill="#a1a7c2"/><rect x="131.3" y="314.87" width="2.84" height="5.32" fill="#f8f1f1"/><rect x="134.09" y="314.87" width="2.84" height="5.32" fill="#d5d7e2"/><rect x="136.88" y="314.87" width="2.84" height="5.32" fill="#faf8f8"/><rect x="139.67" y="314.87" width="2.84" height="5.32" fill="#ebb2b1"/><rect x="142.46" y="314.87" width="2.84" height="5.32" fill="#f1f0f2"/><rect x="145.25" y="314.87" width="2.84" height="5.32" fill="#f6e6e5"/><rect x="148.05" y="314.87" width="2.84" height="5.32" fill="#f7ebeb"/><rect x="150.84" y="314.87" width="2.84" height="5.32" fill="#efc6c5"/><rect x="153.63" y="314.87" width="2.84" height="5.32" fill="#cccedd"/><rect x="156.42" y="314.87" width="2.84" height="5.32" fill="#a4a9c4"/><rect x="159.21" y="314.87" width="2.84" height="5.32" fill="#a9aec7"/><rect x="100.6" y="320.14" width="2.84" height="5.32" fill="#ebeaef"/><rect x="103.39" y="320.14" width="2.84" height="5.32" fill="#edecf0"/><rect x="106.18" y="320.14" width="2.84" height="5.32" fill="#f7ecec"/><rect x="108.97" y="320.14" width="2.84" height="5.32" fill="#d5d6e2"/><rect x="111.76" y="320.14" width="2.84" height="5.32" fill="#db6966"/><rect x="114.55" y="320.14" width="2.84" height="5.32" fill="#e79e9c"/><rect x="117.35" y="320.14" width="2.84" height="5.32" fill="#d75653"/><rect x="120.14" y="320.14" width="2.84" height="5.32" fill="#e0807d"/><rect x="122.93" y="320.14" width="2.84" height="5.32" fill="#bcbfd3"/><rect x="125.72" y="320.14" width="2.84" height="5.32" fill="#d6d7e3"/><rect x="128.51" y="320.14" width="2.84" height="5.32" fill="#f7ebeb"/><rect x="131.3" y="320.14" width="2.84" height="5.32" fill="#e0e0e8"/><rect x="134.09" y="320.14" width="2.84" height="5.32" fill="#d4d5e1"/><rect x="136.88" y="320.14" width="2.84" height="5.32" fill="#dbdbe5"/><rect x="139.67" y="320.14" width="2.84" height="5.32" fill="#d6d7e3"/><rect x="142.46" y="320.14" width="2.84" height="5.32" fill="#de7572"/><rect x="145.25" y="320.14" width="2.84" height="5.32" fill="#db6966"/><rect x="148.05" y="320.14" width="2.84" height="5.32" fill="#de7876"/><rect x="150.84" y="320.14" width="2.84" height="5.32" fill="#dc6d6b"/><rect x="153.63" y="320.14" width="2.84" height="5.32" fill="#ebeaef"/><rect x="156.42" y="320.14" width="2.84" height="5.32" fill="#bec1d4"/><rect x="159.21" y="320.14" width="2.84" height="5.32" fill="#a0a6c2"/><rect x="100.6" y="325.41" width="2.84" height="5.32" fill="#616c9c"/><rect x="103.39" y="325.41" width="2.84" height="5.32" fill="#afb4cb"/><rect x="106.18" y="325.41" width="2.84" height="5.32" fill="#939aba"/><rect x="108.97" y="325.41" width="2.84" height="5.32" fill="#a0a6c2"/><rect x="111.76" y="325.41" width="2.84" height="5.32" fill="#8b93b5"/><rect x="114.55" y="325.41" width="2.84" height="5.32" fill="#8d94b6"/><rect x="117.35" y="325.41" width="2.84" height="5.32" fill="#4e5b90"/><rect x="120.14" y="325.41" width="2.84" height="5.32" fill="#616c9c"/><rect x="122.93" y="325.41" width="2.84" height="5.32" fill="#bec2d4"/><rect x="125.72" y="325.41" width="2.84" height="5.32" fill="#b8bcd0"/><rect x="128.51" y="325.41" width="2.84" height="5.32" fill="#e0e0e8"/><rect x="131.3" y="325.41" width="2.84" height="5.32" fill="#838cb1"/><rect x="134.09" y="325.41" width="2.84" height="5.32" fill="#536094"/><rect x="136.88" y="325.41" width="2.84" height="5.32" fill="#b7bbd0"/><rect x="139.67" y="325.41" width="2.84" height="5.32" fill="#606c9c"/><rect x="142.46" y="325.41" width="2.84" height="5.32" fill="#8a91b4"/><rect x="145.25" y="325.41" width="2.84" height="5.32" fill="#b4b8ce"/><rect x="148.05" y="325.41" width="2.84" height="5.32" fill="#878fb3"/><rect x="150.84" y="325.41" width="2.84" height="5.32" fill="#f4f3f5"/><rect x="153.63" y="325.41" width="2.84" height="5.32" fill="#b9bdd1"/><rect x="156.42" y="325.41" width="2.84" height="5.32" fill="#c2c5d7"/><rect x="159.21" y="325.41" width="2.84" height="5.32" fill="#a4aac4"/><rect x="100.6" y="330.68" width="2.84" height="5.32" fill="#f4dddc"/><rect x="103.39" y="330.68" width="2.84" height="5.32" fill="#e1e2e9"/><rect x="106.18" y="330.68" width="2.84" height="5.32" fill="#bbbed2"/><rect x="108.97" y="330.68" width="2.84" height="5.32" fill="#f8f6f7"/><rect x="111.76" y="330.68" width="2.84" height="5.32" fill="#364582"/><rect x="114.55" y="330.68" width="2.84" height="5.32" fill="#586496"/><rect x="117.35" y="330.68" width="2.84" height="5.32" fill="#737da7"/><rect x="120.14" y="330.68" width="2.84" height="5.32" fill="#6e78a4"/><rect x="122.93" y="330.68" width="2.84" height="5.32" fill="#f8edec"/><rect x="125.72" y="330.68" width="2.84" height="5.32" fill="#e79f9d"/><rect x="128.51" y="330.68" width="2.84" height="5.32" fill="#e7a2a0"/><rect x="131.3" y="330.68" width="2.84" height="5.32" fill="#f1cdcc"/><rect x="134.09" y="330.68" width="2.84" height="5.32" fill="#e8a5a4"/><rect x="136.88" y="330.68" width="2.84" height="5.32" fill="#efc4c3"/><rect x="139.67" y="330.68" width="2.84" height="5.32" fill="#edbebd"/><rect x="142.46" y="330.68" width="2.84" height="5.32" fill="#efc5c4"/><rect x="145.25" y="330.68" width="2.84" height="5.32" fill="#f5e0df"/><rect x="148.05" y="330.68" width="2.84" height="5.32" fill="#f6e7e7"/><rect x="150.84" y="330.68" width="2.84" height="5.32" fill="#f5e0e0"/><rect x="153.63" y="330.68" width="2.84" height="5.32" fill="#ecb6b5"/><rect x="156.42" y="330.68" width="2.84" height="5.32" fill="#dc6d6a"/><rect x="159.21" y="330.68" width="2.84" height="5.32" fill="#e9a9a7"/><rect x="100.6" y="335.95" width="2.84" height="5.32" fill="#f9f7f8"/><rect x="103.39" y="335.95" width="2.84" height="5.32" fill="#c3c5d7"/><rect x="106.18" y="335.95" width="2.84" height="5.32" fill="#c3c6d7"/><rect x="108.97" y="335.95" width="2.84" height="5.32" fill="#f9f3f3"/><rect x="111.76" y="335.95" width="2.84" height="5.32" fill="#f4dedd"/><rect x="114.55" y="335.95" width="2.84" height="5.32" fill="#faf7f7"/><rect x="117.35" y="335.95" width="2.84" height="5.32" fill="#f9f4f4"/><rect x="120.14" y="335.95" width="2.84" height="5.32" fill="#f2d1d0"/><rect x="122.93" y="335.95" width="2.84" height="5.32" fill="#e7a09e"/><rect x="125.72" y="335.95" width="2.84" height="5.32" fill="#efc7c6"/><rect x="128.51" y="335.95" width="2.84" height="5.32" fill="#f6e5e5"/><rect x="131.3" y="335.95" width="2.84" height="5.32" fill="#d7d8e3"/><rect x="134.09" y="335.95" width="2.84" height="5.32" fill="#e5e5eb"/><rect x="136.88" y="335.95" width="2.84" height="5.32" fill="#f6f5f6"/><rect x="139.67" y="335.95" width="2.84" height="5.32" fill="#f8f1f0"/><rect x="142.46" y="335.95" width="2.84" height="5.32" fill="#b2b7cd"/><rect x="145.25" y="335.95" width="2.84" height="5.32" fill="#eeedf1"/><rect x="148.05" y="335.95" width="2.84" height="5.32" fill="#a9aec7"/><rect x="150.84" y="335.95" width="2.84" height="5.32" fill="#b0b5cc"/><rect x="153.63" y="335.95" width="2.84" height="5.32" fill="#f5f3f5"/><rect x="156.42" y="335.95" width="2.84" height="5.32" fill="#f4f3f5"/><rect x="159.21" y="335.95" width="2.84" height="5.32" fill="#d9dae4"/><rect x="100.6" y="341.22" width="2.84" height="5.32" fill="#edbcbb"/><rect x="103.39" y="341.22" width="2.84" height="5.32" fill="#edecf0"/><rect x="106.18" y="341.22" width="2.84" height="5.32" fill="#e9a7a6"/><rect x="108.97" y="341.22" width="2.84" height="5.32" fill="#e59695"/><rect x="111.76" y="341.22" width="2.84" height="5.32" fill="#e49391"/><rect x="114.55" y="341.22" width="2.84" height="5.32" fill="#f0cccb"/><rect x="117.35" y="341.22" width="2.84" height="5.32" fill="#e49391"/><rect x="120.14" y="341.22" width="2.84" height="5.32" fill="#f1cecd"/><rect x="122.93" y="341.22" width="2.84" height="5.32" fill="#ebb1af"/><rect x="125.72" y="341.22" width="2.84" height="5.32" fill="#f5e0df"/><rect x="128.51" y="341.22" width="2.84" height="5.32" fill="#f2d3d3"/><rect x="131.3" y="341.22" width="2.84" height="5.32" fill="#f2d4d3"/><rect x="134.09" y="341.22" width="2.84" height="5.32" fill="#d9dae4"/><rect x="136.88" y="341.22" width="2.84" height="5.32" fill="#f7eaea"/><rect x="139.67" y="341.22" width="2.84" height="5.32" fill="#eaafae"/><rect x="142.46" y="341.22" width="2.84" height="5.32" fill="#c9cbda"/><rect x="145.25" y="341.22" width="2.84" height="5.32" fill="#efc3c2"/><rect x="148.05" y="341.22" width="2.84" height="5.32" fill="#ebb3b2"/><rect x="150.84" y="341.22" width="2.84" height="5.32" fill="#efc5c4"/><rect x="153.63" y="341.22" width="2.84" height="5.32" fill="#f0c9c8"/><rect x="156.42" y="341.22" width="2.84" height="5.32" fill="#e8a5a3"/><rect x="159.21" y="341.22" width="2.84" height="5.32" fill="#efc5c4"/><rect x="100.6" y="346.49" width="2.84" height="5.32" fill="#ecb7b6"/><rect x="103.39" y="346.49" width="2.84" height="5.32" fill="#e69a99"/><rect x="106.18" y="346.49" width="2.84" height="5.32" fill="#e28784"/><rect x="108.97" y="346.49" width="2.84" height="5.32" fill="#df7977"/><rect x="111.76" y="346.49" width="2.84" height="5.32" fill="#e38b89"/><rect x="114.55" y="346.49" width="2.84" height="5.32" fill="#e0817e"/><rect x="117.35" y="346.49" width="2.84" height="5.32" fill="#d54b47"/><rect x="120.14" y="346.49" width="2.84" height="5.32" fill="#f3d7d7"/><rect x="122.93" y="346.49" width="2.84" height="5.32" fill="#eaacaa"/><rect x="125.72" y="346.49" width="2.84" height="5.32" fill="#ebb3b1"/><rect x="128.51" y="346.49" width="2.84" height="5.32" fill="#edbdbc"/><rect x="131.3" y="346.49" width="2.84" height="5.32" fill="#faf8f8"/><rect x="134.09" y="346.49" width="2.84" height="5.32" fill="#faf6f6"/><rect x="136.88" y="346.49" width="2.84" height="5.32" fill="#f8eded"/><rect x="139.67" y="346.49" width="2.84" height="5.32" fill="#f8f1f0"/><rect x="142.46" y="346.49" width="2.84" height="5.32" fill="#edbdbb"/><rect x="145.25" y="346.49" width="2.84" height="5.32" fill="#e38f8c"/><rect x="148.05" y="346.49" width="2.84" height="5.32" fill="#eec0bf"/><rect x="150.84" y="346.49" width="2.84" height="5.32" fill="#e9a8a6"/><rect x="153.63" y="346.49" width="2.84" height="5.32" fill="#e9a7a6"/><rect x="156.42" y="346.49" width="2.84" height="5.32" fill="#eebfbe"/><rect x="159.21" y="346.49" width="2.84" height="5.32" fill="#e28a88"/><rect x="100.6" y="351.76" width="2.84" height="5.32" fill="#e0807d"/><rect x="103.39" y="351.76" width="2.84" height="5.32" fill="#e7a1a0"/><rect x="106.18" y="351.76" width="2.84" height="5.32" fill="#e0807e"/><rect x="108.97" y="351.76" width="2.84" height="5.32" fill="#e9a8a6"/><rect x="111.76" y="351.76" width="2.84" height="5.32" fill="#e38f8d"/><rect x="114.55" y="351.76" width="2.84" height="5.32" fill="#e9abaa"/><rect x="117.35" y="351.76" width="2.84" height="5.32" fill="#e07e7c"/><rect x="120.14" y="351.76" width="2.84" height="5.32" fill="#f1cccb"/><rect x="122.93" y="351.76" width="2.84" height="5.32" fill="#e69b99"/><rect x="125.72" y="351.76" width="2.84" height="5.32" fill="#f1cecd"/><rect x="128.51" y="351.76" width="2.84" height="5.32" fill="#f0cbca"/><rect x="131.3" y="351.76" width="2.84" height="5.32" fill="#e59593"/><rect x="134.09" y="351.76" width="2.84" height="5.32" fill="#e18583"/><rect x="136.88" y="351.76" width="2.84" height="5.32" fill="#de7673"/><rect x="139.67" y="351.76" width="2.84" height="5.32" fill="#e69a98"/><rect x="142.46" y="351.76" width="2.84" height="5.32" fill="#eaaeac"/><rect x="145.25" y="351.76" width="2.84" height="5.32" fill="#ebb2b0"/><rect x="148.05" y="351.76" width="2.84" height="5.32" fill="#f7eaea"/><rect x="150.84" y="351.76" width="2.84" height="5.32" fill="#f2d5d4"/><rect x="153.63" y="351.76" width="2.84" height="5.32" fill="#eec2c1"/><rect x="156.42" y="351.76" width="2.84" height="5.32" fill="#dd7270"/><rect x="159.21" y="351.76" width="2.84" height="5.32" fill="#ecb7b6"/><rect x="100.6" y="357.03" width="2.84" height="5.32" fill="#8f97b8"/><rect x="103.39" y="357.03" width="2.84" height="5.32" fill="#9098b8"/><rect x="106.18" y="357.03" width="2.84" height="5.32" fill="#6c77a3"/><rect x="108.97" y="357.03" width="2.84" height="5.32" fill="#65709e"/><rect x="111.76" y="357.03" width="2.84" height="5.32" fill="#c7c9d9"/><rect x="114.55" y="357.03" width="2.84" height="5.32" fill="#a4aac4"/><rect x="117.35" y="357.03" width="2.84" height="5.32" fill="#959cbb"/><rect x="120.14" y="357.03" width="2.84" height="5.32" fill="#9ea4c1"/><rect x="122.93" y="357.03" width="2.84" height="5.32" fill="#dd7371"/><rect x="125.72" y="357.03" width="2.84" height="5.32" fill="#de7875"/><rect x="128.51" y="357.03" width="2.84" height="5.32" fill="#d44844"/><rect x="131.3" y="357.03" width="2.84" height="5.32" fill="#a3a8c4"/><rect x="134.09" y="357.03" width="2.84" height="5.32" fill="#ebeaef"/><rect x="136.88" y="357.03" width="2.84" height="5.32" fill="#b8bbd0"/><rect x="139.67" y="357.03" width="2.84" height="5.32" fill="#f9f3f3"/><rect x="142.46" y="357.03" width="2.84" height="5.32" fill="#dd7370"/><rect x="145.25" y="357.03" width="2.84" height="5.32" fill="#e18482"/><rect x="148.05" y="357.03" width="2.84" height="5.32" fill="#d85b58"/><rect x="150.84" y="357.03" width="2.84" height="5.32" fill="#e49391"/><rect x="153.63" y="357.03" width="2.84" height="5.32" fill="#838bb0"/><rect x="156.42" y="357.03" width="2.84" height="5.32" fill="#737ca7"/><rect x="159.21" y="357.03" width="2.84" height="5.32" fill="#7f88ae"/><rect x="100.6" y="362.3" width="2.84" height="5.32" fill="#e8a3a1"/><rect x="103.39" y="362.3" width="2.84" height="5.32" fill="#e49290"/><rect x="106.18" y="362.3" width="2.84" height="5.32" fill="#e07f7d"/><rect x="108.97" y="362.3" width="2.84" height="5.32" fill="#eaafad"/><rect x="111.76" y="362.3" width="2.84" height="5.32" fill="#cfd1de"/><rect x="114.55" y="362.3" width="2.84" height="5.32" fill="#dbdce5"/><rect x="117.35" y="362.3" width="2.84" height="5.32" fill="#d8d9e4"/><rect x="120.14" y="362.3" width="2.84" height="5.32" fill="#d7d8e3"/><rect x="122.93" y="362.3" width="2.84" height="5.32" fill="#f4dbdb"/><rect x="125.72" y="362.3" width="2.84" height="5.32" fill="#f7eae9"/><rect x="128.51" y="362.3" width="2.84" height="5.32" fill="#f2d1d0"/><rect x="131.3" y="362.3" width="2.84" height="5.32" fill="#f2d5d4"/><rect x="134.09" y="362.3" width="2.84" height="5.32" fill="#f0cac9"/><rect x="136.88" y="362.3" width="2.84" height="5.32" fill="#f8efef"/><rect x="139.67" y="362.3" width="2.84" height="5.32" fill="#eec1bf"/><rect x="142.46" y="362.3" width="2.84" height="5.32" fill="#edbebd"/><rect x="145.25" y="362.3" width="2.84" height="5.32" fill="#edbcba"/><rect x="148.05" y="362.3" width="2.84" height="5.32" fill="#f5e0df"/><rect x="150.84" y="362.3" width="2.84" height="5.32" fill="#f9f2f2"/><rect x="153.63" y="362.3" width="2.84" height="5.32" fill="#f1cecd"/><rect x="156.42" y="362.3" width="2.84" height="5.32" fill="#f0cac9"/><rect x="159.21" y="362.3" width="2.84" height="5.32" fill="#edbab9"/><rect x="100.6" y="367.57" width="2.84" height="5.32" fill="#f1cece"/><rect x="103.39" y="367.57" width="2.84" height="5.32" fill="#f7f5f6"/><rect x="106.18" y="367.57" width="2.84" height="5.32" fill="#ebb1af"/><rect x="108.97" y="367.57" width="2.84" height="5.32" fill="#f9f4f4"/><rect x="111.76" y="367.57" width="2.84" height="5.32" fill="#f1d0cf"/><rect x="114.55" y="367.57" width="2.84" height="5.32" fill="#f2d1d0"/><rect x="117.35" y="367.57" width="2.84" height="5.32" fill="#e7a2a0"/><rect x="120.14" y="367.57" width="2.84" height="5.32" fill="#e18381"/><rect x="122.93" y="367.57" width="2.84" height="5.32" fill="#f6e4e4"/><rect x="125.72" y="367.57" width="2.84" height="5.32" fill="#f5e2e1"/><rect x="128.51" y="367.57" width="2.84" height="5.32" fill="#f6e5e5"/><rect x="131.3" y="367.57" width="2.84" height="5.32" fill="#f7eae9"/><rect x="134.09" y="367.57" width="2.84" height="5.32" fill="#f7e9e8"/><rect x="136.88" y="367.57" width="2.84" height="5.32" fill="#e59997"/><rect x="139.67" y="367.57" width="2.84" height="5.32" fill="#edecf0"/><rect x="142.46" y="367.57" width="2.84" height="5.32" fill="#f9f1f1"/><rect x="145.25" y="367.57" width="2.84" height="5.32" fill="#ecebf0"/><rect x="148.05" y="367.57" width="2.84" height="5.32" fill="#f5e3e3"/><rect x="150.84" y="367.57" width="2.84" height="5.32" fill="#f4f3f5"/><rect x="153.63" y="367.57" width="2.84" height="5.32" fill="#f2d2d1"/><rect x="156.42" y="367.57" width="2.84" height="5.32" fill="#eeedf0"/><rect x="159.21" y="367.57" width="2.84" height="5.32" fill="#e8a4a2"/><rect x="100.6" y="372.84" width="2.84" height="5.32" fill="#e38c8a"/><rect x="103.39" y="372.84" width="2.84" height="5.32" fill="#f0c8c7"/><rect x="106.18" y="372.84" width="2.84" height="5.32" fill="#df7d7a"/><rect x="108.97" y="372.84" width="2.84" height="5.32" fill="#e7a09f"/><rect x="111.76" y="372.84" width="2.84" height="5.32" fill="#e9aba9"/><rect x="114.55" y="372.84" width="2.84" height="5.32" fill="#df7a78"/><rect x="117.35" y="372.84" width="2.84" height="5.32" fill="#e59796"/><rect x="120.14" y="372.84" width="2.84" height="5.32" fill="#dd716f"/><rect x="122.93" y="372.84" width="2.84" height="5.32" fill="#f7eaea"/><rect x="125.72" y="372.84" width="2.84" height="5.32" fill="#eebebd"/><rect x="128.51" y="372.84" width="2.84" height="5.32" fill="#f2d5d4"/><rect x="131.3" y="372.84" width="2.84" height="5.32" fill="#f1cfce"/><rect x="134.09" y="372.84" width="2.84" height="5.32" fill="#f2d5d4"/><rect x="136.88" y="372.84" width="2.84" height="5.32" fill="#f6e4e4"/><rect x="139.67" y="372.84" width="2.84" height="5.32" fill="#f6e4e4"/><rect x="142.46" y="372.84" width="2.84" height="5.32" fill="#f3d6d5"/><rect x="145.25" y="372.84" width="2.84" height="5.32" fill="#f1cecd"/><rect x="148.05" y="372.84" width="2.84" height="5.32" fill="#f8f0f0"/><rect x="150.84" y="372.84" width="2.84" height="5.32" fill="#e7a09e"/><rect x="153.63" y="372.84" width="2.84" height="5.32" fill="#e8a6a5"/><rect x="156.42" y="372.84" width="2.84" height="5.32" fill="#f6f4f6"/><rect x="159.21" y="372.84" width="2.84" height="5.32" fill="#ecb9b7"/><rect x="100.6" y="378.11" width="2.84" height="5.32" fill="#f2d1d1"/><rect x="103.39" y="378.11" width="2.84" height="5.32" fill="#f0c8c7"/><rect x="106.18" y="378.11" width="2.84" height="5.32" fill="#f6e7e7"/><rect x="108.97" y="378.11" width="2.84" height="5.32" fill="#e69d9b"/><rect x="111.76" y="378.11" width="2.84" height="5.32" fill="#e1e1e9"/><rect x="114.55" y="378.11" width="2.84" height="5.32" fill="#f8f6f7"/><rect x="117.35" y="378.11" width="2.84" height="5.32" fill="#e4e4eb"/><rect x="120.14" y="378.11" width="2.84" height="5.32" fill="#edbebc"/><rect x="122.93" y="378.11" width="2.84" height="5.32" fill="#da625f"/><rect x="125.72" y="378.11" width="2.84" height="5.32" fill="#eab0ae"/><rect x="128.51" y="378.11" width="2.84" height="5.32" fill="#e59593"/><rect x="131.3" y="378.11" width="2.84" height="5.32" fill="#e69b9a"/><rect x="134.09" y="378.11" width="2.84" height="5.32" fill="#ebb3b2"/><rect x="136.88" y="378.11" width="2.84" height="5.32" fill="#ebb1b0"/><rect x="139.67" y="378.11" width="2.84" height="5.32" fill="#efc7c6"/><rect x="142.46" y="378.11" width="2.84" height="5.32" fill="#e59593"/><rect x="145.25" y="378.11" width="2.84" height="5.32" fill="#edbdbc"/><rect x="148.05" y="378.11" width="2.84" height="5.32" fill="#e18381"/><rect x="150.84" y="378.11" width="2.84" height="5.32" fill="#d75451"/><rect x="153.63" y="378.11" width="2.84" height="5.32" fill="#f8eded"/><rect x="156.42" y="378.11" width="2.84" height="5.32" fill="#ebb2b1"/><rect x="159.21" y="378.11" width="2.84" height="5.32" fill="#f3d8d8"/><rect x="100.6" y="383.38" width="2.84" height="5.32" fill="#e8a6a5"/><rect x="103.39" y="383.38" width="2.84" height="5.32" fill="#e69c9b"/><rect x="106.18" y="383.38" width="2.84" height="5.32" fill="#eaafad"/><rect x="108.97" y="383.38" width="2.84" height="5.32" fill="#e38f8c"/><rect x="111.76" y="383.38" width="2.84" height="5.32" fill="#e28785"/><rect x="114.55" y="383.38" width="2.84" height="5.32" fill="#e0807e"/><rect x="117.35" y="383.38" width="2.84" height="5.32" fill="#e8a5a3"/><rect x="120.14" y="383.38" width="2.84" height="5.32" fill="#eec0bf"/><rect x="122.93" y="383.38" width="2.84" height="5.32" fill="#edbdbc"/><rect x="125.72" y="383.38" width="2.84" height="5.32" fill="#e28886"/><rect x="128.51" y="383.38" width="2.84" height="5.32" fill="#ebb2b1"/><rect x="131.3" y="383.38" width="2.84" height="5.32" fill="#f2d1d0"/><rect x="134.09" y="383.38" width="2.84" height="5.32" fill="#e4e4eb"/><rect x="136.88" y="383.38" width="2.84" height="5.32" fill="#f4dcdc"/><rect x="139.67" y="383.38" width="2.84" height="5.32" fill="#eebfbe"/><rect x="142.46" y="383.38" width="2.84" height="5.32" fill="#faf6f6"/><rect x="145.25" y="383.38" width="2.84" height="5.32" fill="#ebb1af"/><rect x="148.05" y="383.38" width="2.84" height="5.32" fill="#f7eaea"/><rect x="150.84" y="383.38" width="2.84" height="5.32" fill="#f9f4f3"/><rect x="153.63" y="383.38" width="2.84" height="5.32" fill="#f7ebeb"/><rect x="156.42" y="383.38" width="2.84" height="5.32" fill="#f4dcdc"/><rect x="159.21" y="383.38" width="2.84" height="5.32" fill="#edbbba"/><rect x="166.9" y="204.2" width="2.84" height="5.32" fill="#f9f5f4"/><rect x="169.69" y="204.2" width="2.84" height="5.32" fill="#d8d9e4"/><rect x="172.47" y="204.2" width="2.84" height="5.32" fill="#f6e6e6"/><rect x="175.26" y="204.2" width="2.84" height="5.32" fill="#f2d4d3"/><rect x="178.04" y="204.2" width="2.84" height="5.32" fill="#e7a19f"/><rect x="180.83" y="204.2" width="2.84" height="5.32" fill="#f8f1f1"/><rect x="183.61" y="204.2" width="2.84" height="5.32" fill="#e8a3a1"/><rect x="186.4" y="204.2" width="2.84" height="5.32" fill="#edbbba"/><rect x="189.18" y="204.2" width="2.84" height="5.32" fill="#f0cccb"/><rect x="191.97" y="204.2" width="2.84" height="5.32" fill="#f8f1f0"/><rect x="194.75" y="204.2" width="2.84" height="5.32" fill="#f9f4f4"/><rect x="197.54" y="204.2" width="2.84" height="5.32" fill="#faf6f6"/><rect x="200.32" y="204.2" width="2.84" height="5.32" fill="#e9a9a7"/><rect x="203.11" y="204.2" width="2.84" height="5.32" fill="#eebebd"/><rect x="205.89" y="204.2" width="2.84" height="5.32" fill="#e8a5a3"/><rect x="208.68" y="204.2" width="2.84" height="5.32" fill="#e38e8c"/><rect x="211.46" y="204.2" width="2.84" height="5.32" fill="#df7d7b"/><rect x="214.25" y="204.2" width="2.84" height="5.32" fill="#e07f7d"/><rect x="217.04" y="204.2" width="2.84" height="5.32" fill="#d34440"/><rect x="219.82" y="204.2" width="2.84" height="5.32" fill="#f1f0f3"/><rect x="222.61" y="204.2" width="2.84" height="5.32" fill="#f6e7e6"/><rect x="225.39" y="204.2" width="2.84" height="5.32" fill="#f6e5e4"/><rect x="228.18" y="204.2" width="2.84" height="5.32" fill="#f6e5e4"/><rect x="230.96" y="204.2" width="2.84" height="5.32" fill="#f7e9e9"/><rect x="233.75" y="204.2" width="2.84" height="5.32" fill="#ebeaef"/><rect x="236.53" y="204.2" width="2.84" height="5.32" fill="#f0cbca"/><rect x="239.32" y="204.2" width="2.84" height="5.32" fill="#dbdce5"/><rect x="242.1" y="204.2" width="2.84" height="5.32" fill="#cdcfdd"/><rect x="244.89" y="204.2" width="2.84" height="5.32" fill="#b2b7cd"/><rect x="247.67" y="204.2" width="2.84" height="5.32" fill="#bbbed2"/><rect x="250.46" y="204.2" width="2.84" height="5.32" fill="#f7f6f6"/><rect x="253.24" y="204.2" width="2.84" height="5.32" fill="#f9f7f7"/><rect x="256.03" y="204.2" width="2.84" height="5.32" fill="#e0e0e8"/><rect x="258.81" y="204.2" width="2.84" height="5.32" fill="#f9f3f3"/><rect x="166.9" y="209.47" width="2.84" height="5.32" fill="#efc7c6"/><rect x="169.69" y="209.47" width="2.84" height="5.32" fill="#f7ebea"/><rect x="172.47" y="209.47" width="2.84" height="5.32" fill="#f4dada"/><rect x="175.26" y="209.47" width="2.84" height="5.32" fill="#f1cece"/><rect x="178.04" y="209.47" width="2.84" height="5.32" fill="#e07e7c"/><rect x="180.83" y="209.47" width="2.84" height="5.32" fill="#f0c8c7"/><rect x="183.61" y="209.47" width="2.84" height="5.32" fill="#eab0ae"/><rect x="186.4" y="209.47" width="2.84" height="5.32" fill="#e9aaa9"/><rect x="189.18" y="209.47" width="2.84" height="5.32" fill="#e0827f"/><rect x="191.97" y="209.47" width="2.84" height="5.32" fill="#e69a98"/><rect x="194.75" y="209.47" width="2.84" height="5.32" fill="#e18684"/><rect x="197.54" y="209.47" width="2.84" height="5.32" fill="#efc6c5"/><rect x="200.32" y="209.47" width="2.84" height="5.32" fill="#ecb8b7"/><rect x="203.11" y="209.47" width="2.84" height="5.32" fill="#f7ebeb"/><rect x="205.89" y="209.47" width="2.84" height="5.32" fill="#ebb2b1"/><rect x="208.68" y="209.47" width="2.84" height="5.32" fill="#db6a68"/><rect x="211.46" y="209.47" width="2.84" height="5.32" fill="#e79f9d"/><rect x="214.25" y="209.47" width="2.84" height="5.32" fill="#e8a4a2"/><rect x="217.04" y="209.47" width="2.84" height="5.32" fill="#e79e9d"/><rect x="219.82" y="209.47" width="2.84" height="5.32" fill="#dc6f6c"/><rect x="222.61" y="209.47" width="2.84" height="5.32" fill="#e69b99"/><rect x="225.39" y="209.47" width="2.84" height="5.32" fill="#e28886"/><rect x="228.18" y="209.47" width="2.84" height="5.32" fill="#de7876"/><rect x="230.96" y="209.47" width="2.84" height="5.32" fill="#da6461"/><rect x="233.75" y="209.47" width="2.84" height="5.32" fill="#e18381"/><rect x="236.53" y="209.47" width="2.84" height="5.32" fill="#dc6c6a"/><rect x="239.32" y="209.47" width="2.84" height="5.32" fill="#e07f7d"/><rect x="242.1" y="209.47" width="2.84" height="5.32" fill="#b3b7cd"/><rect x="244.89" y="209.47" width="2.84" height="5.32" fill="#c7cada"/><rect x="247.67" y="209.47" width="2.84" height="5.32" fill="#c3c5d7"/><rect x="250.46" y="209.47" width="2.84" height="5.32" fill="#f5f3f5"/><rect x="253.24" y="209.47" width="2.84" height="5.32" fill="#f8eeee"/><rect x="256.03" y="209.47" width="2.84" height="5.32" fill="#edecf0"/><rect x="258.81" y="209.47" width="2.84" height="5.32" fill="#d5d6e2"/><rect x="166.9" y="214.74" width="2.84" height="5.32" fill="#f5e0df"/><rect x="169.69" y="214.74" width="2.84" height="5.32" fill="#f4f2f4"/><rect x="172.47" y="214.74" width="2.84" height="5.32" fill="#f5dfde"/><rect x="175.26" y="214.74" width="2.84" height="5.32" fill="#e7a09e"/><rect x="178.04" y="214.74" width="2.84" height="5.32" fill="#e38e8c"/><rect x="180.83" y="214.74" width="2.84" height="5.32" fill="#e9aaa8"/><rect x="183.61" y="214.74" width="2.84" height="5.32" fill="#ecb8b7"/><rect x="186.4" y="214.74" width="2.84" height="5.32" fill="#ebb0af"/><rect x="189.18" y="214.74" width="2.84" height="5.32" fill="#e69a98"/><rect x="191.97" y="214.74" width="2.84" height="5.32" fill="#e8a7a5"/><rect x="194.75" y="214.74" width="2.84" height="5.32" fill="#e69998"/><rect x="197.54" y="214.74" width="2.84" height="5.32" fill="#edbebc"/><rect x="200.32" y="214.74" width="2.84" height="5.32" fill="#e69b99"/><rect x="203.11" y="214.74" width="2.84" height="5.32" fill="#e8a7a5"/><rect x="205.89" y="214.74" width="2.84" height="5.32" fill="#df7c79"/><rect x="208.68" y="214.74" width="2.84" height="5.32" fill="#eec2c0"/><rect x="211.46" y="214.74" width="2.84" height="5.32" fill="#e28a87"/><rect x="214.25" y="214.74" width="2.84" height="5.32" fill="#ebb3b2"/><rect x="217.04" y="214.74" width="2.84" height="5.32" fill="#eebfbe"/><rect x="219.82" y="214.74" width="2.84" height="5.32" fill="#dd7370"/><rect x="222.61" y="214.74" width="2.84" height="5.32" fill="#dd706d"/><rect x="225.39" y="214.74" width="2.84" height="5.32" fill="#df7a78"/><rect x="228.18" y="214.74" width="2.84" height="5.32" fill="#db6764"/><rect x="230.96" y="214.74" width="2.84" height="5.32" fill="#e38f8d"/><rect x="233.75" y="214.74" width="2.84" height="5.32" fill="#eab0af"/><rect x="236.53" y="214.74" width="2.84" height="5.32" fill="#db6966"/><rect x="239.32" y="214.74" width="2.84" height="5.32" fill="#e07e7c"/><rect x="242.1" y="214.74" width="2.84" height="5.32" fill="#f9f7f7"/><rect x="244.89" y="214.74" width="2.84" height="5.32" fill="#d2d4e0"/><rect x="247.67" y="214.74" width="2.84" height="5.32" fill="#8a92b4"/><rect x="250.46" y="214.74" width="2.84" height="5.32" fill="#ecebf0"/><rect x="253.24" y="214.74" width="2.84" height="5.32" fill="#b2b6cc"/><rect x="256.03" y="214.74" width="2.84" height="5.32" fill="#d7d8e3"/><rect x="258.81" y="214.74" width="2.84" height="5.32" fill="#f7e8e8"/><rect x="166.9" y="220.01" width="2.84" height="5.32" fill="#efc3c2"/><rect x="169.69" y="220.01" width="2.84" height="5.32" fill="#edecf0"/><rect x="172.47" y="220.01" width="2.84" height="5.32" fill="#f6e6e6"/><rect x="175.26" y="220.01" width="2.84" height="5.32" fill="#dedee7"/><rect x="178.04" y="220.01" width="2.84" height="5.32" fill="#ebb1af"/><rect x="180.83" y="220.01" width="2.84" height="5.32" fill="#ebb4b3"/><rect x="183.61" y="220.01" width="2.84" height="5.32" fill="#f6e3e3"/><rect x="186.4" y="220.01" width="2.84" height="5.32" fill="#ecb7b6"/><rect x="189.18" y="220.01" width="2.84" height="5.32" fill="#e79f9d"/><rect x="191.97" y="220.01" width="2.84" height="5.32" fill="#e8a3a1"/><rect x="194.75" y="220.01" width="2.84" height="5.32" fill="#f1cfce"/><rect x="197.54" y="220.01" width="2.84" height="5.32" fill="#f1d0cf"/><rect x="200.32" y="220.01" width="2.84" height="5.32" fill="#f0c8c7"/><rect x="203.11" y="220.01" width="2.84" height="5.32" fill="#f1cdcc"/><rect x="205.89" y="220.01" width="2.84" height="5.32" fill="#e69d9b"/><rect x="208.68" y="220.01" width="2.84" height="5.32" fill="#e8a5a4"/><rect x="211.46" y="220.01" width="2.84" height="5.32" fill="#e49492"/><rect x="214.25" y="220.01" width="2.84" height="5.32" fill="#ebb3b1"/><rect x="217.04" y="220.01" width="2.84" height="5.32" fill="#efc4c3"/><rect x="219.82" y="220.01" width="2.84" height="5.32" fill="#e9a8a7"/><rect x="222.61" y="220.01" width="2.84" height="5.32" fill="#d64f4c"/><rect x="225.39" y="220.01" width="2.84" height="5.32" fill="#df7976"/><rect x="228.18" y="220.01" width="2.84" height="5.32" fill="#e07e7c"/><rect x="230.96" y="220.01" width="2.84" height="5.32" fill="#ebb0af"/><rect x="233.75" y="220.01" width="2.84" height="5.32" fill="#ebb1b0"/><rect x="236.53" y="220.01" width="2.84" height="5.32" fill="#e07f7d"/><rect x="239.32" y="220.01" width="2.84" height="5.32" fill="#eaafad"/><rect x="242.1" y="220.01" width="2.84" height="5.32" fill="#b9bdd1"/><rect x="244.89" y="220.01" width="2.84" height="5.32" fill="#bbbed2"/><rect x="247.67" y="220.01" width="2.84" height="5.32" fill="#9ca2bf"/><rect x="250.46" y="220.01" width="2.84" height="5.32" fill="#7781a9"/><rect x="253.24" y="220.01" width="2.84" height="5.32" fill="#b4b8ce"/><rect x="256.03" y="220.01" width="2.84" height="5.32" fill="#d2d4e0"/><rect x="258.81" y="220.01" width="2.84" height="5.32" fill="#8f96b7"/><rect x="166.9" y="225.28" width="2.84" height="5.32" fill="#b5b9cf"/><rect x="169.69" y="225.28" width="2.84" height="5.32" fill="#faf6f6"/><rect x="172.47" y="225.28" width="2.84" height="5.32" fill="#e0e0e8"/><rect x="175.26" y="225.28" width="2.84" height="5.32" fill="#c8cbda"/><rect x="178.04" y="225.28" width="2.84" height="5.32" fill="#eebfbe"/><rect x="180.83" y="225.28" width="2.84" height="5.32" fill="#f7ecec"/><rect x="183.61" y="225.28" width="2.84" height="5.32" fill="#f3d6d5"/><rect x="186.4" y="225.28" width="2.84" height="5.32" fill="#f8f0f0"/><rect x="189.18" y="225.28" width="2.84" height="5.32" fill="#f6e5e5"/><rect x="191.97" y="225.28" width="2.84" height="5.32" fill="#f0c9c8"/><rect x="194.75" y="225.28" width="2.84" height="5.32" fill="#f7e8e8"/><rect x="197.54" y="225.28" width="2.84" height="5.32" fill="#edecf0"/><rect x="200.32" y="225.28" width="2.84" height="5.32" fill="#f7e9e9"/><rect x="203.11" y="225.28" width="2.84" height="5.32" fill="#ebb4b3"/><rect x="205.89" y="225.28" width="2.84" height="5.32" fill="#ecb8b7"/><rect x="208.68" y="225.28" width="2.84" height="5.32" fill="#e59896"/><rect x="211.46" y="225.28" width="2.84" height="5.32" fill="#ebb1b0"/><rect x="214.25" y="225.28" width="2.84" height="5.32" fill="#e79f9d"/><rect x="217.04" y="225.28" width="2.84" height="5.32" fill="#f0c7c7"/><rect x="219.82" y="225.28" width="2.84" height="5.32" fill="#f0c8c7"/><rect x="222.61" y="225.28" width="2.84" height="5.32" fill="#eaadab"/><rect x="225.39" y="225.28" width="2.84" height="5.32" fill="#f3d7d7"/><rect x="228.18" y="225.28" width="2.84" height="5.32" fill="#e8a5a3"/><rect x="230.96" y="225.28" width="2.84" height="5.32" fill="#ebb4b3"/><rect x="233.75" y="225.28" width="2.84" height="5.32" fill="#e79e9d"/><rect x="236.53" y="225.28" width="2.84" height="5.32" fill="#eec0bf"/><rect x="239.32" y="225.28" width="2.84" height="5.32" fill="#e9aaa9"/><rect x="242.1" y="225.28" width="2.84" height="5.32" fill="#bbbfd2"/><rect x="244.89" y="225.28" width="2.84" height="5.32" fill="#979ebc"/><rect x="247.67" y="225.28" width="2.84" height="5.32" fill="#8991b4"/><rect x="250.46" y="225.28" width="2.84" height="5.32" fill="#a6abc5"/><rect x="253.24" y="225.28" width="2.84" height="5.32" fill="#b8bcd0"/><rect x="256.03" y="225.28" width="2.84" height="5.32" fill="#989fbd"/><rect x="258.81" y="225.28" width="2.84" height="5.32" fill="#7a83ab"/><rect x="166.9" y="230.55" width="2.84" height="5.32" fill="#cccedc"/><rect x="169.69" y="230.55" width="2.84" height="5.32" fill="#d1d3e0"/><rect x="172.47" y="230.55" width="2.84" height="5.32" fill="#f3d8d7"/><rect x="175.26" y="230.55" width="2.84" height="5.32" fill="#f7f6f6"/><rect x="178.04" y="230.55" width="2.84" height="5.32" fill="#f4f3f4"/><rect x="180.83" y="230.55" width="2.84" height="5.32" fill="#f7ecec"/><rect x="183.61" y="230.55" width="2.84" height="5.32" fill="#eeedf1"/><rect x="186.4" y="230.55" width="2.84" height="5.32" fill="#f4f3f4"/><rect x="189.18" y="230.55" width="2.84" height="5.32" fill="#f0c9c9"/><rect x="191.97" y="230.55" width="2.84" height="5.32" fill="#f7ebeb"/><rect x="194.75" y="230.55" width="2.84" height="5.32" fill="#e9a8a6"/><rect x="197.54" y="230.55" width="2.84" height="5.32" fill="#edbebd"/><rect x="200.32" y="230.55" width="2.84" height="5.32" fill="#ebb4b2"/><rect x="203.11" y="230.55" width="2.84" height="5.32" fill="#f6e5e5"/><rect x="205.89" y="230.55" width="2.84" height="5.32" fill="#f0c9c8"/><rect x="208.68" y="230.55" width="2.84" height="5.32" fill="#e28986"/><rect x="211.46" y="230.55" width="2.84" height="5.32" fill="#f0c9c8"/><rect x="214.25" y="230.55" width="2.84" height="5.32" fill="#eaaeac"/><rect x="217.04" y="230.55" width="2.84" height="5.32" fill="#e28987"/><rect x="219.82" y="230.55" width="2.84" height="5.32" fill="#e18582"/><rect x="222.61" y="230.55" width="2.84" height="5.32" fill="#df7a77"/><rect x="225.39" y="230.55" width="2.84" height="5.32" fill="#edbebc"/><rect x="228.18" y="230.55" width="2.84" height="5.32" fill="#db6663"/><rect x="230.96" y="230.55" width="2.84" height="5.32" fill="#e79f9d"/><rect x="233.75" y="230.55" width="2.84" height="5.32" fill="#dc6c69"/><rect x="236.53" y="230.55" width="2.84" height="5.32" fill="#e59593"/><rect x="239.32" y="230.55" width="2.84" height="5.32" fill="#e69d9b"/><rect x="242.1" y="230.55" width="2.84" height="5.32" fill="#d4d5e1"/><rect x="244.89" y="230.55" width="2.84" height="5.32" fill="#c0c3d5"/><rect x="247.67" y="230.55" width="2.84" height="5.32" fill="#b7bbd0"/><rect x="250.46" y="230.55" width="2.84" height="5.32" fill="#f5f3f5"/><rect x="253.24" y="230.55" width="2.84" height="5.32" fill="#e4e4eb"/><rect x="256.03" y="230.55" width="2.84" height="5.32" fill="#caccdb"/><rect x="258.81" y="230.55" width="2.84" height="5.32" fill="#dfdfe8"/><rect x="166.9" y="235.82" width="2.84" height="5.32" fill="#f2d5d4"/><rect x="169.69" y="235.82" width="2.84" height="5.32" fill="#f4dcdc"/><rect x="172.47" y="235.82" width="2.84" height="5.32" fill="#f7ecec"/><rect x="175.26" y="235.82" width="2.84" height="5.32" fill="#f7eceb"/><rect x="178.04" y="235.82" width="2.84" height="5.32" fill="#f1cdcc"/><rect x="180.83" y="235.82" width="2.84" height="5.32" fill="#f0c8c8"/><rect x="183.61" y="235.82" width="2.84" height="5.32" fill="#f1cfce"/><rect x="186.4" y="235.82" width="2.84" height="5.32" fill="#f7eaea"/><rect x="189.18" y="235.82" width="2.84" height="5.32" fill="#edbdbb"/><rect x="191.97" y="235.82" width="2.84" height="5.32" fill="#eaadac"/><rect x="194.75" y="235.82" width="2.84" height="5.32" fill="#f3d7d7"/><rect x="197.54" y="235.82" width="2.84" height="5.32" fill="#edbbba"/><rect x="200.32" y="235.82" width="2.84" height="5.32" fill="#e18583"/><rect x="203.11" y="235.82" width="2.84" height="5.32" fill="#e59795"/><rect x="205.89" y="235.82" width="2.84" height="5.32" fill="#e8a4a3"/><rect x="208.68" y="235.82" width="2.84" height="5.32" fill="#e69d9b"/><rect x="211.46" y="235.82" width="2.84" height="5.32" fill="#ebb4b3"/><rect x="214.25" y="235.82" width="2.84" height="5.32" fill="#e28987"/><rect x="217.04" y="235.82" width="2.84" height="5.32" fill="#ebb1b0"/><rect x="219.82" y="235.82" width="2.84" height="5.32" fill="#e8a5a4"/><rect x="222.61" y="235.82" width="2.84" height="5.32" fill="#e59795"/><rect x="225.39" y="235.82" width="2.84" height="5.32" fill="#db6a68"/><rect x="228.18" y="235.82" width="2.84" height="5.32" fill="#dc6d6a"/><rect x="230.96" y="235.82" width="2.84" height="5.32" fill="#e38c8a"/><rect x="233.75" y="235.82" width="2.84" height="5.32" fill="#e8a4a2"/><rect x="236.53" y="235.82" width="2.84" height="5.32" fill="#e18280"/><rect x="239.32" y="235.82" width="2.84" height="5.32" fill="#e59694"/><rect x="242.1" y="235.82" width="2.84" height="5.32" fill="#a8adc7"/><rect x="244.89" y="235.82" width="2.84" height="5.32" fill="#bdc0d3"/><rect x="247.67" y="235.82" width="2.84" height="5.32" fill="#a5aac5"/><rect x="250.46" y="235.82" width="2.84" height="5.32" fill="#c6c8d9"/><rect x="253.24" y="235.82" width="2.84" height="5.32" fill="#a6abc5"/><rect x="256.03" y="235.82" width="2.84" height="5.32" fill="#afb3cb"/><rect x="258.81" y="235.82" width="2.84" height="5.32" fill="#b5b9cf"/><rect x="166.9" y="241.09" width="2.84" height="5.32" fill="#f2f1f3"/><rect x="169.69" y="241.09" width="2.84" height="5.32" fill="#f6f5f6"/><rect x="172.47" y="241.09" width="2.84" height="5.32" fill="#e3e3ea"/><rect x="175.26" y="241.09" width="2.84" height="5.32" fill="#b0b5cc"/><rect x="178.04" y="241.09" width="2.84" height="5.32" fill="#edbab9"/><rect x="180.83" y="241.09" width="2.84" height="5.32" fill="#e79f9e"/><rect x="183.61" y="241.09" width="2.84" height="5.32" fill="#e8a3a1"/><rect x="186.4" y="241.09" width="2.84" height="5.32" fill="#f7eceb"/><rect x="189.18" y="241.09" width="2.84" height="5.32" fill="#ebb2b0"/><rect x="191.97" y="241.09" width="2.84" height="5.32" fill="#efc7c6"/><rect x="194.75" y="241.09" width="2.84" height="5.32" fill="#e69a98"/><rect x="197.54" y="241.09" width="2.84" height="5.32" fill="#e69d9c"/><rect x="200.32" y="241.09" width="2.84" height="5.32" fill="#e7a1a0"/><rect x="203.11" y="241.09" width="2.84" height="5.32" fill="#d6524f"/><rect x="205.89" y="241.09" width="2.84" height="5.32" fill="#e69a98"/><rect x="208.68" y="241.09" width="2.84" height="5.32" fill="#d44945"/><rect x="211.46" y="241.09" width="2.84" height="5.32" fill="#e7a19f"/><rect x="214.25" y="241.09" width="2.84" height="5.32" fill="#e79f9d"/><rect x="217.04" y="241.09" width="2.84" height="5.32" fill="#da6461"/><rect x="219.82" y="241.09" width="2.84" height="5.32" fill="#e38d8b"/><rect x="222.61" y="241.09" width="2.84" height="5.32" fill="#e28b89"/><rect x="225.39" y="241.09" width="2.84" height="5.32" fill="#d6514e"/><rect x="228.18" y="241.09" width="2.84" height="5.32" fill="#e07e7c"/><rect x="230.96" y="241.09" width="2.84" height="5.32" fill="#d6514d"/><rect x="233.75" y="241.09" width="2.84" height="5.32" fill="#e18381"/><rect x="236.53" y="241.09" width="2.84" height="5.32" fill="#ce2c28"/><rect x="239.32" y="241.09" width="2.84" height="5.32" fill="#d3423e"/><rect x="242.1" y="241.09" width="2.84" height="5.32" fill="#b2b7cd"/><rect x="244.89" y="241.09" width="2.84" height="5.32" fill="#bdc0d3"/><rect x="247.67" y="241.09" width="2.84" height="5.32" fill="#989fbd"/><rect x="250.46" y="241.09" width="2.84" height="5.32" fill="#9aa0be"/><rect x="253.24" y="241.09" width="2.84" height="5.32" fill="#7881aa"/><rect x="256.03" y="241.09" width="2.84" height="5.32" fill="#b3b7cd"/><rect x="258.81" y="241.09" width="2.84" height="5.32" fill="#cdcfdd"/><rect x="166.9" y="246.36" width="2.84" height="5.32" fill="#f0cac9"/><rect x="169.69" y="246.36" width="2.84" height="5.32" fill="#f0c8c7"/><rect x="172.47" y="246.36" width="2.84" height="5.32" fill="#f1cece"/><rect x="175.26" y="246.36" width="2.84" height="5.32" fill="#f3f1f4"/><rect x="178.04" y="246.36" width="2.84" height="5.32" fill="#b5b9cf"/><rect x="180.83" y="246.36" width="2.84" height="5.32" fill="#eeedf1"/><rect x="183.61" y="246.36" width="2.84" height="5.32" fill="#e0e1e9"/><rect x="186.4" y="246.36" width="2.84" height="5.32" fill="#f9f7f7"/><rect x="189.18" y="246.36" width="2.84" height="5.32" fill="#f3d7d6"/><rect x="191.97" y="246.36" width="2.84" height="5.32" fill="#f7eae9"/><rect x="194.75" y="246.36" width="2.84" height="5.32" fill="#eec2c1"/><rect x="197.54" y="246.36" width="2.84" height="5.32" fill="#f5e0df"/><rect x="200.32" y="246.36" width="2.84" height="5.32" fill="#f7eaea"/><rect x="203.11" y="246.36" width="2.84" height="5.32" fill="#f1cdcc"/><rect x="205.89" y="246.36" width="2.84" height="5.32" fill="#f2d4d3"/><rect x="208.68" y="246.36" width="2.84" height="5.32" fill="#f4dcdc"/><rect x="211.46" y="246.36" width="2.84" height="5.32" fill="#ecb6b5"/><rect x="214.25" y="246.36" width="2.84" height="5.32" fill="#e28a88"/><rect x="217.04" y="246.36" width="2.84" height="5.32" fill="#d9615e"/><rect x="219.82" y="246.36" width="2.84" height="5.32" fill="#d75451"/><rect x="222.61" y="246.36" width="2.84" height="5.32" fill="#e49391"/><rect x="225.39" y="246.36" width="2.84" height="5.32" fill="#da6663"/><rect x="228.18" y="246.36" width="2.84" height="5.32" fill="#e28987"/><rect x="230.96" y="246.36" width="2.84" height="5.32" fill="#db6765"/><rect x="233.75" y="246.36" width="2.84" height="5.32" fill="#e28784"/><rect x="236.53" y="246.36" width="2.84" height="5.32" fill="#de7673"/><rect x="239.32" y="246.36" width="2.84" height="5.32" fill="#e8a4a2"/><rect x="242.1" y="246.36" width="2.84" height="5.32" fill="#f7ebeb"/><rect x="244.89" y="246.36" width="2.84" height="5.32" fill="#bbbed2"/><rect x="247.67" y="246.36" width="2.84" height="5.32" fill="#e3e3ea"/><rect x="250.46" y="246.36" width="2.84" height="5.32" fill="#c0c3d5"/><rect x="253.24" y="246.36" width="2.84" height="5.32" fill="#d9dae4"/><rect x="256.03" y="246.36" width="2.84" height="5.32" fill="#afb3cb"/><rect x="258.81" y="246.36" width="2.84" height="5.32" fill="#c5c8d8"/><rect x="166.9" y="251.63" width="2.84" height="5.32" fill="#eebebd"/><rect x="169.69" y="251.63" width="2.84" height="5.32" fill="#f0c8c7"/><rect x="172.47" y="251.63" width="2.84" height="5.32" fill="#e0e0e8"/><rect x="175.26" y="251.63" width="2.84" height="5.32" fill="#eec0bf"/><rect x="178.04" y="251.63" width="2.84" height="5.32" fill="#f7ebea"/><rect x="180.83" y="251.63" width="2.84" height="5.32" fill="#edbcbb"/><rect x="183.61" y="251.63" width="2.84" height="5.32" fill="#ecb5b4"/><rect x="186.4" y="251.63" width="2.84" height="5.32" fill="#f3d8d8"/><rect x="189.18" y="251.63" width="2.84" height="5.32" fill="#f1cecd"/><rect x="191.97" y="251.63" width="2.84" height="5.32" fill="#f1cccc"/><rect x="194.75" y="251.63" width="2.84" height="5.32" fill="#ecb9b8"/><rect x="197.54" y="251.63" width="2.84" height="5.32" fill="#e9aaa8"/><rect x="200.32" y="251.63" width="2.84" height="5.32" fill="#e07e7c"/><rect x="203.11" y="251.63" width="2.84" height="5.32" fill="#e69d9b"/><rect x="205.89" y="251.63" width="2.84" height="5.32" fill="#dc6c69"/><rect x="208.68" y="251.63" width="2.84" height="5.32" fill="#efc3c2"/><rect x="211.46" y="251.63" width="2.84" height="5.32" fill="#e28784"/><rect x="214.25" y="251.63" width="2.84" height="5.32" fill="#eec3c2"/><rect x="217.04" y="251.63" width="2.84" height="5.32" fill="#e8a4a2"/><rect x="219.82" y="251.63" width="2.84" height="5.32" fill="#de7775"/><rect x="222.61" y="251.63" width="2.84" height="5.32" fill="#dd706e"/><rect x="225.39" y="251.63" width="2.84" height="5.32" fill="#e38f8d"/><rect x="228.18" y="251.63" width="2.84" height="5.32" fill="#db6865"/><rect x="230.96" y="251.63" width="2.84" height="5.32" fill="#ce2d29"/><rect x="233.75" y="251.63" width="2.84" height="5.32" fill="#da6461"/><rect x="236.53" y="251.63" width="2.84" height="5.32" fill="#db6a67"/><rect x="239.32" y="251.63" width="2.84" height="5.32" fill="#db6966"/><rect x="242.1" y="251.63" width="2.84" height="5.32" fill="#dcdde6"/><rect x="244.89" y="251.63" width="2.84" height="5.32" fill="#c1c4d6"/><rect x="247.67" y="251.63" width="2.84" height="5.32" fill="#c6c9d9"/><rect x="250.46" y="251.63" width="2.84" height="5.32" fill="#cdcfdd"/><rect x="253.24" y="251.63" width="2.84" height="5.32" fill="#eeedf1"/><rect x="256.03" y="251.63" width="2.84" height="5.32" fill="#e3e3ea"/><rect x="258.81" y="251.63" width="2.84" height="5.32" fill="#a7acc6"/><rect x="166.9" y="256.9" width="2.84" height="5.32" fill="#6c77a3"/><rect x="169.69" y="256.9" width="2.84" height="5.32" fill="#7f88ae"/><rect x="172.47" y="256.9" width="2.84" height="5.32" fill="#989ebd"/><rect x="175.26" y="256.9" width="2.84" height="5.32" fill="#9ca2bf"/><rect x="178.04" y="256.9" width="2.84" height="5.32" fill="#a2a8c3"/><rect x="180.83" y="256.9" width="2.84" height="5.32" fill="#e8e8ed"/><rect x="183.61" y="256.9" width="2.84" height="5.32" fill="#a3a9c4"/><rect x="186.4" y="256.9" width="2.84" height="5.32" fill="#d2d4e0"/><rect x="189.18" y="256.9" width="2.84" height="5.32" fill="#dcdde6"/><rect x="191.97" y="256.9" width="2.84" height="5.32" fill="#e2e2ea"/><rect x="194.75" y="256.9" width="2.84" height="5.32" fill="#b8bcd0"/><rect x="197.54" y="256.9" width="2.84" height="5.32" fill="#c3c6d7"/><rect x="200.32" y="256.9" width="2.84" height="5.32" fill="#9aa1be"/><rect x="203.11" y="256.9" width="2.84" height="5.32" fill="#9198b9"/><rect x="205.89" y="256.9" width="2.84" height="5.32" fill="#b5b9cf"/><rect x="208.68" y="256.9" width="2.84" height="5.32" fill="#dcdde6"/><rect x="211.46" y="256.9" width="2.84" height="5.32" fill="#f1eff2"/><rect x="214.25" y="256.9" width="2.84" height="5.32" fill="#ced0dd"/><rect x="217.04" y="256.9" width="2.84" height="5.32" fill="#f0eff2"/><rect x="219.82" y="256.9" width="2.84" height="5.32" fill="#edecf0"/><rect x="222.61" y="256.9" width="2.84" height="5.32" fill="#f7eaea"/><rect x="225.39" y="256.9" width="2.84" height="5.32" fill="#abb0c8"/><rect x="228.18" y="256.9" width="2.84" height="5.32" fill="#c3c6d7"/><rect x="230.96" y="256.9" width="2.84" height="5.32" fill="#aaafc8"/><rect x="233.75" y="256.9" width="2.84" height="5.32" fill="#a8adc7"/><rect x="236.53" y="256.9" width="2.84" height="5.32" fill="#f8f7f7"/><rect x="239.32" y="256.9" width="2.84" height="5.32" fill="#acb1c9"/><rect x="242.1" y="256.9" width="2.84" height="5.32" fill="#65709f"/><rect x="244.89" y="256.9" width="2.84" height="5.32" fill="#737da7"/><rect x="247.67" y="256.9" width="2.84" height="5.32" fill="#99a0be"/><rect x="250.46" y="256.9" width="2.84" height="5.32" fill="#717ba6"/><rect x="253.24" y="256.9" width="2.84" height="5.32" fill="#959cbb"/><rect x="256.03" y="256.9" width="2.84" height="5.32" fill="#8f96b8"/><rect x="258.81" y="256.9" width="2.84" height="5.32" fill="#6b76a2"/><rect x="166.9" y="262.17" width="2.84" height="5.32" fill="#d4d5e1"/><rect x="169.69" y="262.17" width="2.84" height="5.32" fill="#f9f5f5"/><rect x="172.47" y="262.17" width="2.84" height="5.32" fill="#f5f3f5"/><rect x="175.26" y="262.17" width="2.84" height="5.32" fill="#e9a8a7"/><rect x="178.04" y="262.17" width="2.84" height="5.32" fill="#f1cfce"/><rect x="180.83" y="262.17" width="2.84" height="5.32" fill="#f4dbda"/><rect x="183.61" y="262.17" width="2.84" height="5.32" fill="#eaafae"/><rect x="186.4" y="262.17" width="2.84" height="5.32" fill="#ecb9b8"/><rect x="189.18" y="262.17" width="2.84" height="5.32" fill="#ecb7b6"/><rect x="191.97" y="262.17" width="2.84" height="5.32" fill="#df7b79"/><rect x="194.75" y="262.17" width="2.84" height="5.32" fill="#e0817f"/><rect x="197.54" y="262.17" width="2.84" height="5.32" fill="#e49492"/><rect x="200.32" y="262.17" width="2.84" height="5.32" fill="#e9a8a6"/><rect x="203.11" y="262.17" width="2.84" height="5.32" fill="#eaacab"/><rect x="205.89" y="262.17" width="2.84" height="5.32" fill="#f1cdcc"/><rect x="208.68" y="262.17" width="2.84" height="5.32" fill="#e28784"/><rect x="211.46" y="262.17" width="2.84" height="5.32" fill="#df7c79"/><rect x="214.25" y="262.17" width="2.84" height="5.32" fill="#e8a3a2"/><rect x="217.04" y="262.17" width="2.84" height="5.32" fill="#e28784"/><rect x="219.82" y="262.17" width="2.84" height="5.32" fill="#ce2c28"/><rect x="222.61" y="262.17" width="2.84" height="5.32" fill="#e79e9c"/><rect x="225.39" y="262.17" width="2.84" height="5.32" fill="#ebb1af"/><rect x="228.18" y="262.17" width="2.84" height="5.32" fill="#dc6b69"/><rect x="230.96" y="262.17" width="2.84" height="5.32" fill="#e28a88"/><rect x="233.75" y="262.17" width="2.84" height="5.32" fill="#e38c89"/><rect x="236.53" y="262.17" width="2.84" height="5.32" fill="#dc6b68"/><rect x="239.32" y="262.17" width="2.84" height="5.32" fill="#e0817f"/><rect x="242.1" y="262.17" width="2.84" height="5.32" fill="#f9f7f8"/><rect x="244.89" y="262.17" width="2.84" height="5.32" fill="#ebeaef"/><rect x="247.67" y="262.17" width="2.84" height="5.32" fill="#f9f4f4"/><rect x="250.46" y="262.17" width="2.84" height="5.32" fill="#dfdfe8"/><rect x="253.24" y="262.17" width="2.84" height="5.32" fill="#9aa0be"/><rect x="256.03" y="262.17" width="2.84" height="5.32" fill="#f8efef"/><rect x="258.81" y="262.17" width="2.84" height="5.32" fill="#a8adc6"/><rect x="166.9" y="267.44" width="2.84" height="5.32" fill="#f1cfce"/><rect x="169.69" y="267.44" width="2.84" height="5.32" fill="#f6e6e6"/><rect x="172.47" y="267.44" width="2.84" height="5.32" fill="#dcdde6"/><rect x="175.26" y="267.44" width="2.84" height="5.32" fill="#f7ecec"/><rect x="178.04" y="267.44" width="2.84" height="5.32" fill="#f2d4d3"/><rect x="180.83" y="267.44" width="2.84" height="5.32" fill="#e5e5ec"/><rect x="183.61" y="267.44" width="2.84" height="5.32" fill="#f7ecec"/><rect x="186.4" y="267.44" width="2.84" height="5.32" fill="#eeedf1"/><rect x="189.18" y="267.44" width="2.84" height="5.32" fill="#f3d8d7"/><rect x="191.97" y="267.44" width="2.84" height="5.32" fill="#f1cdcc"/><rect x="194.75" y="267.44" width="2.84" height="5.32" fill="#e59593"/><rect x="197.54" y="267.44" width="2.84" height="5.32" fill="#e8a6a5"/><rect x="200.32" y="267.44" width="2.84" height="5.32" fill="#e8a7a5"/><rect x="203.11" y="267.44" width="2.84" height="5.32" fill="#e9a9a7"/><rect x="205.89" y="267.44" width="2.84" height="5.32" fill="#e8a2a1"/><rect x="208.68" y="267.44" width="2.84" height="5.32" fill="#e79e9c"/><rect x="211.46" y="267.44" width="2.84" height="5.32" fill="#e59695"/><rect x="214.25" y="267.44" width="2.84" height="5.32" fill="#f1d0cf"/><rect x="217.04" y="267.44" width="2.84" height="5.32" fill="#e0817f"/><rect x="219.82" y="267.44" width="2.84" height="5.32" fill="#e59795"/><rect x="222.61" y="267.44" width="2.84" height="5.32" fill="#f0c9c8"/><rect x="225.39" y="267.44" width="2.84" height="5.32" fill="#db6866"/><rect x="228.18" y="267.44" width="2.84" height="5.32" fill="#e7a09f"/><rect x="230.96" y="267.44" width="2.84" height="5.32" fill="#de7875"/><rect x="233.75" y="267.44" width="2.84" height="5.32" fill="#de7673"/><rect x="236.53" y="267.44" width="2.84" height="5.32" fill="#e18583"/><rect x="239.32" y="267.44" width="2.84" height="5.32" fill="#da6361"/><rect x="242.1" y="267.44" width="2.84" height="5.32" fill="#c9cbda"/><rect x="244.89" y="267.44" width="2.84" height="5.32" fill="#c9cbda"/><rect x="247.67" y="267.44" width="2.84" height="5.32" fill="#b4b8ce"/><rect x="250.46" y="267.44" width="2.84" height="5.32" fill="#c9cbda"/><rect x="253.24" y="267.44" width="2.84" height="5.32" fill="#b1b6cc"/><rect x="256.03" y="267.44" width="2.84" height="5.32" fill="#d2d4e0"/><rect x="258.81" y="267.44" width="2.84" height="5.32" fill="#f9f7f7"/><rect x="166.9" y="272.71" width="2.84" height="5.32" fill="#c6c8d8"/><rect x="169.69" y="272.71" width="2.84" height="5.32" fill="#b5b9ce"/><rect x="172.47" y="272.71" width="2.84" height="5.32" fill="#8089af"/><rect x="175.26" y="272.71" width="2.84" height="5.32" fill="#c7c9d9"/><rect x="178.04" y="272.71" width="2.84" height="5.32" fill="#f4dcdc"/><rect x="180.83" y="272.71" width="2.84" height="5.32" fill="#edbab9"/><rect x="183.61" y="272.71" width="2.84" height="5.32" fill="#b8bcd0"/><rect x="186.4" y="272.71" width="2.84" height="5.32" fill="#faf7f7"/><rect x="189.18" y="272.71" width="2.84" height="5.32" fill="#f3d9d8"/><rect x="191.97" y="272.71" width="2.84" height="5.32" fill="#eaafad"/><rect x="194.75" y="272.71" width="2.84" height="5.32" fill="#f8eeee"/><rect x="197.54" y="272.71" width="2.84" height="5.32" fill="#f4dbda"/><rect x="200.32" y="272.71" width="2.84" height="5.32" fill="#de7774"/><rect x="203.11" y="272.71" width="2.84" height="5.32" fill="#e69d9b"/><rect x="205.89" y="272.71" width="2.84" height="5.32" fill="#f9f4f4"/><rect x="208.68" y="272.71" width="2.84" height="5.32" fill="#edbab9"/><rect x="211.46" y="272.71" width="2.84" height="5.32" fill="#e28886"/><rect x="214.25" y="272.71" width="2.84" height="5.32" fill="#efc3c2"/><rect x="217.04" y="272.71" width="2.84" height="5.32" fill="#e79f9d"/><rect x="219.82" y="272.71" width="2.84" height="5.32" fill="#e38f8d"/><rect x="222.61" y="272.71" width="2.84" height="5.32" fill="#edbcbb"/><rect x="225.39" y="272.71" width="2.84" height="5.32" fill="#e8a5a3"/><rect x="228.18" y="272.71" width="2.84" height="5.32" fill="#dd716e"/><rect x="230.96" y="272.71" width="2.84" height="5.32" fill="#da6461"/><rect x="233.75" y="272.71" width="2.84" height="5.32" fill="#e69997"/><rect x="236.53" y="272.71" width="2.84" height="5.32" fill="#db6663"/><rect x="239.32" y="272.71" width="2.84" height="5.32" fill="#e69c9a"/><rect x="242.1" y="272.71" width="2.84" height="5.32" fill="#afb4cb"/><rect x="244.89" y="272.71" width="2.84" height="5.32" fill="#a7acc6"/><rect x="247.67" y="272.71" width="2.84" height="5.32" fill="#828ab0"/><rect x="250.46" y="272.71" width="2.84" height="5.32" fill="#b1b6cc"/><rect x="253.24" y="272.71" width="2.84" height="5.32" fill="#9ca2bf"/><rect x="256.03" y="272.71" width="2.84" height="5.32" fill="#576396"/><rect x="258.81" y="272.71" width="2.84" height="5.32" fill="#8e96b7"/><rect x="166.9" y="277.98" width="2.84" height="5.32" fill="#f4dddd"/><rect x="169.69" y="277.98" width="2.84" height="5.32" fill="#f4dede"/><rect x="172.47" y="277.98" width="2.84" height="5.32" fill="#f5e1e1"/><rect x="175.26" y="277.98" width="2.84" height="5.32" fill="#f3dad9"/><rect x="178.04" y="277.98" width="2.84" height="5.32" fill="#f0eff2"/><rect x="180.83" y="277.98" width="2.84" height="5.32" fill="#e7a09e"/><rect x="183.61" y="277.98" width="2.84" height="5.32" fill="#ecb8b7"/><rect x="186.4" y="277.98" width="2.84" height="5.32" fill="#ebb3b2"/><rect x="189.18" y="277.98" width="2.84" height="5.32" fill="#eaaeac"/><rect x="191.97" y="277.98" width="2.84" height="5.32" fill="#e8a4a3"/><rect x="194.75" y="277.98" width="2.84" height="5.32" fill="#eaaeac"/><rect x="197.54" y="277.98" width="2.84" height="5.32" fill="#efc7c6"/><rect x="200.32" y="277.98" width="2.84" height="5.32" fill="#f0c8c7"/><rect x="203.11" y="277.98" width="2.84" height="5.32" fill="#e69a98"/><rect x="205.89" y="277.98" width="2.84" height="5.32" fill="#e07e7c"/><rect x="208.68" y="277.98" width="2.84" height="5.32" fill="#e59593"/><rect x="211.46" y="277.98" width="2.84" height="5.32" fill="#da6360"/><rect x="214.25" y="277.98" width="2.84" height="5.32" fill="#edbbba"/><rect x="217.04" y="277.98" width="2.84" height="5.32" fill="#e69a98"/><rect x="219.82" y="277.98" width="2.84" height="5.32" fill="#e18684"/><rect x="222.61" y="277.98" width="2.84" height="5.32" fill="#d64f4c"/><rect x="225.39" y="277.98" width="2.84" height="5.32" fill="#d2403d"/><rect x="228.18" y="277.98" width="2.84" height="5.32" fill="#e18280"/><rect x="230.96" y="277.98" width="2.84" height="5.32" fill="#d65350"/><rect x="233.75" y="277.98" width="2.84" height="5.32" fill="#dd706d"/><rect x="236.53" y="277.98" width="2.84" height="5.32" fill="#e28785"/><rect x="239.32" y="277.98" width="2.84" height="5.32" fill="#dc6c69"/><rect x="242.1" y="277.98" width="2.84" height="5.32" fill="#bbbfd2"/><rect x="244.89" y="277.98" width="2.84" height="5.32" fill="#f7e9e9"/><rect x="247.67" y="277.98" width="2.84" height="5.32" fill="#edecf0"/><rect x="250.46" y="277.98" width="2.84" height="5.32" fill="#f9f4f4"/><rect x="253.24" y="277.98" width="2.84" height="5.32" fill="#e6e6ec"/><rect x="256.03" y="277.98" width="2.84" height="5.32" fill="#949bba"/><rect x="258.81" y="277.98" width="2.84" height="5.32" fill="#f3f2f4"/><rect x="166.9" y="283.25" width="2.84" height="5.32" fill="#f1cccc"/><rect x="169.69" y="283.25" width="2.84" height="5.32" fill="#dbdbe5"/><rect x="172.47" y="283.25" width="2.84" height="5.32" fill="#f1cccb"/><rect x="175.26" y="283.25" width="2.84" height="5.32" fill="#ebb1af"/><rect x="178.04" y="283.25" width="2.84" height="5.32" fill="#e49391"/><rect x="180.83" y="283.25" width="2.84" height="5.32" fill="#f6e4e3"/><rect x="183.61" y="283.25" width="2.84" height="5.32" fill="#eaaeac"/><rect x="186.4" y="283.25" width="2.84" height="5.32" fill="#edbbba"/><rect x="189.18" y="283.25" width="2.84" height="5.32" fill="#ecb5b4"/><rect x="191.97" y="283.25" width="2.84" height="5.32" fill="#ecb9b8"/><rect x="194.75" y="283.25" width="2.84" height="5.32" fill="#e7a19f"/><rect x="197.54" y="283.25" width="2.84" height="5.32" fill="#e79f9d"/><rect x="200.32" y="283.25" width="2.84" height="5.32" fill="#e28987"/><rect x="203.11" y="283.25" width="2.84" height="5.32" fill="#e9a8a7"/><rect x="205.89" y="283.25" width="2.84" height="5.32" fill="#eec3c2"/><rect x="208.68" y="283.25" width="2.84" height="5.32" fill="#de7572"/><rect x="211.46" y="283.25" width="2.84" height="5.32" fill="#dc6c69"/><rect x="214.25" y="283.25" width="2.84" height="5.32" fill="#e8a3a1"/><rect x="217.04" y="283.25" width="2.84" height="5.32" fill="#e49391"/><rect x="219.82" y="283.25" width="2.84" height="5.32" fill="#da6562"/><rect x="222.61" y="283.25" width="2.84" height="5.32" fill="#ebb1af"/><rect x="225.39" y="283.25" width="2.84" height="5.32" fill="#dc6f6c"/><rect x="228.18" y="283.25" width="2.84" height="5.32" fill="#d03733"/><rect x="230.96" y="283.25" width="2.84" height="5.32" fill="#dc6b68"/><rect x="233.75" y="283.25" width="2.84" height="5.32" fill="#e28886"/><rect x="236.53" y="283.25" width="2.84" height="5.32" fill="#d03632"/><rect x="239.32" y="283.25" width="2.84" height="5.32" fill="#dd7370"/><rect x="242.1" y="283.25" width="2.84" height="5.32" fill="#d7d8e3"/><rect x="244.89" y="283.25" width="2.84" height="5.32" fill="#c4c7d8"/><rect x="247.67" y="283.25" width="2.84" height="5.32" fill="#d6d7e3"/><rect x="250.46" y="283.25" width="2.84" height="5.32" fill="#9ca2bf"/><rect x="253.24" y="283.25" width="2.84" height="5.32" fill="#aaafc8"/><rect x="256.03" y="283.25" width="2.84" height="5.32" fill="#a5abc5"/><rect x="258.81" y="283.25" width="2.84" height="5.32" fill="#ecebf0"/><rect x="166.9" y="288.52" width="2.84" height="5.32" fill="#f6e6e6"/><rect x="169.69" y="288.52" width="2.84" height="5.32" fill="#eec1c0"/><rect x="172.47" y="288.52" width="2.84" height="5.32" fill="#d2d4e0"/><rect x="175.26" y="288.52" width="2.84" height="5.32" fill="#f9f6f6"/><rect x="178.04" y="288.52" width="2.84" height="5.32" fill="#eaafad"/><rect x="180.83" y="288.52" width="2.84" height="5.32" fill="#f9f1f1"/><rect x="183.61" y="288.52" width="2.84" height="5.32" fill="#e2e2e9"/><rect x="186.4" y="288.52" width="2.84" height="5.32" fill="#f8f0f0"/><rect x="189.18" y="288.52" width="2.84" height="5.32" fill="#f1cfce"/><rect x="191.97" y="288.52" width="2.84" height="5.32" fill="#efc5c4"/><rect x="194.75" y="288.52" width="2.84" height="5.32" fill="#e79f9d"/><rect x="197.54" y="288.52" width="2.84" height="5.32" fill="#e69d9b"/><rect x="200.32" y="288.52" width="2.84" height="5.32" fill="#e18381"/><rect x="203.11" y="288.52" width="2.84" height="5.32" fill="#e79f9d"/><rect x="205.89" y="288.52" width="2.84" height="5.32" fill="#eebfbe"/><rect x="208.68" y="288.52" width="2.84" height="5.32" fill="#eebfbe"/><rect x="211.46" y="288.52" width="2.84" height="5.32" fill="#f2d2d1"/><rect x="214.25" y="288.52" width="2.84" height="5.32" fill="#e0807e"/><rect x="217.04" y="288.52" width="2.84" height="5.32" fill="#e0827f"/><rect x="219.82" y="288.52" width="2.84" height="5.32" fill="#e69a98"/><rect x="222.61" y="288.52" width="2.84" height="5.32" fill="#ecb6b5"/><rect x="225.39" y="288.52" width="2.84" height="5.32" fill="#e28886"/><rect x="228.18" y="288.52" width="2.84" height="5.32" fill="#e38e8c"/><rect x="230.96" y="288.52" width="2.84" height="5.32" fill="#e7a2a0"/><rect x="233.75" y="288.52" width="2.84" height="5.32" fill="#f0c8c7"/><rect x="236.53" y="288.52" width="2.84" height="5.32" fill="#e79f9d"/><rect x="239.32" y="288.52" width="2.84" height="5.32" fill="#ecb7b6"/><rect x="242.1" y="288.52" width="2.84" height="5.32" fill="#dddde7"/><rect x="244.89" y="288.52" width="2.84" height="5.32" fill="#d8d9e4"/><rect x="247.67" y="288.52" width="2.84" height="5.32" fill="#d4d5e1"/><rect x="250.46" y="288.52" width="2.84" height="5.32" fill="#babed1"/><rect x="253.24" y="288.52" width="2.84" height="5.32" fill="#f5f3f5"/><rect x="256.03" y="288.52" width="2.84" height="5.32" fill="#dddee7"/><rect x="258.81" y="288.52" width="2.84" height="5.32" fill="#edecf0"/><rect x="166.9" y="293.79" width="2.84" height="5.32" fill="#eaacab"/><rect x="169.69" y="293.79" width="2.84" height="5.32" fill="#ebb1b0"/><rect x="172.47" y="293.79" width="2.84" height="5.32" fill="#edb9b8"/><rect x="175.26" y="293.79" width="2.84" height="5.32" fill="#f6e5e5"/><rect x="178.04" y="293.79" width="2.84" height="5.32" fill="#f4dcdb"/><rect x="180.83" y="293.79" width="2.84" height="5.32" fill="#eec3c1"/><rect x="183.61" y="293.79" width="2.84" height="5.32" fill="#e59492"/><rect x="186.4" y="293.79" width="2.84" height="5.32" fill="#e28b89"/><rect x="189.18" y="293.79" width="2.84" height="5.32" fill="#e18280"/><rect x="191.97" y="293.79" width="2.84" height="5.32" fill="#e18583"/><rect x="194.75" y="293.79" width="2.84" height="5.32" fill="#d6524f"/><rect x="197.54" y="293.79" width="2.84" height="5.32" fill="#e49492"/><rect x="200.32" y="293.79" width="2.84" height="5.32" fill="#efc6c5"/><rect x="203.11" y="293.79" width="2.84" height="5.32" fill="#eec1bf"/><rect x="205.89" y="293.79" width="2.84" height="5.32" fill="#e69b9a"/><rect x="208.68" y="293.79" width="2.84" height="5.32" fill="#df7d7b"/><rect x="211.46" y="293.79" width="2.84" height="5.32" fill="#db6865"/><rect x="214.25" y="293.79" width="2.84" height="5.32" fill="#e18482"/><rect x="217.04" y="293.79" width="2.84" height="5.32" fill="#da6663"/><rect x="219.82" y="293.79" width="2.84" height="5.32" fill="#dc6b68"/><rect x="222.61" y="293.79" width="2.84" height="5.32" fill="#e07e7c"/><rect x="225.39" y="293.79" width="2.84" height="5.32" fill="#de7572"/><rect x="228.18" y="293.79" width="2.84" height="5.32" fill="#d65350"/><rect x="230.96" y="293.79" width="2.84" height="5.32" fill="#d9615e"/><rect x="233.75" y="293.79" width="2.84" height="5.32" fill="#e79f9d"/><rect x="236.53" y="293.79" width="2.84" height="5.32" fill="#e69b99"/><rect x="239.32" y="293.79" width="2.84" height="5.32" fill="#df7a77"/><rect x="242.1" y="293.79" width="2.84" height="5.32" fill="#f5e1e1"/><rect x="244.89" y="293.79" width="2.84" height="5.32" fill="#aeb3ca"/><rect x="247.67" y="293.79" width="2.84" height="5.32" fill="#abb0c8"/><rect x="250.46" y="293.79" width="2.84" height="5.32" fill="#dddee7"/><rect x="253.24" y="293.79" width="2.84" height="5.32" fill="#e0e0e8"/><rect x="256.03" y="293.79" width="2.84" height="5.32" fill="#bfc2d4"/><rect x="258.81" y="293.79" width="2.84" height="5.32" fill="#d0d2df"/><rect x="166.9" y="299.06" width="2.84" height="5.32" fill="#eec1c0"/><rect x="169.69" y="299.06" width="2.84" height="5.32" fill="#eeedf1"/><rect x="172.47" y="299.06" width="2.84" height="5.32" fill="#f1d0cf"/><rect x="175.26" y="299.06" width="2.84" height="5.32" fill="#edbdbc"/><rect x="178.04" y="299.06" width="2.84" height="5.32" fill="#e9aaa8"/><rect x="180.83" y="299.06" width="2.84" height="5.32" fill="#e7a2a0"/><rect x="183.61" y="299.06" width="2.84" height="5.32" fill="#efc7c6"/><rect x="186.4" y="299.06" width="2.84" height="5.32" fill="#f8f0f0"/><rect x="189.18" y="299.06" width="2.84" height="5.32" fill="#e07f7d"/><rect x="191.97" y="299.06" width="2.84" height="5.32" fill="#e38f8d"/><rect x="194.75" y="299.06" width="2.84" height="5.32" fill="#ecb9b8"/><rect x="197.54" y="299.06" width="2.84" height="5.32" fill="#e28785"/><rect x="200.32" y="299.06" width="2.84" height="5.32" fill="#dd7471"/><rect x="203.11" y="299.06" width="2.84" height="5.32" fill="#e59694"/><rect x="205.89" y="299.06" width="2.84" height="5.32" fill="#f3d7d7"/><rect x="208.68" y="299.06" width="2.84" height="5.32" fill="#e7a09e"/><rect x="211.46" y="299.06" width="2.84" height="5.32" fill="#e79e9c"/><rect x="214.25" y="299.06" width="2.84" height="5.32" fill="#e7a19f"/><rect x="217.04" y="299.06" width="2.84" height="5.32" fill="#e28a88"/><rect x="219.82" y="299.06" width="2.84" height="5.32" fill="#e9a8a7"/><rect x="222.61" y="299.06" width="2.84" height="5.32" fill="#df7c7a"/><rect x="225.39" y="299.06" width="2.84" height="5.32" fill="#d64f4c"/><rect x="228.18" y="299.06" width="2.84" height="5.32" fill="#e9aba9"/><rect x="230.96" y="299.06" width="2.84" height="5.32" fill="#dd7370"/><rect x="233.75" y="299.06" width="2.84" height="5.32" fill="#e7a2a0"/><rect x="236.53" y="299.06" width="2.84" height="5.32" fill="#e0827f"/><rect x="239.32" y="299.06" width="2.84" height="5.32" fill="#e59694"/><rect x="242.1" y="299.06" width="2.84" height="5.32" fill="#f6e6e6"/><rect x="244.89" y="299.06" width="2.84" height="5.32" fill="#d0d2df"/><rect x="247.67" y="299.06" width="2.84" height="5.32" fill="#faf6f6"/><rect x="250.46" y="299.06" width="2.84" height="5.32" fill="#ced0de"/><rect x="253.24" y="299.06" width="2.84" height="5.32" fill="#ececf0"/><rect x="256.03" y="299.06" width="2.84" height="5.32" fill="#e5e5eb"/><rect x="258.81" y="299.06" width="2.84" height="5.32" fill="#f7ecec"/><rect x="166.9" y="304.33" width="2.84" height="5.32" fill="#d6d7e2"/><rect x="169.69" y="304.33" width="2.84" height="5.32" fill="#dbdce6"/><rect x="172.47" y="304.33" width="2.84" height="5.32" fill="#efc5c4"/><rect x="175.26" y="304.33" width="2.84" height="5.32" fill="#f5e2e2"/><rect x="178.04" y="304.33" width="2.84" height="5.32" fill="#efc6c5"/><rect x="180.83" y="304.33" width="2.84" height="5.32" fill="#dbdce5"/><rect x="183.61" y="304.33" width="2.84" height="5.32" fill="#f9f2f2"/><rect x="186.4" y="304.33" width="2.84" height="5.32" fill="#f6e6e6"/><rect x="189.18" y="304.33" width="2.84" height="5.32" fill="#e8a6a4"/><rect x="191.97" y="304.33" width="2.84" height="5.32" fill="#f4dbda"/><rect x="194.75" y="304.33" width="2.84" height="5.32" fill="#f6e7e6"/><rect x="197.54" y="304.33" width="2.84" height="5.32" fill="#efc4c3"/><rect x="200.32" y="304.33" width="2.84" height="5.32" fill="#f6e7e6"/><rect x="203.11" y="304.33" width="2.84" height="5.32" fill="#f8f6f7"/><rect x="205.89" y="304.33" width="2.84" height="5.32" fill="#f1cdcc"/><rect x="208.68" y="304.33" width="2.84" height="5.32" fill="#d5d6e2"/><rect x="211.46" y="304.33" width="2.84" height="5.32" fill="#faf7f7"/><rect x="214.25" y="304.33" width="2.84" height="5.32" fill="#ebb1af"/><rect x="217.04" y="304.33" width="2.84" height="5.32" fill="#f7e8e8"/><rect x="219.82" y="304.33" width="2.84" height="5.32" fill="#eab0af"/><rect x="222.61" y="304.33" width="2.84" height="5.32" fill="#e69b9a"/><rect x="225.39" y="304.33" width="2.84" height="5.32" fill="#e18583"/><rect x="228.18" y="304.33" width="2.84" height="5.32" fill="#e59795"/><rect x="230.96" y="304.33" width="2.84" height="5.32" fill="#f3d8d7"/><rect x="233.75" y="304.33" width="2.84" height="5.32" fill="#f0cbcb"/><rect x="236.53" y="304.33" width="2.84" height="5.32" fill="#e69b9a"/><rect x="239.32" y="304.33" width="2.84" height="5.32" fill="#eebebd"/><rect x="242.1" y="304.33" width="2.84" height="5.32" fill="#959bbb"/><rect x="244.89" y="304.33" width="2.84" height="5.32" fill="#c1c4d6"/><rect x="247.67" y="304.33" width="2.84" height="5.32" fill="#caccdb"/><rect x="250.46" y="304.33" width="2.84" height="5.32" fill="#e8e8ed"/><rect x="253.24" y="304.33" width="2.84" height="5.32" fill="#878fb3"/><rect x="256.03" y="304.33" width="2.84" height="5.32" fill="#939aba"/><rect x="258.81" y="304.33" width="2.84" height="5.32" fill="#939aba"/><rect x="166.9" y="309.6" width="2.84" height="5.32" fill="#e6e5ec"/><rect x="169.69" y="309.6" width="2.84" height="5.32" fill="#cdcfdd"/><rect x="172.47" y="309.6" width="2.84" height="5.32" fill="#faf6f6"/><rect x="175.26" y="309.6" width="2.84" height="5.32" fill="#8a92b5"/><rect x="178.04" y="309.6" width="2.84" height="5.32" fill="#e3e3ea"/><rect x="180.83" y="309.6" width="2.84" height="5.32" fill="#b3b7cd"/><rect x="183.61" y="309.6" width="2.84" height="5.32" fill="#bec2d4"/><rect x="186.4" y="309.6" width="2.84" height="5.32" fill="#d8d9e3"/><rect x="189.18" y="309.6" width="2.84" height="5.32" fill="#f4dedd"/><rect x="191.97" y="309.6" width="2.84" height="5.32" fill="#f0eff2"/><rect x="194.75" y="309.6" width="2.84" height="5.32" fill="#ecb8b6"/><rect x="197.54" y="309.6" width="2.84" height="5.32" fill="#f2d2d2"/><rect x="200.32" y="309.6" width="2.84" height="5.32" fill="#f4dedd"/><rect x="203.11" y="309.6" width="2.84" height="5.32" fill="#f0c9c8"/><rect x="205.89" y="309.6" width="2.84" height="5.32" fill="#f8f0ef"/><rect x="208.68" y="309.6" width="2.84" height="5.32" fill="#f9f4f4"/><rect x="211.46" y="309.6" width="2.84" height="5.32" fill="#f8ecec"/><rect x="214.25" y="309.6" width="2.84" height="5.32" fill="#f3d9d8"/><rect x="217.04" y="309.6" width="2.84" height="5.32" fill="#f5e1e0"/><rect x="219.82" y="309.6" width="2.84" height="5.32" fill="#f6e6e6"/><rect x="222.61" y="309.6" width="2.84" height="5.32" fill="#faf8f8"/><rect x="225.39" y="309.6" width="2.84" height="5.32" fill="#f1eff2"/><rect x="228.18" y="309.6" width="2.84" height="5.32" fill="#e7a09f"/><rect x="230.96" y="309.6" width="2.84" height="5.32" fill="#e28785"/><rect x="233.75" y="309.6" width="2.84" height="5.32" fill="#e9a9a8"/><rect x="236.53" y="309.6" width="2.84" height="5.32" fill="#dc6f6c"/><rect x="239.32" y="309.6" width="2.84" height="5.32" fill="#e18280"/><rect x="242.1" y="309.6" width="2.84" height="5.32" fill="#b0b4cb"/><rect x="244.89" y="309.6" width="2.84" height="5.32" fill="#aaafc8"/><rect x="247.67" y="309.6" width="2.84" height="5.32" fill="#dfdfe7"/><rect x="250.46" y="309.6" width="2.84" height="5.32" fill="#c6c8d9"/><rect x="253.24" y="309.6" width="2.84" height="5.32" fill="#eeedf0"/><rect x="256.03" y="309.6" width="2.84" height="5.32" fill="#c7c9d9"/><rect x="258.81" y="309.6" width="2.84" height="5.32" fill="#abb0c8"/><rect x="166.9" y="314.87" width="2.84" height="5.32" fill="#d4d5e1"/><rect x="169.69" y="314.87" width="2.84" height="5.32" fill="#d0d2df"/><rect x="172.47" y="314.87" width="2.84" height="5.32" fill="#edecf0"/><rect x="175.26" y="314.87" width="2.84" height="5.32" fill="#edecf0"/><rect x="178.04" y="314.87" width="2.84" height="5.32" fill="#9098b8"/><rect x="180.83" y="314.87" width="2.84" height="5.32" fill="#8c94b6"/><rect x="183.61" y="314.87" width="2.84" height="5.32" fill="#5f6b9b"/><rect x="186.4" y="314.87" width="2.84" height="5.32" fill="#7882aa"/><rect x="189.18" y="314.87" width="2.84" height="5.32" fill="#bfc2d5"/><rect x="191.97" y="314.87" width="2.84" height="5.32" fill="#eae9ee"/><rect x="194.75" y="314.87" width="2.84" height="5.32" fill="#b4b8ce"/><rect x="197.54" y="314.87" width="2.84" height="5.32" fill="#caccdb"/><rect x="200.32" y="314.87" width="2.84" height="5.32" fill="#e1e1e9"/><rect x="203.11" y="314.87" width="2.84" height="5.32" fill="#e7e7ed"/><rect x="205.89" y="314.87" width="2.84" height="5.32" fill="#f2f1f3"/><rect x="208.68" y="314.87" width="2.84" height="5.32" fill="#f0cbca"/><rect x="211.46" y="314.87" width="2.84" height="5.32" fill="#d4d5e1"/><rect x="214.25" y="314.87" width="2.84" height="5.32" fill="#b0b4cb"/><rect x="217.04" y="314.87" width="2.84" height="5.32" fill="#d2d4e0"/><rect x="219.82" y="314.87" width="2.84" height="5.32" fill="#ecb9b8"/><rect x="222.61" y="314.87" width="2.84" height="5.32" fill="#eebfbe"/><rect x="225.39" y="314.87" width="2.84" height="5.32" fill="#f0c8c7"/><rect x="228.18" y="314.87" width="2.84" height="5.32" fill="#e59593"/><rect x="230.96" y="314.87" width="2.84" height="5.32" fill="#e69a98"/><rect x="233.75" y="314.87" width="2.84" height="5.32" fill="#ecb8b7"/><rect x="236.53" y="314.87" width="2.84" height="5.32" fill="#e59795"/><rect x="239.32" y="314.87" width="2.84" height="5.32" fill="#f5e2e2"/><rect x="242.1" y="314.87" width="2.84" height="5.32" fill="#a3a8c3"/><rect x="244.89" y="314.87" width="2.84" height="5.32" fill="#8e95b7"/><rect x="247.67" y="314.87" width="2.84" height="5.32" fill="#adb2ca"/><rect x="250.46" y="314.87" width="2.84" height="5.32" fill="#d8d9e3"/><rect x="253.24" y="314.87" width="2.84" height="5.32" fill="#999fbd"/><rect x="256.03" y="314.87" width="2.84" height="5.32" fill="#d7d8e3"/><rect x="258.81" y="314.87" width="2.84" height="5.32" fill="#8991b4"/><rect x="166.9" y="320.14" width="2.84" height="5.32" fill="#d75451"/><rect x="169.69" y="320.14" width="2.84" height="5.32" fill="#eab0af"/><rect x="172.47" y="320.14" width="2.84" height="5.32" fill="#e59795"/><rect x="175.26" y="320.14" width="2.84" height="5.32" fill="#d9605d"/><rect x="178.04" y="320.14" width="2.84" height="5.32" fill="#ced0de"/><rect x="180.83" y="320.14" width="2.84" height="5.32" fill="#d5d6e2"/><rect x="183.61" y="320.14" width="2.84" height="5.32" fill="#d0d2df"/><rect x="186.4" y="320.14" width="2.84" height="5.32" fill="#d6d7e2"/><rect x="189.18" y="320.14" width="2.84" height="5.32" fill="#d6d7e2"/><rect x="191.97" y="320.14" width="2.84" height="5.32" fill="#bec1d4"/><rect x="194.75" y="320.14" width="2.84" height="5.32" fill="#d3d4e0"/><rect x="197.54" y="320.14" width="2.84" height="5.32" fill="#dedfe7"/><rect x="200.32" y="320.14" width="2.84" height="5.32" fill="#596597"/><rect x="203.11" y="320.14" width="2.84" height="5.32" fill="#828bb0"/><rect x="205.89" y="320.14" width="2.84" height="5.32" fill="#a8adc7"/><rect x="208.68" y="320.14" width="2.84" height="5.32" fill="#43518a"/><rect x="211.46" y="320.14" width="2.84" height="5.32" fill="#b6bacf"/><rect x="214.25" y="320.14" width="2.84" height="5.32" fill="#bec1d4"/><rect x="217.04" y="320.14" width="2.84" height="5.32" fill="#c7cad9"/><rect x="219.82" y="320.14" width="2.84" height="5.32" fill="#f3d7d6"/><rect x="222.61" y="320.14" width="2.84" height="5.32" fill="#f8efee"/><rect x="225.39" y="320.14" width="2.84" height="5.32" fill="#f4dada"/><rect x="228.18" y="320.14" width="2.84" height="5.32" fill="#f3d9d9"/><rect x="230.96" y="320.14" width="2.84" height="5.32" fill="#f6e6e6"/><rect x="233.75" y="320.14" width="2.84" height="5.32" fill="#ecb6b5"/><rect x="236.53" y="320.14" width="2.84" height="5.32" fill="#f5e0df"/><rect x="239.32" y="320.14" width="2.84" height="5.32" fill="#e3e3ea"/><rect x="242.1" y="320.14" width="2.84" height="5.32" fill="#646f9e"/><rect x="244.89" y="320.14" width="2.84" height="5.32" fill="#a5aac5"/><rect x="247.67" y="320.14" width="2.84" height="5.32" fill="#8991b4"/><rect x="250.46" y="320.14" width="2.84" height="5.32" fill="#8189af"/><rect x="253.24" y="320.14" width="2.84" height="5.32" fill="#6a75a2"/><rect x="256.03" y="320.14" width="2.84" height="5.32" fill="#8a92b5"/><rect x="258.81" y="320.14" width="2.84" height="5.32" fill="#9098b8"/><rect x="166.9" y="325.41" width="2.84" height="5.32" fill="#f8eeed"/><rect x="169.69" y="325.41" width="2.84" height="5.32" fill="#f6e4e3"/><rect x="172.47" y="325.41" width="2.84" height="5.32" fill="#eebfbe"/><rect x="175.26" y="325.41" width="2.84" height="5.32" fill="#eec2c1"/><rect x="178.04" y="325.41" width="2.84" height="5.32" fill="#cccedd"/><rect x="180.83" y="325.41" width="2.84" height="5.32" fill="#b7bbd0"/><rect x="183.61" y="325.41" width="2.84" height="5.32" fill="#949bbb"/><rect x="186.4" y="325.41" width="2.84" height="5.32" fill="#d4d5e1"/><rect x="189.18" y="325.41" width="2.84" height="5.32" fill="#eaadac"/><rect x="191.97" y="325.41" width="2.84" height="5.32" fill="#ebb3b2"/><rect x="194.75" y="325.41" width="2.84" height="5.32" fill="#ecb7b6"/><rect x="197.54" y="325.41" width="2.84" height="5.32" fill="#f2d1d0"/><rect x="200.32" y="325.41" width="2.84" height="5.32" fill="#bdc0d3"/><rect x="203.11" y="325.41" width="2.84" height="5.32" fill="#b1b6cc"/><rect x="205.89" y="325.41" width="2.84" height="5.32" fill="#d7d8e3"/><rect x="208.68" y="325.41" width="2.84" height="5.32" fill="#aaafc8"/><rect x="211.46" y="325.41" width="2.84" height="5.32" fill="#df7c79"/><rect x="214.25" y="325.41" width="2.84" height="5.32" fill="#e8a4a2"/><rect x="217.04" y="325.41" width="2.84" height="5.32" fill="#efc4c3"/><rect x="219.82" y="325.41" width="2.84" height="5.32" fill="#dbdce5"/><rect x="222.61" y="325.41" width="2.84" height="5.32" fill="#abb0c9"/><rect x="225.39" y="325.41" width="2.84" height="5.32" fill="#c5c8d8"/><rect x="228.18" y="325.41" width="2.84" height="5.32" fill="#d2d4e0"/><rect x="230.96" y="325.41" width="2.84" height="5.32" fill="#e69b99"/><rect x="233.75" y="325.41" width="2.84" height="5.32" fill="#f6f5f6"/><rect x="236.53" y="325.41" width="2.84" height="5.32" fill="#f0c8c7"/><rect x="239.32" y="325.41" width="2.84" height="5.32" fill="#f5e1e1"/><rect x="242.1" y="325.41" width="2.84" height="5.32" fill="#f3d8d7"/><rect x="244.89" y="325.41" width="2.84" height="5.32" fill="#edbdbc"/><rect x="247.67" y="325.41" width="2.84" height="5.32" fill="#e7e7ed"/><rect x="250.46" y="325.41" width="2.84" height="5.32" fill="#ebb3b2"/><rect x="253.24" y="325.41" width="2.84" height="5.32" fill="#e59694"/><rect x="256.03" y="325.41" width="2.84" height="5.32" fill="#efc7c6"/><rect x="258.81" y="325.41" width="2.84" height="5.32" fill="#f2d1d0"/><rect x="166.9" y="330.68" width="2.84" height="5.32" fill="#e38d8b"/><rect x="169.69" y="330.68" width="2.84" height="5.32" fill="#e07e7c"/><rect x="172.47" y="330.68" width="2.84" height="5.32" fill="#e7a09f"/><rect x="175.26" y="330.68" width="2.84" height="5.32" fill="#e38e8c"/><rect x="178.04" y="330.68" width="2.84" height="5.32" fill="#e59896"/><rect x="180.83" y="330.68" width="2.84" height="5.32" fill="#ebb1af"/><rect x="183.61" y="330.68" width="2.84" height="5.32" fill="#e69b99"/><rect x="186.4" y="330.68" width="2.84" height="5.32" fill="#e69c9b"/><rect x="189.18" y="330.68" width="2.84" height="5.32" fill="#e8a6a4"/><rect x="191.97" y="330.68" width="2.84" height="5.32" fill="#f3d8d7"/><rect x="194.75" y="330.68" width="2.84" height="5.32" fill="#f0cbca"/><rect x="197.54" y="330.68" width="2.84" height="5.32" fill="#f0c7c7"/><rect x="200.32" y="330.68" width="2.84" height="5.32" fill="#ecb6b5"/><rect x="203.11" y="330.68" width="2.84" height="5.32" fill="#f2d2d1"/><rect x="205.89" y="330.68" width="2.84" height="5.32" fill="#e8e7ed"/><rect x="208.68" y="330.68" width="2.84" height="5.32" fill="#f3f1f4"/><rect x="211.46" y="330.68" width="2.84" height="5.32" fill="#da6360"/><rect x="214.25" y="330.68" width="2.84" height="5.32" fill="#e49290"/><rect x="217.04" y="330.68" width="2.84" height="5.32" fill="#eec2c1"/><rect x="219.82" y="330.68" width="2.84" height="5.32" fill="#f0cccb"/><rect x="222.61" y="330.68" width="2.84" height="5.32" fill="#eaacab"/><rect x="225.39" y="330.68" width="2.84" height="5.32" fill="#e18684"/><rect x="228.18" y="330.68" width="2.84" height="5.32" fill="#e0817f"/><rect x="230.96" y="330.68" width="2.84" height="5.32" fill="#ebb1b0"/><rect x="233.75" y="330.68" width="2.84" height="5.32" fill="#eaafae"/><rect x="236.53" y="330.68" width="2.84" height="5.32" fill="#dc6d6b"/><rect x="239.32" y="330.68" width="2.84" height="5.32" fill="#efc3c2"/><rect x="242.1" y="330.68" width="2.84" height="5.32" fill="#e38c8a"/><rect x="244.89" y="330.68" width="2.84" height="5.32" fill="#ebb1af"/><rect x="247.67" y="330.68" width="2.84" height="5.32" fill="#ecb8b7"/><rect x="250.46" y="330.68" width="2.84" height="5.32" fill="#e59593"/><rect x="253.24" y="330.68" width="2.84" height="5.32" fill="#eaacab"/><rect x="256.03" y="330.68" width="2.84" height="5.32" fill="#f2d3d3"/><rect x="258.81" y="330.68" width="2.84" height="5.32" fill="#f7e8e8"/><rect x="166.9" y="335.95" width="2.84" height="5.32" fill="#e28785"/><rect x="169.69" y="335.95" width="2.84" height="5.32" fill="#df7976"/><rect x="172.47" y="335.95" width="2.84" height="5.32" fill="#d9605d"/><rect x="175.26" y="335.95" width="2.84" height="5.32" fill="#f3d5d5"/><rect x="178.04" y="335.95" width="2.84" height="5.32" fill="#bbbed2"/><rect x="180.83" y="335.95" width="2.84" height="5.32" fill="#a6abc5"/><rect x="183.61" y="335.95" width="2.84" height="5.32" fill="#c0c3d5"/><rect x="186.4" y="335.95" width="2.84" height="5.32" fill="#abb0c8"/><rect x="189.18" y="335.95" width="2.84" height="5.32" fill="#f9f2f2"/><rect x="191.97" y="335.95" width="2.84" height="5.32" fill="#f7ebeb"/><rect x="194.75" y="335.95" width="2.84" height="5.32" fill="#f7ecec"/><rect x="197.54" y="335.95" width="2.84" height="5.32" fill="#e7e7ed"/><rect x="200.32" y="335.95" width="2.84" height="5.32" fill="#9097b8"/><rect x="203.11" y="335.95" width="2.84" height="5.32" fill="#979ebc"/><rect x="205.89" y="335.95" width="2.84" height="5.32" fill="#868eb2"/><rect x="208.68" y="335.95" width="2.84" height="5.32" fill="#6772a0"/><rect x="211.46" y="335.95" width="2.84" height="5.32" fill="#cfd1de"/><rect x="214.25" y="335.95" width="2.84" height="5.32" fill="#f7e9e9"/><rect x="217.04" y="335.95" width="2.84" height="5.32" fill="#f7e9e8"/><rect x="219.82" y="335.95" width="2.84" height="5.32" fill="#f1cccb"/><rect x="222.61" y="335.95" width="2.84" height="5.32" fill="#f9f2f1"/><rect x="225.39" y="335.95" width="2.84" height="5.32" fill="#ecb6b5"/><rect x="228.18" y="335.95" width="2.84" height="5.32" fill="#f4dbda"/><rect x="230.96" y="335.95" width="2.84" height="5.32" fill="#9da3c0"/><rect x="233.75" y="335.95" width="2.84" height="5.32" fill="#f7e9e8"/><rect x="236.53" y="335.95" width="2.84" height="5.32" fill="#aeb3ca"/><rect x="239.32" y="335.95" width="2.84" height="5.32" fill="#f2d4d4"/><rect x="242.1" y="335.95" width="2.84" height="5.32" fill="#e9aba9"/><rect x="244.89" y="335.95" width="2.84" height="5.32" fill="#f0c8c7"/><rect x="247.67" y="335.95" width="2.84" height="5.32" fill="#f1f0f3"/><rect x="250.46" y="335.95" width="2.84" height="5.32" fill="#f1cfcf"/><rect x="253.24" y="335.95" width="2.84" height="5.32" fill="#e38f8d"/><rect x="256.03" y="335.95" width="2.84" height="5.32" fill="#e49391"/><rect x="258.81" y="335.95" width="2.84" height="5.32" fill="#ebb3b2"/><rect x="166.9" y="341.22" width="2.84" height="5.32" fill="#efc4c3"/><rect x="169.69" y="341.22" width="2.84" height="5.32" fill="#e69d9c"/><rect x="172.47" y="341.22" width="2.84" height="5.32" fill="#e69a98"/><rect x="175.26" y="341.22" width="2.84" height="5.32" fill="#e18482"/><rect x="178.04" y="341.22" width="2.84" height="5.32" fill="#f6f5f6"/><rect x="180.83" y="341.22" width="2.84" height="5.32" fill="#f8eeee"/><rect x="183.61" y="341.22" width="2.84" height="5.32" fill="#caccdb"/><rect x="186.4" y="341.22" width="2.84" height="5.32" fill="#e7e6ec"/><rect x="189.18" y="341.22" width="2.84" height="5.32" fill="#f5e2e2"/><rect x="191.97" y="341.22" width="2.84" height="5.32" fill="#babdd1"/><rect x="194.75" y="341.22" width="2.84" height="5.32" fill="#f9f1f1"/><rect x="197.54" y="341.22" width="2.84" height="5.32" fill="#f0c8c7"/><rect x="200.32" y="341.22" width="2.84" height="5.32" fill="#e4e4eb"/><rect x="203.11" y="341.22" width="2.84" height="5.32" fill="#a7acc6"/><rect x="205.89" y="341.22" width="2.84" height="5.32" fill="#f6f4f5"/><rect x="208.68" y="341.22" width="2.84" height="5.32" fill="#99a0be"/><rect x="211.46" y="341.22" width="2.84" height="5.32" fill="#f3dad9"/><rect x="214.25" y="341.22" width="2.84" height="5.32" fill="#f8f0f0"/><rect x="217.04" y="341.22" width="2.84" height="5.32" fill="#eebfbe"/><rect x="219.82" y="341.22" width="2.84" height="5.32" fill="#ecb6b5"/><rect x="222.61" y="341.22" width="2.84" height="5.32" fill="#f2d4d3"/><rect x="225.39" y="341.22" width="2.84" height="5.32" fill="#e8a4a3"/><rect x="228.18" y="341.22" width="2.84" height="5.32" fill="#edbcbb"/><rect x="230.96" y="341.22" width="2.84" height="5.32" fill="#66719f"/><rect x="233.75" y="341.22" width="2.84" height="5.32" fill="#576396"/><rect x="236.53" y="341.22" width="2.84" height="5.32" fill="#bec1d4"/><rect x="239.32" y="341.22" width="2.84" height="5.32" fill="#6873a0"/><rect x="242.1" y="341.22" width="2.84" height="5.32" fill="#efc3c2"/><rect x="244.89" y="341.22" width="2.84" height="5.32" fill="#f2d3d2"/><rect x="247.67" y="341.22" width="2.84" height="5.32" fill="#f4dddd"/><rect x="250.46" y="341.22" width="2.84" height="5.32" fill="#f3f2f4"/><rect x="253.24" y="341.22" width="2.84" height="5.32" fill="#f2d3d3"/><rect x="256.03" y="341.22" width="2.84" height="5.32" fill="#f2d3d2"/><rect x="258.81" y="341.22" width="2.84" height="5.32" fill="#ebb2b1"/><rect x="166.9" y="346.49" width="2.84" height="5.32" fill="#b7bbd0"/><rect x="169.69" y="346.49" width="2.84" height="5.32" fill="#989ebd"/><rect x="172.47" y="346.49" width="2.84" height="5.32" fill="#a7acc6"/><rect x="175.26" y="346.49" width="2.84" height="5.32" fill="#c5c8d8"/><rect x="178.04" y="346.49" width="2.84" height="5.32" fill="#edecf0"/><rect x="180.83" y="346.49" width="2.84" height="5.32" fill="#faf7f7"/><rect x="183.61" y="346.49" width="2.84" height="5.32" fill="#dadbe5"/><rect x="186.4" y="346.49" width="2.84" height="5.32" fill="#f6f4f5"/><rect x="189.18" y="346.49" width="2.84" height="5.32" fill="#dfe0e8"/><rect x="191.97" y="346.49" width="2.84" height="5.32" fill="#f6e4e4"/><rect x="194.75" y="346.49" width="2.84" height="5.32" fill="#d9dae4"/><rect x="197.54" y="346.49" width="2.84" height="5.32" fill="#dfe0e8"/><rect x="200.32" y="346.49" width="2.84" height="5.32" fill="#d7d8e3"/><rect x="203.11" y="346.49" width="2.84" height="5.32" fill="#ebeaef"/><rect x="205.89" y="346.49" width="2.84" height="5.32" fill="#abb0c9"/><rect x="208.68" y="346.49" width="2.84" height="5.32" fill="#b8bcd0"/><rect x="211.46" y="346.49" width="2.84" height="5.32" fill="#c9cbda"/><rect x="214.25" y="346.49" width="2.84" height="5.32" fill="#9198b9"/><rect x="217.04" y="346.49" width="2.84" height="5.32" fill="#f8f6f7"/><rect x="219.82" y="346.49" width="2.84" height="5.32" fill="#9fa5c1"/><rect x="222.61" y="346.49" width="2.84" height="5.32" fill="#7f88ae"/><rect x="225.39" y="346.49" width="2.84" height="5.32" fill="#e3e3ea"/><rect x="228.18" y="346.49" width="2.84" height="5.32" fill="#a4aac4"/><rect x="230.96" y="346.49" width="2.84" height="5.32" fill="#f8efef"/><rect x="233.75" y="346.49" width="2.84" height="5.32" fill="#f5f4f5"/><rect x="236.53" y="346.49" width="2.84" height="5.32" fill="#e2e2e9"/><rect x="239.32" y="346.49" width="2.84" height="5.32" fill="#9ca3c0"/><rect x="242.1" y="346.49" width="2.84" height="5.32" fill="#e38d8b"/><rect x="244.89" y="346.49" width="2.84" height="5.32" fill="#eaaead"/><rect x="247.67" y="346.49" width="2.84" height="5.32" fill="#f4dede"/><rect x="250.46" y="346.49" width="2.84" height="5.32" fill="#ecb9b8"/><rect x="253.24" y="346.49" width="2.84" height="5.32" fill="#e8a4a3"/><rect x="256.03" y="346.49" width="2.84" height="5.32" fill="#e79e9c"/><rect x="258.81" y="346.49" width="2.84" height="5.32" fill="#ecb6b4"/><rect x="166.9" y="351.76" width="2.84" height="5.32" fill="#cccedc"/><rect x="169.69" y="351.76" width="2.84" height="5.32" fill="#f2f1f3"/><rect x="172.47" y="351.76" width="2.84" height="5.32" fill="#c4c7d8"/><rect x="175.26" y="351.76" width="2.84" height="5.32" fill="#d9dae4"/><rect x="178.04" y="351.76" width="2.84" height="5.32" fill="#d3d4e0"/><rect x="180.83" y="351.76" width="2.84" height="5.32" fill="#9198b9"/><rect x="183.61" y="351.76" width="2.84" height="5.32" fill="#c7cada"/><rect x="186.4" y="351.76" width="2.84" height="5.32" fill="#818aaf"/><rect x="189.18" y="351.76" width="2.84" height="5.32" fill="#969dbc"/><rect x="191.97" y="351.76" width="2.84" height="5.32" fill="#8d94b6"/><rect x="194.75" y="351.76" width="2.84" height="5.32" fill="#afb4cb"/><rect x="197.54" y="351.76" width="2.84" height="5.32" fill="#c7cada"/><rect x="200.32" y="351.76" width="2.84" height="5.32" fill="#a6abc5"/><rect x="203.11" y="351.76" width="2.84" height="5.32" fill="#c3c6d7"/><rect x="205.89" y="351.76" width="2.84" height="5.32" fill="#aaafc8"/><rect x="208.68" y="351.76" width="2.84" height="5.32" fill="#a1a7c3"/><rect x="211.46" y="351.76" width="2.84" height="5.32" fill="#acb1c9"/><rect x="214.25" y="351.76" width="2.84" height="5.32" fill="#969dbc"/><rect x="217.04" y="351.76" width="2.84" height="5.32" fill="#a1a7c3"/><rect x="219.82" y="351.76" width="2.84" height="5.32" fill="#939aba"/><rect x="222.61" y="351.76" width="2.84" height="5.32" fill="#636e9d"/><rect x="225.39" y="351.76" width="2.84" height="5.32" fill="#979dbc"/><rect x="228.18" y="351.76" width="2.84" height="5.32" fill="#536094"/><rect x="230.96" y="351.76" width="2.84" height="5.32" fill="#abb0c9"/><rect x="233.75" y="351.76" width="2.84" height="5.32" fill="#7e87ad"/><rect x="236.53" y="351.76" width="2.84" height="5.32" fill="#a2a8c3"/><rect x="239.32" y="351.76" width="2.84" height="5.32" fill="#e1e1e9"/><rect x="242.1" y="351.76" width="2.84" height="5.32" fill="#f1cfce"/><rect x="244.89" y="351.76" width="2.84" height="5.32" fill="#ebb4b3"/><rect x="247.67" y="351.76" width="2.84" height="5.32" fill="#edecf0"/><rect x="250.46" y="351.76" width="2.84" height="5.32" fill="#faf7f7"/><rect x="253.24" y="351.76" width="2.84" height="5.32" fill="#f0cccb"/><rect x="256.03" y="351.76" width="2.84" height="5.32" fill="#eec1c0"/><rect x="258.81" y="351.76" width="2.84" height="5.32" fill="#eec1bf"/><rect x="166.9" y="357.03" width="2.84" height="5.32" fill="#767fa8"/><rect x="169.69" y="357.03" width="2.84" height="5.32" fill="#b7bbd0"/><rect x="172.47" y="357.03" width="2.84" height="5.32" fill="#a5abc5"/><rect x="175.26" y="357.03" width="2.84" height="5.32" fill="#abb0c9"/><rect x="178.04" y="357.03" width="2.84" height="5.32" fill="#cacddb"/><rect x="180.83" y="357.03" width="2.84" height="5.32" fill="#b4b8ce"/><rect x="183.61" y="357.03" width="2.84" height="5.32" fill="#8a92b4"/><rect x="186.4" y="357.03" width="2.84" height="5.32" fill="#9ca2bf"/><rect x="189.18" y="357.03" width="2.84" height="5.32" fill="#9ba2bf"/><rect x="191.97" y="357.03" width="2.84" height="5.32" fill="#9fa5c1"/><rect x="194.75" y="357.03" width="2.84" height="5.32" fill="#c3c5d7"/><rect x="197.54" y="357.03" width="2.84" height="5.32" fill="#eeedf1"/><rect x="200.32" y="357.03" width="2.84" height="5.32" fill="#9299ba"/><rect x="203.11" y="357.03" width="2.84" height="5.32" fill="#9198b9"/><rect x="205.89" y="357.03" width="2.84" height="5.32" fill="#858eb2"/><rect x="208.68" y="357.03" width="2.84" height="5.32" fill="#747da7"/><rect x="211.46" y="357.03" width="2.84" height="5.32" fill="#8b92b5"/><rect x="214.25" y="357.03" width="2.84" height="5.32" fill="#7a83ab"/><rect x="217.04" y="357.03" width="2.84" height="5.32" fill="#828aaf"/><rect x="219.82" y="357.03" width="2.84" height="5.32" fill="#626d9c"/><rect x="222.61" y="357.03" width="2.84" height="5.32" fill="#8d94b6"/><rect x="225.39" y="357.03" width="2.84" height="5.32" fill="#5a6698"/><rect x="228.18" y="357.03" width="2.84" height="5.32" fill="#8f96b7"/><rect x="230.96" y="357.03" width="2.84" height="5.32" fill="#606c9b"/><rect x="233.75" y="357.03" width="2.84" height="5.32" fill="#8c93b6"/><rect x="236.53" y="357.03" width="2.84" height="5.32" fill="#596597"/><rect x="239.32" y="357.03" width="2.84" height="5.32" fill="#818aaf"/><rect x="242.1" y="357.03" width="2.84" height="5.32" fill="#ecb8b7"/><rect x="244.89" y="357.03" width="2.84" height="5.32" fill="#f0c7c6"/><rect x="247.67" y="357.03" width="2.84" height="5.32" fill="#e59492"/><rect x="250.46" y="357.03" width="2.84" height="5.32" fill="#eec0bf"/><rect x="253.24" y="357.03" width="2.84" height="5.32" fill="#f5dfdf"/><rect x="256.03" y="357.03" width="2.84" height="5.32" fill="#ebb1af"/><rect x="258.81" y="357.03" width="2.84" height="5.32" fill="#f4dedd"/><rect x="166.9" y="362.3" width="2.84" height="5.32" fill="#cbcddc"/><rect x="169.69" y="362.3" width="2.84" height="5.32" fill="#dbdce6"/><rect x="172.47" y="362.3" width="2.84" height="5.32" fill="#e1e1e9"/><rect x="175.26" y="362.3" width="2.84" height="5.32" fill="#f6e4e3"/><rect x="178.04" y="362.3" width="2.84" height="5.32" fill="#b1b6cc"/><rect x="180.83" y="362.3" width="2.84" height="5.32" fill="#dedee7"/><rect x="183.61" y="362.3" width="2.84" height="5.32" fill="#f7ebeb"/><rect x="186.4" y="362.3" width="2.84" height="5.32" fill="#e1e1e9"/><rect x="189.18" y="362.3" width="2.84" height="5.32" fill="#c6c8d9"/><rect x="191.97" y="362.3" width="2.84" height="5.32" fill="#eaeaee"/><rect x="194.75" y="362.3" width="2.84" height="5.32" fill="#979ebd"/><rect x="197.54" y="362.3" width="2.84" height="5.32" fill="#bec1d4"/><rect x="200.32" y="362.3" width="2.84" height="5.32" fill="#caccdb"/><rect x="203.11" y="362.3" width="2.84" height="5.32" fill="#a0a6c2"/><rect x="205.89" y="362.3" width="2.84" height="5.32" fill="#7e87ad"/><rect x="208.68" y="362.3" width="2.84" height="5.32" fill="#949bbb"/><rect x="211.46" y="362.3" width="2.84" height="5.32" fill="#cccedc"/><rect x="214.25" y="362.3" width="2.84" height="5.32" fill="#cccedc"/><rect x="217.04" y="362.3" width="2.84" height="5.32" fill="#f9f5f4"/><rect x="219.82" y="362.3" width="2.84" height="5.32" fill="#b1b5cc"/><rect x="222.61" y="362.3" width="2.84" height="5.32" fill="#5b6698"/><rect x="225.39" y="362.3" width="2.84" height="5.32" fill="#a8adc7"/><rect x="228.18" y="362.3" width="2.84" height="5.32" fill="#a4aac4"/><rect x="230.96" y="362.3" width="2.84" height="5.32" fill="#f8f1f0"/><rect x="233.75" y="362.3" width="2.84" height="5.32" fill="#cccedc"/><rect x="236.53" y="362.3" width="2.84" height="5.32" fill="#c0c3d5"/><rect x="239.32" y="362.3" width="2.84" height="5.32" fill="#d5d6e2"/><rect x="242.1" y="362.3" width="2.84" height="5.32" fill="#e7a19f"/><rect x="244.89" y="362.3" width="2.84" height="5.32" fill="#edbdbc"/><rect x="247.67" y="362.3" width="2.84" height="5.32" fill="#e69d9b"/><rect x="250.46" y="362.3" width="2.84" height="5.32" fill="#ecb8b7"/><rect x="253.24" y="362.3" width="2.84" height="5.32" fill="#f5e1e0"/><rect x="256.03" y="362.3" width="2.84" height="5.32" fill="#f8eded"/><rect x="258.81" y="362.3" width="2.84" height="5.32" fill="#e59896"/><rect x="166.9" y="367.57" width="2.84" height="5.32" fill="#99a0be"/><rect x="169.69" y="367.57" width="2.84" height="5.32" fill="#bcbfd3"/><rect x="172.47" y="367.57" width="2.84" height="5.32" fill="#bdc0d3"/><rect x="175.26" y="367.57" width="2.84" height="5.32" fill="#abb0c8"/><rect x="178.04" y="367.57" width="2.84" height="5.32" fill="#caccdb"/><rect x="180.83" y="367.57" width="2.84" height="5.32" fill="#dbdce6"/><rect x="183.61" y="367.57" width="2.84" height="5.32" fill="#f1d0d0"/><rect x="186.4" y="367.57" width="2.84" height="5.32" fill="#d9dae4"/><rect x="189.18" y="367.57" width="2.84" height="5.32" fill="#c1c4d6"/><rect x="191.97" y="367.57" width="2.84" height="5.32" fill="#d5d6e1"/><rect x="194.75" y="367.57" width="2.84" height="5.32" fill="#edecf0"/><rect x="197.54" y="367.57" width="2.84" height="5.32" fill="#b8bcd0"/><rect x="200.32" y="367.57" width="2.84" height="5.32" fill="#b0b5cc"/><rect x="203.11" y="367.57" width="2.84" height="5.32" fill="#8890b3"/><rect x="205.89" y="367.57" width="2.84" height="5.32" fill="#d1d3df"/><rect x="208.68" y="367.57" width="2.84" height="5.32" fill="#d1d2df"/><rect x="211.46" y="367.57" width="2.84" height="5.32" fill="#caccdb"/><rect x="214.25" y="367.57" width="2.84" height="5.32" fill="#7982aa"/><rect x="217.04" y="367.57" width="2.84" height="5.32" fill="#dedfe7"/><rect x="219.82" y="367.57" width="2.84" height="5.32" fill="#999fbd"/><rect x="222.61" y="367.57" width="2.84" height="5.32" fill="#7680a9"/><rect x="225.39" y="367.57" width="2.84" height="5.32" fill="#737ca7"/><rect x="228.18" y="367.57" width="2.84" height="5.32" fill="#757fa8"/><rect x="230.96" y="367.57" width="2.84" height="5.32" fill="#b7bacf"/><rect x="233.75" y="367.57" width="2.84" height="5.32" fill="#f2f1f3"/><rect x="236.53" y="367.57" width="2.84" height="5.32" fill="#c9cbda"/><rect x="239.32" y="367.57" width="2.84" height="5.32" fill="#c6c8d8"/><rect x="242.1" y="367.57" width="2.84" height="5.32" fill="#f5f3f5"/><rect x="244.89" y="367.57" width="2.84" height="5.32" fill="#e9e8ee"/><rect x="247.67" y="367.57" width="2.84" height="5.32" fill="#d4d5e1"/><rect x="250.46" y="367.57" width="2.84" height="5.32" fill="#dedfe7"/><rect x="253.24" y="367.57" width="2.84" height="5.32" fill="#d7d8e3"/><rect x="256.03" y="367.57" width="2.84" height="5.32" fill="#f6e5e4"/><rect x="258.81" y="367.57" width="2.84" height="5.32" fill="#f8efee"/><rect x="166.9" y="372.84" width="2.84" height="5.32" fill="#bbbfd2"/><rect x="169.69" y="372.84" width="2.84" height="5.32" fill="#d0d1de"/><rect x="172.47" y="372.84" width="2.84" height="5.32" fill="#faf8f8"/><rect x="175.26" y="372.84" width="2.84" height="5.32" fill="#c8cada"/><rect x="178.04" y="372.84" width="2.84" height="5.32" fill="#f5e2e1"/><rect x="180.83" y="372.84" width="2.84" height="5.32" fill="#e9e8ed"/><rect x="183.61" y="372.84" width="2.84" height="5.32" fill="#efeef1"/><rect x="186.4" y="372.84" width="2.84" height="5.32" fill="#9da3c0"/><rect x="189.18" y="372.84" width="2.84" height="5.32" fill="#e0e0e8"/><rect x="191.97" y="372.84" width="2.84" height="5.32" fill="#d1d2df"/><rect x="194.75" y="372.84" width="2.84" height="5.32" fill="#d8d9e3"/><rect x="197.54" y="372.84" width="2.84" height="5.32" fill="#d5d6e2"/><rect x="200.32" y="372.84" width="2.84" height="5.32" fill="#b7bbd0"/><rect x="203.11" y="372.84" width="2.84" height="5.32" fill="#989fbd"/><rect x="205.89" y="372.84" width="2.84" height="5.32" fill="#c3c5d7"/><rect x="208.68" y="372.84" width="2.84" height="5.32" fill="#aaafc8"/><rect x="211.46" y="372.84" width="2.84" height="5.32" fill="#9da3c0"/><rect x="214.25" y="372.84" width="2.84" height="5.32" fill="#9ea4c0"/><rect x="217.04" y="372.84" width="2.84" height="5.32" fill="#c1c4d6"/><rect x="219.82" y="372.84" width="2.84" height="5.32" fill="#9da3c0"/><rect x="222.61" y="372.84" width="2.84" height="5.32" fill="#515e92"/><rect x="225.39" y="372.84" width="2.84" height="5.32" fill="#556195"/><rect x="228.18" y="372.84" width="2.84" height="5.32" fill="#b2b7cd"/><rect x="230.96" y="372.84" width="2.84" height="5.32" fill="#c6c9d9"/><rect x="233.75" y="372.84" width="2.84" height="5.32" fill="#f3d7d6"/><rect x="236.53" y="372.84" width="2.84" height="5.32" fill="#989fbd"/><rect x="239.32" y="372.84" width="2.84" height="5.32" fill="#bfc2d5"/><rect x="242.1" y="372.84" width="2.84" height="5.32" fill="#f7ebeb"/><rect x="244.89" y="372.84" width="2.84" height="5.32" fill="#f0c9c8"/><rect x="247.67" y="372.84" width="2.84" height="5.32" fill="#eaafae"/><rect x="250.46" y="372.84" width="2.84" height="5.32" fill="#e9aaa8"/><rect x="253.24" y="372.84" width="2.84" height="5.32" fill="#faf8f8"/><rect x="256.03" y="372.84" width="2.84" height="5.32" fill="#ecb5b3"/><rect x="258.81" y="372.84" width="2.84" height="5.32" fill="#f4f3f5"/><rect x="166.9" y="378.11" width="2.84" height="5.32" fill="#e49391"/><rect x="169.69" y="378.11" width="2.84" height="5.32" fill="#e59795"/><rect x="172.47" y="378.11" width="2.84" height="5.32" fill="#e28a88"/><rect x="175.26" y="378.11" width="2.84" height="5.32" fill="#ebb4b3"/><rect x="178.04" y="378.11" width="2.84" height="5.32" fill="#f8efef"/><rect x="180.83" y="378.11" width="2.84" height="5.32" fill="#d9dae4"/><rect x="183.61" y="378.11" width="2.84" height="5.32" fill="#dbdbe5"/><rect x="186.4" y="378.11" width="2.84" height="5.32" fill="#d3d4e1"/><rect x="189.18" y="378.11" width="2.84" height="5.32" fill="#dadbe5"/><rect x="191.97" y="378.11" width="2.84" height="5.32" fill="#f5e2e2"/><rect x="194.75" y="378.11" width="2.84" height="5.32" fill="#f8eeee"/><rect x="197.54" y="378.11" width="2.84" height="5.32" fill="#f7eaea"/><rect x="200.32" y="378.11" width="2.84" height="5.32" fill="#f4f3f4"/><rect x="203.11" y="378.11" width="2.84" height="5.32" fill="#a2a8c3"/><rect x="205.89" y="378.11" width="2.84" height="5.32" fill="#b4b8ce"/><rect x="208.68" y="378.11" width="2.84" height="5.32" fill="#bcc0d3"/><rect x="211.46" y="378.11" width="2.84" height="5.32" fill="#e7a1a0"/><rect x="214.25" y="378.11" width="2.84" height="5.32" fill="#eec0bf"/><rect x="217.04" y="378.11" width="2.84" height="5.32" fill="#e79f9d"/><rect x="219.82" y="378.11" width="2.84" height="5.32" fill="#f0cccb"/><rect x="222.61" y="378.11" width="2.84" height="5.32" fill="#e4e4eb"/><rect x="225.39" y="378.11" width="2.84" height="5.32" fill="#f8eeee"/><rect x="228.18" y="378.11" width="2.84" height="5.32" fill="#dcdde6"/><rect x="230.96" y="378.11" width="2.84" height="5.32" fill="#c8cbda"/><rect x="233.75" y="378.11" width="2.84" height="5.32" fill="#c4c7d8"/><rect x="236.53" y="378.11" width="2.84" height="5.32" fill="#e3e3ea"/><rect x="239.32" y="378.11" width="2.84" height="5.32" fill="#d6d7e2"/><rect x="242.1" y="378.11" width="2.84" height="5.32" fill="#727ca6"/><rect x="244.89" y="378.11" width="2.84" height="5.32" fill="#9aa0be"/><rect x="247.67" y="378.11" width="2.84" height="5.32" fill="#868eb2"/><rect x="250.46" y="378.11" width="2.84" height="5.32" fill="#4f5c91"/><rect x="253.24" y="378.11" width="2.84" height="5.32" fill="#5f6b9b"/><rect x="256.03" y="378.11" width="2.84" height="5.32" fill="#7e87ad"/><rect x="258.81" y="378.11" width="2.84" height="5.32" fill="#a7adc6"/><rect x="166.9" y="383.38" width="2.84" height="5.32" fill="#f7e9e9"/><rect x="169.69" y="383.38" width="2.84" height="5.32" fill="#f7e9e8"/><rect x="172.47" y="383.38" width="2.84" height="5.32" fill="#f4dcdb"/><rect x="175.26" y="383.38" width="2.84" height="5.32" fill="#f1cccb"/><rect x="178.04" y="383.38" width="2.84" height="5.32" fill="#e3e3ea"/><rect x="180.83" y="383.38" width="2.84" height="5.32" fill="#eeedf1"/><rect x="183.61" y="383.38" width="2.84" height="5.32" fill="#d9dae4"/><rect x="186.4" y="383.38" width="2.84" height="5.32" fill="#d5d6e2"/><rect x="189.18" y="383.38" width="2.84" height="5.32" fill="#a4aac4"/><rect x="191.97" y="383.38" width="2.84" height="5.32" fill="#d0d2df"/><rect x="194.75" y="383.38" width="2.84" height="5.32" fill="#acb0c9"/><rect x="197.54" y="383.38" width="2.84" height="5.32" fill="#cdcfdd"/><rect x="200.32" y="383.38" width="2.84" height="5.32" fill="#c8cbda"/><rect x="203.11" y="383.38" width="2.84" height="5.32" fill="#dadae4"/><rect x="205.89" y="383.38" width="2.84" height="5.32" fill="#6c76a2"/><rect x="208.68" y="383.38" width="2.84" height="5.32" fill="#9fa5c1"/><rect x="211.46" y="383.38" width="2.84" height="5.32" fill="#5a6698"/><rect x="214.25" y="383.38" width="2.84" height="5.32" fill="#7983ab"/><rect x="217.04" y="383.38" width="2.84" height="5.32" fill="#979dbc"/><rect x="219.82" y="383.38" width="2.84" height="5.32" fill="#f4f3f4"/><rect x="222.61" y="383.38" width="2.84" height="5.32" fill="#d6d7e2"/><rect x="225.39" y="383.38" width="2.84" height="5.32" fill="#d1d2df"/><rect x="228.18" y="383.38" width="2.84" height="5.32" fill="#b3b7cd"/><rect x="230.96" y="383.38" width="2.84" height="5.32" fill="#f8efef"/><rect x="233.75" y="383.38" width="2.84" height="5.32" fill="#f2d4d3"/><rect x="236.53" y="383.38" width="2.84" height="5.32" fill="#cdcfdd"/><rect x="239.32" y="383.38" width="2.84" height="5.32" fill="#f0c8c7"/><rect x="242.1" y="383.38" width="2.84" height="5.32" fill="#f3d9d9"/><rect x="244.89" y="383.38" width="2.84" height="5.32" fill="#efc7c6"/><rect x="247.67" y="383.38" width="2.84" height="5.32" fill="#faf8f8"/><rect x="250.46" y="383.38" width="2.84" height="5.32" fill="#f8f6f7"/><rect x="253.24" y="383.38" width="2.84" height="5.32" fill="#f8edec"/><rect x="256.03" y="383.38" width="2.84" height="5.32" fill="#f4dbda"/><rect x="258.81" y="383.38" width="2.84" height="5.32" fill="#f1cfce"/><rect x="265.9" y="204.2" width="2.65" height="5.32" fill="#f8eeee"/><rect x="265.9" y="209.47" width="2.65" height="5.32" fill="#7e87ae"/><rect x="265.9" y="214.74" width="2.65" height="5.32" fill="#dbdce5"/><rect x="265.9" y="220.01" width="2.65" height="5.32" fill="#556295"/><rect x="265.9" y="225.28" width="2.65" height="5.32" fill="#939aba"/><rect x="265.9" y="230.55" width="2.65" height="5.32" fill="#8991b4"/><rect x="265.9" y="235.82" width="2.65" height="5.32" fill="#c6c9d9"/><rect x="265.9" y="241.09" width="2.65" height="5.32" fill="#6a74a1"/><rect x="265.9" y="246.36" width="2.65" height="5.32" fill="#a8adc6"/><rect x="265.9" y="251.63" width="2.65" height="5.32" fill="#556295"/><rect x="265.9" y="256.9" width="2.65" height="5.32" fill="#939aba"/><rect x="265.9" y="262.17" width="2.65" height="5.32" fill="#556295"/><rect x="265.9" y="267.44" width="2.65" height="5.32" fill="#939aba"/><rect x="265.9" y="272.71" width="2.65" height="5.32" fill="#606b9b"/><rect x="265.9" y="277.98" width="2.65" height="5.32" fill="#7e87ae"/><rect x="265.9" y="283.25" width="2.65" height="5.32" fill="#4b588f"/><rect x="265.9" y="288.52" width="2.65" height="5.32" fill="#556295"/><rect x="265.9" y="293.79" width="2.65" height="5.32" fill="#6a74a1"/><rect x="265.9" y="299.06" width="2.65" height="5.32" fill="#7e87ae"/><rect x="265.9" y="304.33" width="2.65" height="5.32" fill="#939aba"/><rect x="265.9" y="309.6" width="2.65" height="5.32" fill="#a8adc6"/><rect x="265.9" y="314.87" width="2.65" height="5.32" fill="#747ea7"/><rect x="265.9" y="320.14" width="2.65" height="5.32" fill="#939aba"/><rect x="265.9" y="325.41" width="2.65" height="5.32" fill="#dbdce5"/><rect x="265.9" y="330.68" width="2.65" height="5.32" fill="#efc5c4"/><rect x="265.9" y="335.95" width="2.65" height="5.32" fill="#c6c9d9"/><rect x="265.9" y="341.22" width="2.65" height="5.32" fill="#f8eeee"/><rect x="265.9" y="346.49" width="2.65" height="5.32" fill="#f3d9d9"/><rect x="265.9" y="351.76" width="2.65" height="5.32" fill="#efc5c4"/><rect x="265.9" y="357.03" width="2.65" height="5.32" fill="#e07e7b"/><rect x="265.9" y="362.3" width="2.65" height="5.32" fill="#db6966"/><rect x="265.9" y="367.57" width="2.65" height="5.32" fill="#dd7371"/><rect x="265.9" y="372.84" width="2.65" height="5.32" fill="#e49290"/><rect x="265.9" y="378.11" width="2.65" height="5.32" fill="#939aba"/><rect x="265.9" y="383.38" width="2.65" height="5.32" fill="#e8a6a5"/></g><path d="M41.66 177.6V169H44.44V177.6M38.89 177.6V168H43.05V169M49.99 177.6V169H52.77V177.6M47.22 177.6V168H51.38V169M41.66 168V168H49.99V168M55.55 177.6V170.34H58.32V177.6M56.93 170.34V168H61.1V177.6M45.83 168V168H58.32V168M66.65 177.6V169.74H69.43V177.6M63.87 177.6V168H68.04V169.74M49.99 168V167.62H66.65V168M72.2 177.6V168.59H74.98V177.6M80.53 177.6V169H83.31V177.6M77.75 177.6V168H81.92V169M86.08 177.6V169H88.86V177.6M91.64 177.6V169H94.41V177.6M87.47 169V168H93.02V169M80.53 168V168H90.25V168M73.59 168.59V167.59H86.08V168M54.16 167.62V163H83.31V167.59M102 177.6V169H104.79V177.6M113.16 177.6V169H115.95V177.6M110.37 177.6V168H114.55V169M107.58 177.6V168H113.16V168M103.39 169V168H111.76V168M118.74 177.6V169H121.53V177.6M120.14 169V168H124.32V177.6M108.97 168V167.2H121.53V168M127.11 177.6V169H129.9V177.6M132.7 177.6V169H135.49V177.6M134.09 169V168H138.28V177.6M128.51 169V168H135.49V168M113.16 167.2V165.16H132.7V168M141.07 177.6V170.34H143.86V177.6M146.65 177.6V169H149.44V177.6M152.23 177.6V169.59H155.02V177.6M157.81 177.6V169H160.6V177.6M153.63 169.59V168H159.21V169M148.05 169V168H156.42V168M142.46 170.34V164.42H153.63V168M120.14 165.16V158.5H150.84V164.42M168.29 177.6V167.89H171.08V177.6M173.86 177.6V170.49H176.65V177.6M175.26 170.49V166.18H179.43V177.6M169.69 167.89V164.11H176.65V166.18M185 177.6V169H187.79V177.6M182.22 177.6V168H186.4V169M185 168V165.96H190.58V177.6M193.36 177.6V169H196.15V177.6M198.93 177.6V169H201.72V177.6M204.5 177.6V169H207.29V177.6M200.32 169V168H205.89V169M194.75 169V168H203.11V168M186.4 165.96V163.96H200.32V168M173.86 164.11V160.64H194.75V163.96M210.07 177.6V167.9H212.86V177.6M211.46 167.9V166.9H215.64V177.6M221.21 177.6V169H224V177.6M218.43 177.6V168H222.61V169M221.21 168V168H226.78V177.6M229.57 177.6V170.09H232.35V177.6M222.61 168V167.63H230.96V170.09M235.14 177.6V169H237.93V177.6M236.53 169V168H240.71V177.6M225.39 167.63V166.08H237.93V168M212.86 166.9V163.33H229.57V166.08M187.79 160.64V157.7H225.39V163.33M243.5 177.6V166.47H246.28V177.6M251.85 177.6V168.16H254.64V177.6M257.42 177.6V169.71H260.21V177.6M253.24 168.16V167.16H258.81V169.71M249.07 177.6V163H256.03V167.16M244.89 166.47V161.2H254.64V163M204.5 157.7V154.2H251.85V161.2M66.65 163V151.5H131.3V158.5M99.75 151.5V140.8H214.25V154.2M149.55 140.8V140.4H267.2V177.6" stroke="#555" stroke-width="0.6" fill="none"/><line x1="37.5" y1="188.8" x2="162.1" y2="188.8" stroke="#555" stroke-width="1.3"/><line x1="166.9" y1="188.8" x2="268.2" y2="188.8" stroke="#555" stroke-width="1.3"/><text x="102.3" y="186.1" font-size="7.7" text-anchor="middle" fill="#222" stroke="#222" stroke-width="0.25">HER2-enriched</text><text x="219.2" y="186.1" font-size="7.7" text-anchor="middle" fill="#222" stroke="#222" stroke-width="0.25">Basal-like</text><rect x="37.5" y="193.2" width="58.3" height="9.5" fill="#d9ad5e"/><text x="66.65" y="200.9" font-size="7.8" text-anchor="middle" fill="#2a2a2a" stroke="#2a2a2a" stroke-width="0.25">Cluster 1</text><rect x="100.6" y="193.2" width="61.4" height="9.5" fill="#2d7ec3"/><text x="131.3" y="200.9" font-size="7.8" text-anchor="middle" fill="#2a2a2a" stroke="#2a2a2a" stroke-width="0.25">Cluster 2</text><rect x="166.9" y="193.2" width="94.2" height="9.5" fill="#a6d585"/><text x="214" y="200.9" font-size="7.8" text-anchor="middle" fill="#2a2a2a" stroke="#2a2a2a" stroke-width="0.25">Cluster 1</text><rect x="265.6" y="193.4" width="2.6" height="9.1" fill="#e3b366"/><text x="264.3" y="200.9" font-size="7.8" fill="#2a2a2a" stroke="#2a2a2a" stroke-width="0.25">Cluster 2</text><text x="271.2" y="209.13" font-size="6.4" fill="#222" stroke="#222" stroke-width="0.25">Th2 cells</text><text x="271.2" y="214.41" font-size="6.4" fill="#222" stroke="#222" stroke-width="0.25">Th1 cells</text><text x="271.2" y="219.67" font-size="6.4" fill="#222" stroke="#222" stroke-width="0.25">TFH</text><text x="271.2" y="224.94" font-size="6.4" fill="#222" stroke="#222" stroke-width="0.25">IFN</text><text x="271.2" y="230.21" font-size="6.4" fill="#222" stroke="#222" stroke-width="0.25">aDC</text><text x="271.2" y="235.48" font-size="6.4" fill="#222" stroke="#222" stroke-width="0.25">Cytotoxic cells</text><text x="271.2" y="240.75" font-size="6.4" fill="#222" stroke="#222" stroke-width="0.25">CD8 T cells</text><text x="271.2" y="246.02" font-size="6.4" fill="#222" stroke="#222" stroke-width="0.25">NK CD56<tspan font-size="3.6" dy="-2">dim</tspan><tspan dy="2"> cells</tspan></text><text x="271.2" y="251.29" font-size="6.4" fill="#222" stroke="#222" stroke-width="0.25">DC</text><text x="271.2" y="256.56" font-size="6.4" fill="#222" stroke="#222" stroke-width="0.25">T cells</text><text x="271.2" y="261.83" font-size="6.4" fill="#222" stroke="#222" stroke-width="0.25">Tgd</text><text x="271.2" y="267.1" font-size="6.4" fill="#222" stroke="#222" stroke-width="0.25">PD1</text><text x="271.2" y="272.38" font-size="6.4" fill="#222" stroke="#222" stroke-width="0.25">MHCII</text><text x="271.2" y="277.64" font-size="6.4" fill="#222" stroke="#222" stroke-width="0.25">LAG3</text><text x="271.2" y="282.92" font-size="6.4" fill="#222" stroke="#222" stroke-width="0.25">CTLA4</text><text x="271.2" y="288.19" font-size="6.4" fill="#222" stroke="#222" stroke-width="0.25">TReg</text><text x="271.2" y="293.45" font-size="6.4" fill="#222" stroke="#222" stroke-width="0.25">PDL1</text><text x="271.2" y="298.72" font-size="6.4" fill="#222" stroke="#222" stroke-width="0.25">PDL2</text><text x="271.2" y="303.99" font-size="6.4" fill="#222" stroke="#222" stroke-width="0.25">TIM3</text><text x="271.2" y="309.26" font-size="6.4" fill="#222" stroke="#222" stroke-width="0.25">Tem</text><text x="271.2" y="314.53" font-size="6.4" fill="#222" stroke="#222" stroke-width="0.25">OX40</text><text x="271.2" y="319.81" font-size="6.4" fill="#222" stroke="#222" stroke-width="0.25">pDC</text><text x="271.2" y="325.07" font-size="6.4" fill="#222" stroke="#222" stroke-width="0.25">OX40L</text><text x="271.2" y="330.34" font-size="6.4" fill="#222" stroke="#222" stroke-width="0.25">Th17 cells</text><text x="271.2" y="335.61" font-size="6.4" fill="#222" stroke="#222" stroke-width="0.25">B7-H4</text><text x="271.2" y="340.88" font-size="6.4" fill="#222" stroke="#222" stroke-width="0.25">Tcm</text><text x="271.2" y="346.15" font-size="6.4" fill="#222" stroke="#222" stroke-width="0.25">Eosinophils</text><text x="271.2" y="351.43" font-size="6.4" fill="#222" stroke="#222" stroke-width="0.25">iDC</text><text x="271.2" y="356.69" font-size="6.4" fill="#222" stroke="#222" stroke-width="0.25">Macrophages</text><text x="271.2" y="361.96" font-size="6.4" fill="#222" stroke="#222" stroke-width="0.25">NK CD56<tspan font-size="3.6" dy="-2">bright</tspan><tspan dy="2"> cells</tspan></text><text x="271.2" y="367.23" font-size="6.4" fill="#222" stroke="#222" stroke-width="0.25">Neutrophils</text><text x="271.2" y="372.5" font-size="6.4" fill="#222" stroke="#222" stroke-width="0.25">T helper cells</text><text x="271.2" y="377.77" font-size="6.4" fill="#222" stroke="#222" stroke-width="0.25">NK cells</text><text x="271.2" y="383.05" font-size="6.4" fill="#222" stroke="#222" stroke-width="0.25">Mast cells</text><text x="271.2" y="388.31" font-size="6.4" fill="#222" stroke="#222" stroke-width="0.25">B cells</text><path d="M34.7 212.1H26.6V217.37H34.7M34.7 222.64H27.2V227.91H34.7M34.7 238.45H29.6V243.72H34.7M34.7 233.18H28.2V241.09H29.6M28.2 238.45H25.8V248.99H34.7M27.2 225.28H25.3V241.09H25.8M26.6 214.74H24.8V235.82H25.3M34.7 206.83H23.5V230.55H24.8M23.5 227.91H21.8V254.26H34.7M34.7 264.8H31.5V270.07H34.7M34.7 259.53H30.34V267.44H31.5M30.34 264.8H29.26V275.34H34.7M34.7 280.62H29.52V285.88H34.7M34.7 291.15H31.38V296.42H34.7M34.7 306.96H31.5V312.23H34.7M34.7 301.69H30.74V309.6H31.5M31.38 293.79H30.43V306.96H30.74M29.52 283.25H29.09V301.69H30.43M29.26 267.44H28.01V296.42H29.09M34.7 317.5H29.29V322.77H34.7M34.7 328.04H29.27V333.31H34.7M29.29 320.14H28.8V330.68H29.27M28.01 285.88H27.4V325.41H28.8M34.7 338.58H26.5V343.85H34.7M27.4 296.42H24.1V341.22H26.5M21.8 230.55H21.4V301.69H24.1M34.7 370.2H30V375.47H34.7M34.7 364.93H25.5V372.84H30M34.7 359.66H22.7V370.2H25.5M34.7 354.39H20.5V367.57H22.7M34.7 349.12H18.6V364.93H20.5M21.4 275.34H14.1V362.3H18.6M14.1 291.15H11.3V380.75H34.7M11.3 293.79H1.3V386.01H34.7" stroke="#555" stroke-width="0.6" fill="none"/><defs><linearGradient id="gB" x1="0" x2="1" y1="0" y2="0"><stop offset="0" stop-color="#283672"/><stop offset="0.5" stop-color="#f7f5f5"/><stop offset="1" stop-color="#cc2b2b"/></linearGradient><linearGradient id="gC" x1="0" x2="0" y1="0" y2="1"><stop offset="0" stop-color="#d6302c"/><stop offset="0.5" stop-color="#f7f5f5"/><stop offset="1" stop-color="#203c7c"/></linearGradient></defs><rect x="37.6" y="392.6" width="58.2" height="4.8" fill="url(#gB)"/><text x="34.2" y="395.6" font-size="6.2" text-anchor="end" fill="#222" stroke="#222" stroke-width="0.25">Relative</text><text x="34.6" y="402.6" font-size="6.25" text-anchor="end" fill="#222" stroke="#222" stroke-width="0.25">expression</text><text x="37.6" y="404.3" font-size="6.3" fill="#222" stroke="#222" stroke-width="0.25">row min</text><text x="97" y="404.3" font-size="6.3" text-anchor="end" fill="#222" stroke="#222" stroke-width="0.25">row max</text><text x="341.6" y="138.9" font-size="13" font-weight="bold" fill="#000">C</text><text x="421.3" y="136.3" font-size="7.8" text-anchor="middle" fill="#222" stroke="#222" stroke-width="0.25">Correlations of APOBEC enrichment</text><text x="421.2" y="146.2" font-size="7.8" text-anchor="middle" fill="#222" stroke="#222" stroke-width="0.25">and immune signatures</text><g shape-rendering="crispEdges"><rect x="369" y="150.2" width="24.8" height="7.52" fill="#d6302e"/><rect x="393.75" y="150.2" width="24.8" height="7.52" fill="#f1cccc"/><rect x="418.5" y="150.2" width="24.8" height="7.52" fill="#eaa3a2"/><rect x="443.25" y="150.2" width="24.8" height="7.52" fill="#e68e8c"/><rect x="369" y="157.67" width="24.8" height="7.52" fill="#d73633"/><rect x="393.75" y="157.67" width="24.8" height="7.52" fill="#efc2c1"/><rect x="418.5" y="157.67" width="24.8" height="7.52" fill="#eaa8a7"/><rect x="443.25" y="157.67" width="24.8" height="7.52" fill="#e89897"/><rect x="369" y="165.14" width="24.8" height="7.52" fill="#1e3a7d"/><rect x="393.75" y="165.14" width="24.8" height="7.52" fill="#edb8b7"/><rect x="418.5" y="165.14" width="24.8" height="7.52" fill="#8b98ba"/><rect x="443.25" y="165.14" width="24.8" height="7.52" fill="#96a1c0"/><rect x="369" y="172.61" width="24.8" height="7.52" fill="#d83b38"/><rect x="393.75" y="172.61" width="24.8" height="7.52" fill="#f4dcdc"/><rect x="418.5" y="172.61" width="24.8" height="7.52" fill="#eaa8a7"/><rect x="443.25" y="172.61" width="24.8" height="7.52" fill="#e99e9c"/><rect x="369" y="180.08" width="24.8" height="7.52" fill="#d83b38"/><rect x="393.75" y="180.08" width="24.8" height="7.52" fill="#f6eceb"/><rect x="418.5" y="180.08" width="24.8" height="7.52" fill="#eaa8a7"/><rect x="443.25" y="180.08" width="24.8" height="7.52" fill="#edb8b7"/><rect x="369" y="187.55" width="24.8" height="7.52" fill="#294383"/><rect x="393.75" y="187.55" width="24.8" height="7.52" fill="#ccd0de"/><rect x="418.5" y="187.55" width="24.8" height="7.52" fill="#8b98ba"/><rect x="443.25" y="187.55" width="24.8" height="7.52" fill="#808fb3"/><rect x="369" y="195.02" width="24.8" height="7.52" fill="#d8403d"/><rect x="393.75" y="195.02" width="24.8" height="7.52" fill="#f6eceb"/><rect x="418.5" y="195.02" width="24.8" height="7.52" fill="#edb8b7"/><rect x="443.25" y="195.02" width="24.8" height="7.52" fill="#f0c7c7"/><rect x="369" y="202.49" width="24.8" height="7.52" fill="#d8403d"/><rect x="393.75" y="202.49" width="24.8" height="7.52" fill="#f7f1f1"/><rect x="418.5" y="202.49" width="24.8" height="7.52" fill="#eaa8a7"/><rect x="443.25" y="202.49" width="24.8" height="7.52" fill="#e48482"/><rect x="369" y="209.96" width="24.8" height="7.52" fill="#d8403d"/><rect x="393.75" y="209.96" width="24.8" height="7.52" fill="#f5e6e6"/><rect x="418.5" y="209.96" width="24.8" height="7.52" fill="#eaa8a7"/><rect x="443.25" y="209.96" width="24.8" height="7.52" fill="#e99e9c"/><rect x="369" y="217.43" width="24.8" height="7.52" fill="#d94543"/><rect x="393.75" y="217.43" width="24.8" height="7.52" fill="#f4e1e1"/><rect x="418.5" y="217.43" width="24.8" height="7.52" fill="#ebadac"/><rect x="443.25" y="217.43" width="24.8" height="7.52" fill="#e89897"/><rect x="369" y="224.9" width="24.8" height="7.52" fill="#39528c"/><rect x="393.75" y="224.9" width="24.8" height="7.52" fill="#f4dcdc"/><rect x="418.5" y="224.9" width="24.8" height="7.52" fill="#8b98ba"/><rect x="443.25" y="224.9" width="24.8" height="7.52" fill="#8b98ba"/><rect x="369" y="232.37" width="24.8" height="7.52" fill="#d94543"/><rect x="393.75" y="232.37" width="24.8" height="7.52" fill="#f4e1e1"/><rect x="418.5" y="232.37" width="24.8" height="7.52" fill="#ebadac"/><rect x="443.25" y="232.37" width="24.8" height="7.52" fill="#e89897"/><rect x="369" y="239.84" width="24.8" height="7.52" fill="#da4a48"/><rect x="393.75" y="239.84" width="24.8" height="7.52" fill="#d7dae4"/><rect x="418.5" y="239.84" width="24.8" height="7.52" fill="#ebadac"/><rect x="443.25" y="239.84" width="24.8" height="7.52" fill="#edb8b7"/><rect x="369" y="247.31" width="24.8" height="7.52" fill="#da4a48"/><rect x="393.75" y="247.31" width="24.8" height="7.52" fill="#f6eceb"/><rect x="418.5" y="247.31" width="24.8" height="7.52" fill="#ebadac"/><rect x="443.25" y="247.31" width="24.8" height="7.52" fill="#e48482"/><rect x="369" y="254.78" width="24.8" height="7.52" fill="#dd5a58"/><rect x="393.75" y="254.78" width="24.8" height="7.52" fill="#c2c7d8"/><rect x="418.5" y="254.78" width="24.8" height="7.52" fill="#ecb2b1"/><rect x="443.25" y="254.78" width="24.8" height="7.52" fill="#f3d7d6"/><rect x="369" y="262.25" width="24.8" height="7.52" fill="#55699b"/><rect x="393.75" y="262.25" width="24.8" height="7.52" fill="#f5e6e6"/><rect x="418.5" y="262.25" width="24.8" height="7.52" fill="#96a1c0"/><rect x="443.25" y="262.25" width="24.8" height="7.52" fill="#9ba6c3"/><rect x="369" y="269.72" width="24.8" height="7.52" fill="#dd5a58"/><rect x="393.75" y="269.72" width="24.8" height="7.52" fill="#f3d7d6"/><rect x="418.5" y="269.72" width="24.8" height="7.52" fill="#ecb2b1"/><rect x="443.25" y="269.72" width="24.8" height="7.52" fill="#eaa3a2"/><rect x="369" y="277.19" width="24.8" height="7.52" fill="#df6462"/><rect x="393.75" y="277.19" width="24.8" height="7.52" fill="#ccd0de"/><rect x="418.5" y="277.19" width="24.8" height="7.52" fill="#ecb2b1"/><rect x="443.25" y="277.19" width="24.8" height="7.52" fill="#ebadac"/><rect x="369" y="284.66" width="24.8" height="7.52" fill="#e06a68"/><rect x="393.75" y="284.66" width="24.8" height="7.52" fill="#d2d5e1"/><rect x="418.5" y="284.66" width="24.8" height="7.52" fill="#ecb2b1"/><rect x="443.25" y="284.66" width="24.8" height="7.52" fill="#e48482"/><rect x="369" y="292.13" width="24.8" height="7.52" fill="#e89897"/><rect x="393.75" y="292.13" width="24.8" height="7.52" fill="#a6b0c9"/><rect x="418.5" y="292.13" width="24.8" height="7.52" fill="#f4e1e1"/><rect x="443.25" y="292.13" width="24.8" height="7.52" fill="#f3d7d6"/><rect x="369" y="299.6" width="24.8" height="7.52" fill="#7080aa"/><rect x="393.75" y="299.6" width="24.8" height="7.52" fill="#f4dcdc"/><rect x="418.5" y="299.6" width="24.8" height="7.52" fill="#9ba6c3"/><rect x="443.25" y="299.6" width="24.8" height="7.52" fill="#c2c7d8"/><rect x="369" y="307.07" width="24.8" height="7.52" fill="#808fb3"/><rect x="393.75" y="307.07" width="24.8" height="7.52" fill="#f3d7d6"/><rect x="418.5" y="307.07" width="24.8" height="7.52" fill="#a1abc6"/><rect x="443.25" y="307.07" width="24.8" height="7.52" fill="#acb4cc"/><rect x="369" y="314.54" width="24.8" height="7.52" fill="#e89897"/><rect x="393.75" y="314.54" width="24.8" height="7.52" fill="#d7dae4"/><rect x="418.5" y="314.54" width="24.8" height="7.52" fill="#ebadac"/><rect x="443.25" y="314.54" width="24.8" height="7.52" fill="#e99e9c"/><rect x="369" y="322.01" width="24.8" height="7.52" fill="#7080aa"/><rect x="393.75" y="322.01" width="24.8" height="7.52" fill="#ededf0"/><rect x="418.5" y="322.01" width="24.8" height="7.52" fill="#f4e1e1"/><rect x="443.25" y="322.01" width="24.8" height="7.52" fill="#f2d2d1"/><rect x="369" y="329.48" width="24.8" height="7.52" fill="#eaa8a7"/><rect x="393.75" y="329.48" width="24.8" height="7.52" fill="#dd5a58"/><rect x="418.5" y="329.48" width="24.8" height="7.52" fill="#f2d2d1"/><rect x="443.25" y="329.48" width="24.8" height="7.52" fill="#f4dcdc"/><rect x="369" y="336.95" width="24.8" height="7.52" fill="#ebadac"/><rect x="393.75" y="336.95" width="24.8" height="7.52" fill="#e2e3ea"/><rect x="418.5" y="336.95" width="24.8" height="7.52" fill="#ebadac"/><rect x="443.25" y="336.95" width="24.8" height="7.52" fill="#eaa3a2"/><rect x="369" y="344.42" width="24.8" height="7.52" fill="#a1abc6"/><rect x="393.75" y="344.42" width="24.8" height="7.52" fill="#8b98ba"/><rect x="418.5" y="344.42" width="24.8" height="7.52" fill="#f7f1f1"/><rect x="443.25" y="344.42" width="24.8" height="7.52" fill="#f1cccc"/><rect x="369" y="351.89" width="24.8" height="7.52" fill="#efc2c1"/><rect x="393.75" y="351.89" width="24.8" height="7.52" fill="#f1cccc"/><rect x="418.5" y="351.89" width="24.8" height="7.52" fill="#ebadac"/><rect x="443.25" y="351.89" width="24.8" height="7.52" fill="#eaa8a7"/><rect x="369" y="359.36" width="24.8" height="7.52" fill="#efc2c1"/><rect x="393.75" y="359.36" width="24.8" height="7.52" fill="#f6eceb"/><rect x="418.5" y="359.36" width="24.8" height="7.52" fill="#f0c7c7"/><rect x="443.25" y="359.36" width="24.8" height="7.52" fill="#e8e8ed"/><rect x="369" y="366.83" width="24.8" height="7.52" fill="#f0c7c7"/><rect x="393.75" y="366.83" width="24.8" height="7.52" fill="#96a1c0"/><rect x="418.5" y="366.83" width="24.8" height="7.52" fill="#f1cccc"/><rect x="443.25" y="366.83" width="24.8" height="7.52" fill="#d7dae4"/><rect x="369" y="374.3" width="24.8" height="7.52" fill="#f1cccc"/><rect x="393.75" y="374.3" width="24.8" height="7.52" fill="#e27472"/><rect x="418.5" y="374.3" width="24.8" height="7.52" fill="#f2d2d1"/><rect x="443.25" y="374.3" width="24.8" height="7.52" fill="#f1cccc"/><rect x="369" y="381.77" width="24.8" height="7.52" fill="#f2d2d1"/><rect x="393.75" y="381.77" width="24.8" height="7.52" fill="#f6eceb"/><rect x="418.5" y="381.77" width="24.8" height="7.52" fill="#ecb2b1"/><rect x="443.25" y="381.77" width="24.8" height="7.52" fill="#ebadac"/><rect x="369" y="389.24" width="24.8" height="7.52" fill="#ededf0"/><rect x="393.75" y="389.24" width="24.8" height="7.52" fill="#c2c7d8"/><rect x="418.5" y="389.24" width="24.8" height="7.52" fill="#efc2c1"/><rect x="443.25" y="389.24" width="24.8" height="7.52" fill="#f1cccc"/><rect x="369" y="396.71" width="24.8" height="7.52" fill="#e2e3ea"/><rect x="393.75" y="396.71" width="24.8" height="7.52" fill="#d2d5e1"/><rect x="418.5" y="396.71" width="24.8" height="7.52" fill="#efc2c1"/><rect x="443.25" y="396.71" width="24.8" height="7.52" fill="#f2d2d1"/><rect x="369" y="404.18" width="24.8" height="7.52" fill="#f8f6f6"/><rect x="393.75" y="404.18" width="24.8" height="7.52" fill="#f1cccc"/><rect x="418.5" y="404.18" width="24.8" height="7.52" fill="#e8e8ed"/><rect x="443.25" y="404.18" width="24.8" height="7.52" fill="#c2c7d8"/></g><g font-size="4.3" text-anchor="end" fill="#2a2020" stroke="#2a2020" stroke-width="0.12"><text x="393.25" y="155.49"><tspan font-style="italic">P</tspan> &lt; 0.001</text><text x="442.75" y="155.49"><tspan font-style="italic">P</tspan> &lt; 0.001</text><text x="467.5" y="155.49"><tspan font-style="italic">P</tspan> = 0.007</text><text x="393.25" y="162.96"><tspan font-style="italic">P</tspan> &lt; 0.001</text><text x="442.75" y="162.96"><tspan font-style="italic">P</tspan> &lt; 0.001</text><text x="467.5" y="162.96"><tspan font-style="italic">P</tspan> = 0.004</text><text x="393.25" y="170.43"><tspan font-style="italic">P</tspan> &lt; 0.001</text><text x="442.75" y="170.43"><tspan font-style="italic">P</tspan> &lt; 0.001</text><text x="467.5" y="170.43"><tspan font-style="italic">P</tspan> = 0.009</text><text x="393.25" y="177.9"><tspan font-style="italic">P</tspan> &lt; 0.001</text><text x="442.75" y="177.9"><tspan font-style="italic">P</tspan> &lt; 0.001</text><text x="467.5" y="177.9"><tspan font-style="italic">P</tspan> = 0.004</text><text x="393.25" y="185.37"><tspan font-style="italic">P</tspan> &lt; 0.001</text><text x="442.75" y="185.37"><tspan font-style="italic">P</tspan> &lt; 0.001</text><text x="467.5" y="185.37"><tspan font-style="italic">P</tspan> = 0.036</text><text x="393.25" y="192.84"><tspan font-style="italic">P</tspan> &lt; 0.001</text><text x="442.75" y="192.84"><tspan font-style="italic">P</tspan> &lt; 0.001</text><text x="467.5" y="192.84"><tspan font-style="italic">P</tspan> &lt; 0.001</text><text x="393.25" y="200.31"><tspan font-style="italic">P</tspan> &lt; 0.001</text><text x="442.75" y="200.31"><tspan font-style="italic">P</tspan> = 0.003</text><text x="393.25" y="207.78"><tspan font-style="italic">P</tspan> &lt; 0.001</text><text x="442.75" y="207.78"><tspan font-style="italic">P</tspan> &lt; 0.001</text><text x="467.5" y="207.78"><tspan font-style="italic">P</tspan> &lt; 0.001</text><text x="393.25" y="215.25"><tspan font-style="italic">P</tspan> &lt; 0.001</text><text x="442.75" y="215.25"><tspan font-style="italic">P</tspan> &lt; 0.001</text><text x="467.5" y="215.25"><tspan font-style="italic">P</tspan> = 0.004</text><text x="393.25" y="222.72"><tspan font-style="italic">P</tspan> &lt; 0.001</text><text x="442.75" y="222.72"><tspan font-style="italic">P</tspan> &lt; 0.001</text><text x="467.5" y="222.72"><tspan font-style="italic">P</tspan> = 0.002</text><text x="393.25" y="230.19"><tspan font-style="italic">P</tspan> &lt; 0.001</text><text x="442.75" y="230.19"><tspan font-style="italic">P</tspan> &lt; 0.001</text><text x="467.5" y="230.19"><tspan font-style="italic">P</tspan> &lt; 0.001</text><text x="393.25" y="237.66"><tspan font-style="italic">P</tspan> &lt; 0.001</text><text x="442.75" y="237.66"><tspan font-style="italic">P</tspan> &lt; 0.001</text><text x="467.5" y="237.66"><tspan font-style="italic">P</tspan> = 0.005</text><text x="393.25" y="245.12"><tspan font-style="italic">P</tspan> &lt; 0.001</text><text x="442.75" y="245.12"><tspan font-style="italic">P</tspan> &lt; 0.001</text><text x="467.5" y="245.12"><tspan font-style="italic">P</tspan> = 0.001</text><text x="393.25" y="252.6"><tspan font-style="italic">P</tspan> &lt; 0.001</text><text x="442.75" y="252.6"><tspan font-style="italic">P</tspan> &lt; 0.001</text><text x="467.5" y="252.6"><tspan font-style="italic">P</tspan> &lt; 0.001</text><text x="393.25" y="260.06"><tspan font-style="italic">P</tspan> &lt; 0.001</text><text x="442.75" y="260.06"><tspan font-style="italic">P</tspan> &lt; 0.001</text><text x="393.25" y="267.54"><tspan font-style="italic">P</tspan> &lt; 0.001</text><text x="442.75" y="267.54"><tspan font-style="italic">P</tspan> &lt; 0.001</text><text x="467.5" y="267.54"><tspan font-style="italic">P</tspan> &lt; 0.001</text><text x="393.25" y="275"><tspan font-style="italic">P</tspan> &lt; 0.001</text><text x="442.75" y="275"><tspan font-style="italic">P</tspan> &lt; 0.001</text><text x="467.5" y="275"><tspan font-style="italic">P</tspan> = 0.002</text><text x="393.25" y="282.48"><tspan font-style="italic">P</tspan> &lt; 0.001</text><text x="442.75" y="282.48"><tspan font-style="italic">P</tspan> &lt; 0.001</text><text x="467.5" y="282.48"><tspan font-style="italic">P</tspan> = 0.010</text><text x="393.25" y="289.94"><tspan font-style="italic">P</tspan> &lt; 0.001</text><text x="442.75" y="289.94"><tspan font-style="italic">P</tspan> &lt; 0.001</text><text x="467.5" y="289.94"><tspan font-style="italic">P</tspan> &lt; 0.001</text><text x="393.25" y="297.42"><tspan font-style="italic">P</tspan> = 0.025</text><text x="393.25" y="304.89"><tspan font-style="italic">P</tspan> = 0.006</text><text x="442.75" y="304.89"><tspan font-style="italic">P</tspan> &lt; 0.001</text><text x="393.25" y="312.36"><tspan font-style="italic">P</tspan> = 0.006</text><text x="442.75" y="312.36"><tspan font-style="italic">P</tspan> = 0.006</text><text x="467.5" y="312.36"><tspan font-style="italic">P</tspan> = 0.047</text><text x="393.25" y="319.82"><tspan font-style="italic">P</tspan> = 0.006</text><text x="442.75" y="319.82"><tspan font-style="italic">P</tspan> &lt; 0.001</text><text x="467.5" y="319.82"><tspan font-style="italic">P</tspan> = 0.004</text><text x="393.25" y="327.3"><tspan font-style="italic">P</tspan> = 0.009</text><text x="393.25" y="334.77"><tspan font-style="italic">P</tspan> = 0.014</text><text x="418" y="334.77"><tspan font-style="italic">P</tspan> = 0.010</text><text x="442.75" y="334.77"><tspan font-style="italic">P</tspan> = 0.005</text><text x="393.25" y="342.24"><tspan font-style="italic">P</tspan> = 0.018</text><text x="442.75" y="342.24"><tspan font-style="italic">P</tspan> &lt; 0.001</text><text x="467.5" y="342.24"><tspan font-style="italic">P</tspan> = 0.004</text><text x="467.5" y="349.7"><tspan font-style="italic">P</tspan> = 0.045</text><text x="442.75" y="357.18"><tspan font-style="italic">P</tspan> &lt; 0.001</text><text x="467.5" y="357.18"><tspan font-style="italic">P</tspan> = 0.016</text><text x="442.75" y="364.65"><tspan font-style="italic">P</tspan> = 0.002</text><text x="442.75" y="387.06"><tspan font-style="italic">P</tspan> = 0.003</text><text x="467.5" y="387.06"><tspan font-style="italic">P</tspan> = 0.028</text><text x="442.75" y="394.53"><tspan font-style="italic">P</tspan> = 0.033</text><text x="442.75" y="402"><tspan font-style="italic">P</tspan> = 0.001</text></g><text x="469.7" y="156.84" font-size="6.3" fill="#222" stroke="#222" stroke-width="0.25">MHCII</text><text x="469.7" y="164.31" font-size="6.3" fill="#222" stroke="#222" stroke-width="0.25">PDL1</text><text x="469.7" y="171.78" font-size="6.3" fill="#222" stroke="#222" stroke-width="0.25">Macrophages</text><text x="469.7" y="179.25" font-size="6.3" fill="#222" stroke="#222" stroke-width="0.25">aDC</text><text x="469.7" y="186.72" font-size="6.3" fill="#222" stroke="#222" stroke-width="0.25">IFN</text><text x="469.7" y="194.19" font-size="6.3" fill="#222" stroke="#222" stroke-width="0.25">Neutrophils</text><text x="469.7" y="201.66" font-size="6.3" fill="#222" stroke="#222" stroke-width="0.25">TIM3</text><text x="469.7" y="209.12" font-size="6.3" fill="#222" stroke="#222" stroke-width="0.25">Th1 cells</text><text x="469.7" y="216.59" font-size="6.3" fill="#222" stroke="#222" stroke-width="0.25">CTLA4</text><text x="469.7" y="224.07" font-size="6.3" fill="#222" stroke="#222" stroke-width="0.25">NK CD56<tspan font-size="3.6" dy="-2">dim</tspan><tspan dy="2"> cells</tspan></text><text x="469.7" y="231.53" font-size="6.3" fill="#222" stroke="#222" stroke-width="0.25">T helper cells</text><text x="469.7" y="239.01" font-size="6.3" fill="#222" stroke="#222" stroke-width="0.25">LAG3</text><text x="469.7" y="246.47" font-size="6.3" fill="#222" stroke="#222" stroke-width="0.25">T cells</text><text x="469.7" y="253.95" font-size="6.3" fill="#222" stroke="#222" stroke-width="0.25">PD1</text><text x="469.7" y="261.41" font-size="6.3" fill="#222" stroke="#222" stroke-width="0.25">Tem</text><text x="469.7" y="268.88" font-size="6.3" fill="#222" stroke="#222" stroke-width="0.25">NK cells</text><text x="469.7" y="276.35" font-size="6.3" fill="#222" stroke="#222" stroke-width="0.25">TReg</text><text x="469.7" y="283.82" font-size="6.3" fill="#222" stroke="#222" stroke-width="0.25">Cytotoxic cells</text><text x="469.7" y="291.29" font-size="6.3" fill="#222" stroke="#222" stroke-width="0.25">PDL2</text><text x="469.7" y="298.76" font-size="6.3" fill="#222" stroke="#222" stroke-width="0.25">TFH</text><text x="469.7" y="306.24" font-size="6.3" fill="#222" stroke="#222" stroke-width="0.25">iDC</text><text x="469.7" y="313.7" font-size="6.3" fill="#222" stroke="#222" stroke-width="0.25">B cells</text><text x="469.7" y="321.17" font-size="6.3" fill="#222" stroke="#222" stroke-width="0.25">CD8 T cells</text><text x="469.7" y="328.64" font-size="6.3" fill="#222" stroke="#222" stroke-width="0.25">Th17 cells</text><text x="469.7" y="336.12" font-size="6.3" fill="#222" stroke="#222" stroke-width="0.25">Tcm</text><text x="469.7" y="343.58" font-size="6.3" fill="#222" stroke="#222" stroke-width="0.25">DC</text><text x="469.7" y="351.05" font-size="6.3" fill="#222" stroke="#222" stroke-width="0.25">B7−H4</text><text x="469.7" y="358.52" font-size="6.3" fill="#222" stroke="#222" stroke-width="0.25">Th2 cells</text><text x="469.7" y="366" font-size="6.3" fill="#222" stroke="#222" stroke-width="0.25">OX40</text><text x="469.7" y="373.46" font-size="6.3" fill="#222" stroke="#222" stroke-width="0.25">pDC</text><text x="469.7" y="380.93" font-size="6.3" fill="#222" stroke="#222" stroke-width="0.25">OX40L</text><text x="469.7" y="388.4" font-size="6.3" fill="#222" stroke="#222" stroke-width="0.25">Mast cells</text><text x="469.7" y="395.88" font-size="6.3" fill="#222" stroke="#222" stroke-width="0.25">Tgd</text><text x="469.7" y="403.34" font-size="6.3" fill="#222" stroke="#222" stroke-width="0.25">Eosinophils</text><text x="469.7" y="410.81" font-size="6.3" fill="#222" stroke="#222" stroke-width="0.25">NK CD56<tspan font-size="3.6" dy="-2">bright</tspan><tspan dy="2"> cells</tspan></text><text x="363.5" y="156" font-size="6.4" text-anchor="middle" fill="#222" stroke="#222" stroke-width="0.25">rho</text><rect x="361.8" y="159" width="5.9" height="42.7" fill="url(#gC)"/><text x="360.2" y="161.8" font-size="6.6" text-anchor="end" fill="#222" stroke="#222" stroke-width="0.25">0.4</text><text x="360.2" y="172.1" font-size="6.6" text-anchor="end" fill="#222" stroke="#222" stroke-width="0.25">0.2</text><text x="359.3" y="182.4" font-size="5.2" text-anchor="end" fill="#222" stroke="#222" stroke-width="0.25">0</text><text x="360.2" y="193.2" font-size="6.6" text-anchor="end" fill="#222" stroke="#222" stroke-width="0.25">−0.2</text><text x="360.2" y="203.1" font-size="6.6" text-anchor="end" fill="#222" stroke="#222" stroke-width="0.25">−0.4</text><text x="385.38" y="415.5" font-size="6.9" text-anchor="end" fill="#222" stroke="#222" stroke-width="0.25" transform="rotate(-45 385.38 415.5)">Basal−like</text><text x="411.62" y="415.5" font-size="6.9" text-anchor="end" fill="#222" stroke="#222" stroke-width="0.25" transform="rotate(-45 411.62 415.5)">HER2−enriched</text><text x="436.38" y="415.5" font-size="6.9" text-anchor="end" fill="#222" stroke="#222" stroke-width="0.25" transform="rotate(-45 436.38 415.5)">Luminal A</text><text x="460.32" y="415.5" font-size="6.9" text-anchor="end" fill="#222" stroke="#222" stroke-width="0.25" transform="rotate(-45 460.32 415.5)">Luminal B</text><text x="1.4" y="427.4" font-size="12.6" font-weight="bold" fill="#000">D</text><line x1="48.2" y1="425" x2="48.2" y2="520.5" stroke="#333" stroke-width="1"/><line x1="48.2" y1="520.3" x2="171.5" y2="520.3" stroke="#333" stroke-width="1"/><line x1="46" y1="516.7" x2="48.2" y2="516.7" stroke="#333" stroke-width="0.8"/><text x="44.8" y="519" font-size="6.6" text-anchor="end" fill="#333" stroke="#333" stroke-width="0.25">0</text><line x1="46" y1="491.5" x2="48.2" y2="491.5" stroke="#333" stroke-width="0.8"/><text x="44.8" y="493.8" font-size="6.6" text-anchor="end" fill="#333" stroke="#333" stroke-width="0.25">2</text><line x1="46" y1="466.3" x2="48.2" y2="466.3" stroke="#333" stroke-width="0.8"/><text x="44.8" y="468.6" font-size="6.6" text-anchor="end" fill="#333" stroke="#333" stroke-width="0.25">4</text><line x1="46" y1="441.1" x2="48.2" y2="441.1" stroke="#333" stroke-width="0.8"/><text x="44.8" y="443.4" font-size="6.6" text-anchor="end" fill="#333" stroke="#333" stroke-width="0.25">6</text><line x1="81.5" y1="520.3" x2="81.5" y2="522.5" stroke="#333" stroke-width="0.8"/><line x1="137.5" y1="520.3" x2="137.5" y2="522.5" stroke="#333" stroke-width="0.8"/><text x="83.3" y="530" font-size="7.3" text-anchor="middle" fill="#222" stroke="#222" stroke-width="0.25">Basal-like</text><text x="139.5" y="530" font-size="7.3" text-anchor="middle" fill="#222" stroke="#222" stroke-width="0.25">HER2-enriched</text><text x="35.5" y="474.5" font-size="6.65" text-anchor="middle" fill="#222" stroke="#222" stroke-width="0.25" transform="rotate(-90 35.5 474.5)">Log (Number of subclonal mutations)</text><line x1="64.6" y1="451" x2="64.6" y2="458.4" stroke="#b5282e" stroke-width="0.9"/><line x1="64.6" y1="478.4" x2="64.6" y2="499.7" stroke="#b5282e" stroke-width="0.9"/><rect x="60.1" y="458.4" width="9" height="20" fill="none" stroke="#b5282e" stroke-width="0.9"/><line x1="60.1" y1="465.2" x2="69.1" y2="465.2" stroke="#b5282e" stroke-width="0.9"/><g fill="#b5282e"><circle cx="63.69" cy="469.28" r="0.9"/><circle cx="61.56" cy="481.47" r="0.9"/><circle cx="62.92" cy="475.15" r="0.9"/><circle cx="64.39" cy="478.31" r="0.9"/><circle cx="65.57" cy="474.2" r="0.9"/><circle cx="67.18" cy="471.1" r="0.9"/><circle cx="65.8" cy="487.1" r="0.9"/><circle cx="65.24" cy="473.56" r="0.9"/><circle cx="67.16" cy="459.02" r="0.9"/><circle cx="67.25" cy="472.78" r="0.9"/><circle cx="63.86" cy="495.86" r="0.9"/><circle cx="67.65" cy="472.65" r="0.9"/><circle cx="62.05" cy="455.75" r="0.9"/><circle cx="64.15" cy="477.71" r="0.9"/><circle cx="64.65" cy="465.66" r="0.9"/><circle cx="65.2" cy="465.42" r="0.9"/><circle cx="65.87" cy="495.03" r="0.9"/><circle cx="68.04" cy="492.71" r="0.9"/><circle cx="67.12" cy="458.94" r="0.9"/><circle cx="65.08" cy="495.06" r="0.9"/><circle cx="66.92" cy="461.28" r="0.9"/><circle cx="61.54" cy="464.88" r="0.9"/><circle cx="61.72" cy="499.2" r="0.9"/><circle cx="62.16" cy="470.99" r="0.9"/><circle cx="67.21" cy="473.78" r="0.9"/><circle cx="61.41" cy="470.69" r="0.9"/><circle cx="67.27" cy="467.12" r="0.9"/><circle cx="68.09" cy="475.61" r="0.9"/></g><line x1="71.5" y1="460.1" x2="80.1" y2="460.1" stroke="#2f64a3" stroke-width="0.9"/><g fill="#2f64a3"><circle cx="76.5" cy="460.1" r="0.9"/></g><line x1="87.1" y1="449.6" x2="87.1" y2="462" stroke="#e8a494" stroke-width="0.9"/><line x1="87.1" y1="474.2" x2="87.1" y2="502.4" stroke="#e8a494" stroke-width="0.9"/><rect x="82.6" y="462" width="9" height="12.2" fill="none" stroke="#e8a494" stroke-width="0.9"/><line x1="82.6" y1="468" x2="91.6" y2="468" stroke="#e8a494" stroke-width="0.9"/><g fill="#e8a494"><circle cx="86.46" cy="464.41" r="0.75"/><circle cx="83.9" cy="457.85" r="0.75"/><circle cx="90.31" cy="466.17" r="0.75"/><circle cx="86.82" cy="469.55" r="0.75"/><circle cx="87.77" cy="483.6" r="0.75"/><circle cx="90.18" cy="482.34" r="0.75"/><circle cx="88.64" cy="472.37" r="0.75"/><circle cx="90.44" cy="465.67" r="0.75"/><circle cx="83.68" cy="478.56" r="0.75"/><circle cx="83.74" cy="469.08" r="0.75"/><circle cx="84.02" cy="482.98" r="0.75"/><circle cx="88.35" cy="474.22" r="0.75"/><circle cx="88.77" cy="470.62" r="0.75"/><circle cx="88.33" cy="462.74" r="0.75"/><circle cx="86.79" cy="462.86" r="0.75"/><circle cx="86.15" cy="466.5" r="0.75"/><circle cx="87.77" cy="466.5" r="0.75"/><circle cx="89.01" cy="466.6" r="0.75"/><circle cx="88.75" cy="468.94" r="0.75"/><circle cx="89.23" cy="464.71" r="0.75"/><circle cx="86.65" cy="464.29" r="0.75"/><circle cx="85.85" cy="454.98" r="0.75"/><circle cx="86.67" cy="472.17" r="0.75"/><circle cx="85.96" cy="458.54" r="0.75"/><circle cx="86.76" cy="496.32" r="0.75"/><circle cx="87.31" cy="463.48" r="0.75"/><circle cx="89.47" cy="471.84" r="0.75"/><circle cx="89.25" cy="465.4" r="0.75"/><circle cx="86.02" cy="492.17" r="0.75"/><circle cx="89.16" cy="465.56" r="0.75"/><circle cx="86.52" cy="466.23" r="0.75"/><circle cx="90.04" cy="467" r="0.75"/><circle cx="90.2" cy="462.06" r="0.75"/><circle cx="86.64" cy="501.71" r="0.75"/><circle cx="85.15" cy="498.57" r="0.75"/><circle cx="88.24" cy="493.78" r="0.75"/><circle cx="85.99" cy="464.86" r="0.75"/><circle cx="87.72" cy="462.83" r="0.75"/><circle cx="83.92" cy="471.88" r="0.75"/><circle cx="90.07" cy="486.23" r="0.75"/><circle cx="87.64" cy="497.1" r="0.75"/><circle cx="84.8" cy="471.09" r="0.75"/><circle cx="87.27" cy="470.09" r="0.75"/><circle cx="87.89" cy="473.46" r="0.75"/><circle cx="89.63" cy="465.08" r="0.75"/></g><line x1="98.5" y1="453.2" x2="98.5" y2="462.3" stroke="#a5c6e0" stroke-width="0.9"/><line x1="98.5" y1="474.7" x2="98.5" y2="491.5" stroke="#a5c6e0" stroke-width="0.9"/><rect x="94" y="462.3" width="9" height="12.4" fill="none" stroke="#a5c6e0" stroke-width="0.9"/><line x1="94" y1="468.5" x2="103" y2="468.5" stroke="#a5c6e0" stroke-width="0.9"/><g fill="#a5c6e0"><circle cx="97.46" cy="472" r="0.75"/><circle cx="100.72" cy="468.93" r="0.75"/><circle cx="101.45" cy="472.12" r="0.75"/><circle cx="95.05" cy="484.74" r="0.75"/><circle cx="95.35" cy="486.24" r="0.75"/><circle cx="98.69" cy="465.63" r="0.75"/><circle cx="100.44" cy="468.16" r="0.75"/><circle cx="95.89" cy="462.98" r="0.75"/><circle cx="101.82" cy="463.15" r="0.75"/><circle cx="98.51" cy="456.5" r="0.75"/><circle cx="97.46" cy="466.2" r="0.75"/><circle cx="97.53" cy="475.67" r="0.75"/><circle cx="95.87" cy="466.38" r="0.75"/><circle cx="97.66" cy="480.62" r="0.75"/><circle cx="97.61" cy="464.51" r="0.75"/><circle cx="97.66" cy="483.17" r="0.75"/><circle cx="98.02" cy="477.06" r="0.75"/><circle cx="99.92" cy="468.45" r="0.75"/><circle cx="98.23" cy="470.91" r="0.75"/><circle cx="99.87" cy="468.94" r="0.75"/><circle cx="97.98" cy="467.57" r="0.75"/><circle cx="97.62" cy="489.07" r="0.75"/><circle cx="96.84" cy="483.49" r="0.75"/><circle cx="100.69" cy="463.83" r="0.75"/><circle cx="100.55" cy="487.19" r="0.75"/><circle cx="98.95" cy="481.3" r="0.75"/><circle cx="95.03" cy="469.59" r="0.75"/><circle cx="95.31" cy="471.9" r="0.75"/><circle cx="101.16" cy="463.53" r="0.75"/><circle cx="100.89" cy="462.59" r="0.75"/><circle cx="99.71" cy="472.76" r="0.75"/><circle cx="99.05" cy="489.68" r="0.75"/><circle cx="100.37" cy="454.59" r="0.75"/><circle cx="95.75" cy="480.59" r="0.75"/><circle cx="95.43" cy="488.99" r="0.75"/><circle cx="100.8" cy="469.29" r="0.75"/><circle cx="96.75" cy="464.53" r="0.75"/><circle cx="97.76" cy="482.06" r="0.75"/><circle cx="97.45" cy="467.22" r="0.75"/><circle cx="98.5" cy="463.33" r="0.75"/></g><line x1="120.7" y1="450.6" x2="120.7" y2="454.8" stroke="#b5282e" stroke-width="0.9"/><line x1="120.7" y1="470.6" x2="120.7" y2="477" stroke="#b5282e" stroke-width="0.9"/><rect x="116.2" y="454.8" width="9" height="15.8" fill="none" stroke="#b5282e" stroke-width="0.9"/><line x1="116.2" y1="463.2" x2="125.2" y2="463.2" stroke="#b5282e" stroke-width="0.9"/><g fill="#b5282e"><circle cx="122.43" cy="461.5" r="0.9"/><circle cx="122.49" cy="465.72" r="0.9"/><circle cx="120.59" cy="464.25" r="0.9"/><circle cx="118.25" cy="474.29" r="0.9"/><circle cx="123.62" cy="466.62" r="0.9"/><circle cx="122.23" cy="462.3" r="0.9"/><circle cx="118.59" cy="459.02" r="0.9"/><circle cx="118.83" cy="458.91" r="0.9"/><circle cx="119.27" cy="475.77" r="0.9"/><circle cx="123.18" cy="461.51" r="0.9"/><circle cx="118.72" cy="457.65" r="0.9"/><circle cx="119.88" cy="462.38" r="0.9"/><circle cx="119.45" cy="460.5" r="0.9"/><circle cx="124.14" cy="454.39" r="0.9"/><circle cx="120.48" cy="464.26" r="0.9"/><circle cx="121.1" cy="472.29" r="0.9"/><circle cx="123.2" cy="466.19" r="0.9"/><circle cx="123.92" cy="466.39" r="0.9"/><circle cx="118.84" cy="458.43" r="0.9"/><circle cx="123.91" cy="468.43" r="0.9"/><circle cx="118.53" cy="456.99" r="0.9"/><circle cx="122.13" cy="457.76" r="0.9"/></g><line x1="132" y1="432.6" x2="132" y2="453.7" stroke="#2f64a3" stroke-width="0.9"/><line x1="132" y1="471.7" x2="132" y2="482.2" stroke="#2f64a3" stroke-width="0.9"/><rect x="127.5" y="453.7" width="9" height="18" fill="none" stroke="#2f64a3" stroke-width="0.9"/><line x1="127.5" y1="461.1" x2="136.5" y2="461.1" stroke="#2f64a3" stroke-width="0.9"/><g fill="#2f64a3"><circle cx="130.29" cy="477.23" r="0.9"/><circle cx="131.46" cy="448.15" r="0.9"/><circle cx="129.15" cy="436.86" r="0.9"/><circle cx="131" cy="447.07" r="0.9"/><circle cx="128.55" cy="466.11" r="0.9"/><circle cx="131.9" cy="461.55" r="0.9"/><circle cx="135.19" cy="464.23" r="0.9"/><circle cx="129.33" cy="463.5" r="0.9"/><circle cx="129.29" cy="465.68" r="0.9"/><circle cx="129.18" cy="477.67" r="0.9"/><circle cx="133.91" cy="451.16" r="0.9"/><circle cx="133.23" cy="447.26" r="0.9"/><circle cx="130.36" cy="472.58" r="0.9"/><circle cx="133.21" cy="480.28" r="0.9"/><circle cx="131.96" cy="438.22" r="0.9"/><circle cx="133.25" cy="466.63" r="0.9"/><circle cx="133.02" cy="441.63" r="0.9"/><circle cx="134.73" cy="441.48" r="0.9"/><circle cx="135.02" cy="438.71" r="0.9"/><circle cx="133.54" cy="459.67" r="0.9"/></g><line x1="143" y1="456.9" x2="143" y2="464.3" stroke="#e8a494" stroke-width="0.9"/><line x1="143" y1="477.3" x2="143" y2="498" stroke="#e8a494" stroke-width="0.9"/><rect x="138.5" y="464.3" width="9" height="13" fill="none" stroke="#e8a494" stroke-width="0.9"/><line x1="138.5" y1="470" x2="147.5" y2="470" stroke="#e8a494" stroke-width="0.9"/><g fill="#e8a494"><circle cx="144.03" cy="479.71" r="0.75"/><circle cx="140.73" cy="468.36" r="0.75"/><circle cx="144.78" cy="473.61" r="0.75"/><circle cx="142.01" cy="487.3" r="0.75"/><circle cx="145.61" cy="469.28" r="0.75"/><circle cx="141.23" cy="470.86" r="0.75"/><circle cx="141.83" cy="471.45" r="0.75"/><circle cx="144.9" cy="471.34" r="0.75"/><circle cx="140.28" cy="475.31" r="0.75"/><circle cx="140.29" cy="465.6" r="0.75"/><circle cx="140.79" cy="486.79" r="0.75"/><circle cx="144.7" cy="469.72" r="0.75"/><circle cx="143.64" cy="487.67" r="0.75"/><circle cx="140.86" cy="469.48" r="0.75"/><circle cx="140.91" cy="480.26" r="0.75"/><circle cx="139.71" cy="474.46" r="0.75"/><circle cx="146.15" cy="493.53" r="0.75"/><circle cx="143.58" cy="471.48" r="0.75"/><circle cx="144.31" cy="497.05" r="0.75"/><circle cx="142.89" cy="475.48" r="0.75"/><circle cx="139.52" cy="486.77" r="0.75"/><circle cx="142.94" cy="484.11" r="0.75"/><circle cx="140.85" cy="475.83" r="0.75"/><circle cx="143" cy="458.42" r="0.75"/><circle cx="143.46" cy="475.16" r="0.75"/></g><line x1="154.4" y1="458" x2="154.4" y2="459" stroke="#a5c6e0" stroke-width="0.9"/><line x1="154.4" y1="470.6" x2="154.4" y2="475.9" stroke="#a5c6e0" stroke-width="0.9"/><rect x="149.9" y="459" width="9" height="11.6" fill="none" stroke="#a5c6e0" stroke-width="0.9"/><line x1="149.9" y1="465" x2="158.9" y2="465" stroke="#a5c6e0" stroke-width="0.9"/><g fill="#a5c6e0"><circle cx="151.85" cy="473.97" r="0.75"/><circle cx="151.25" cy="469.16" r="0.75"/><circle cx="151.44" cy="461.71" r="0.75"/><circle cx="153.16" cy="474.64" r="0.75"/><circle cx="151.84" cy="470.43" r="0.75"/><circle cx="157.39" cy="468.76" r="0.75"/><circle cx="153.31" cy="471.24" r="0.75"/><circle cx="156.93" cy="474.68" r="0.75"/></g><circle cx="84.5" cy="513.3" r="0.7" fill="#e8a494"/><circle cx="130.7" cy="516" r="0.8" fill="#2f64a3"/><circle cx="142" cy="507.5" r="0.7" fill="#e8a494"/><line x1="115.3" y1="430.5" x2="138.5" y2="430.5" stroke="#111" stroke-width="1"/><text x="126.4" y="428.8" font-size="6" text-anchor="middle" fill="#111" stroke="#111" stroke-width="0.25">*</text><rect x="171.2" y="426.4" width="6.6" height="5.6" fill="none" stroke="#b5282e" stroke-width="0.8"/><line x1="171.2" y1="429.2" x2="177.8" y2="429.2" stroke="#b5282e" stroke-width="0.8"/><line x1="170" y1="429.2" x2="171.2" y2="429.2" stroke="#b5282e" stroke-width="0.8"/><line x1="177.8" y1="429.2" x2="179" y2="429.2" stroke="#b5282e" stroke-width="0.8"/><text x="181.9" y="431.7" font-size="7.0" fill="#222" stroke="#222" stroke-width="0.25">APOBEC−high Cluster 1</text><rect x="171.2" y="436.67" width="6.6" height="5.6" fill="none" stroke="#2f64a3" stroke-width="0.8"/><line x1="171.2" y1="439.47" x2="177.8" y2="439.47" stroke="#2f64a3" stroke-width="0.8"/><line x1="170" y1="439.47" x2="171.2" y2="439.47" stroke="#2f64a3" stroke-width="0.8"/><line x1="177.8" y1="439.47" x2="179" y2="439.47" stroke="#2f64a3" stroke-width="0.8"/><text x="181.9" y="441.97" font-size="7.0" fill="#222" stroke="#222" stroke-width="0.25">APOBEC−high Cluster 2</text><rect x="171.2" y="446.94" width="6.6" height="5.6" fill="none" stroke="#e8a494" stroke-width="0.8"/><line x1="171.2" y1="449.74" x2="177.8" y2="449.74" stroke="#e8a494" stroke-width="0.8"/><line x1="170" y1="449.74" x2="171.2" y2="449.74" stroke="#e8a494" stroke-width="0.8"/><line x1="177.8" y1="449.74" x2="179" y2="449.74" stroke="#e8a494" stroke-width="0.8"/><text x="181.9" y="452.24" font-size="7.0" fill="#222" stroke="#222" stroke-width="0.25">APOBEC−low Cluster 1</text><rect x="171.2" y="457.21" width="6.6" height="5.6" fill="none" stroke="#a5c6e0" stroke-width="0.8"/><line x1="171.2" y1="460.01" x2="177.8" y2="460.01" stroke="#a5c6e0" stroke-width="0.8"/><line x1="170" y1="460.01" x2="171.2" y2="460.01" stroke="#a5c6e0" stroke-width="0.8"/><line x1="177.8" y1="460.01" x2="179" y2="460.01" stroke="#a5c6e0" stroke-width="0.8"/><text x="181.9" y="462.51" font-size="7.0" fill="#222" stroke="#222" stroke-width="0.25">APOBEC−low Cluster 2</text></svg></body></html>
